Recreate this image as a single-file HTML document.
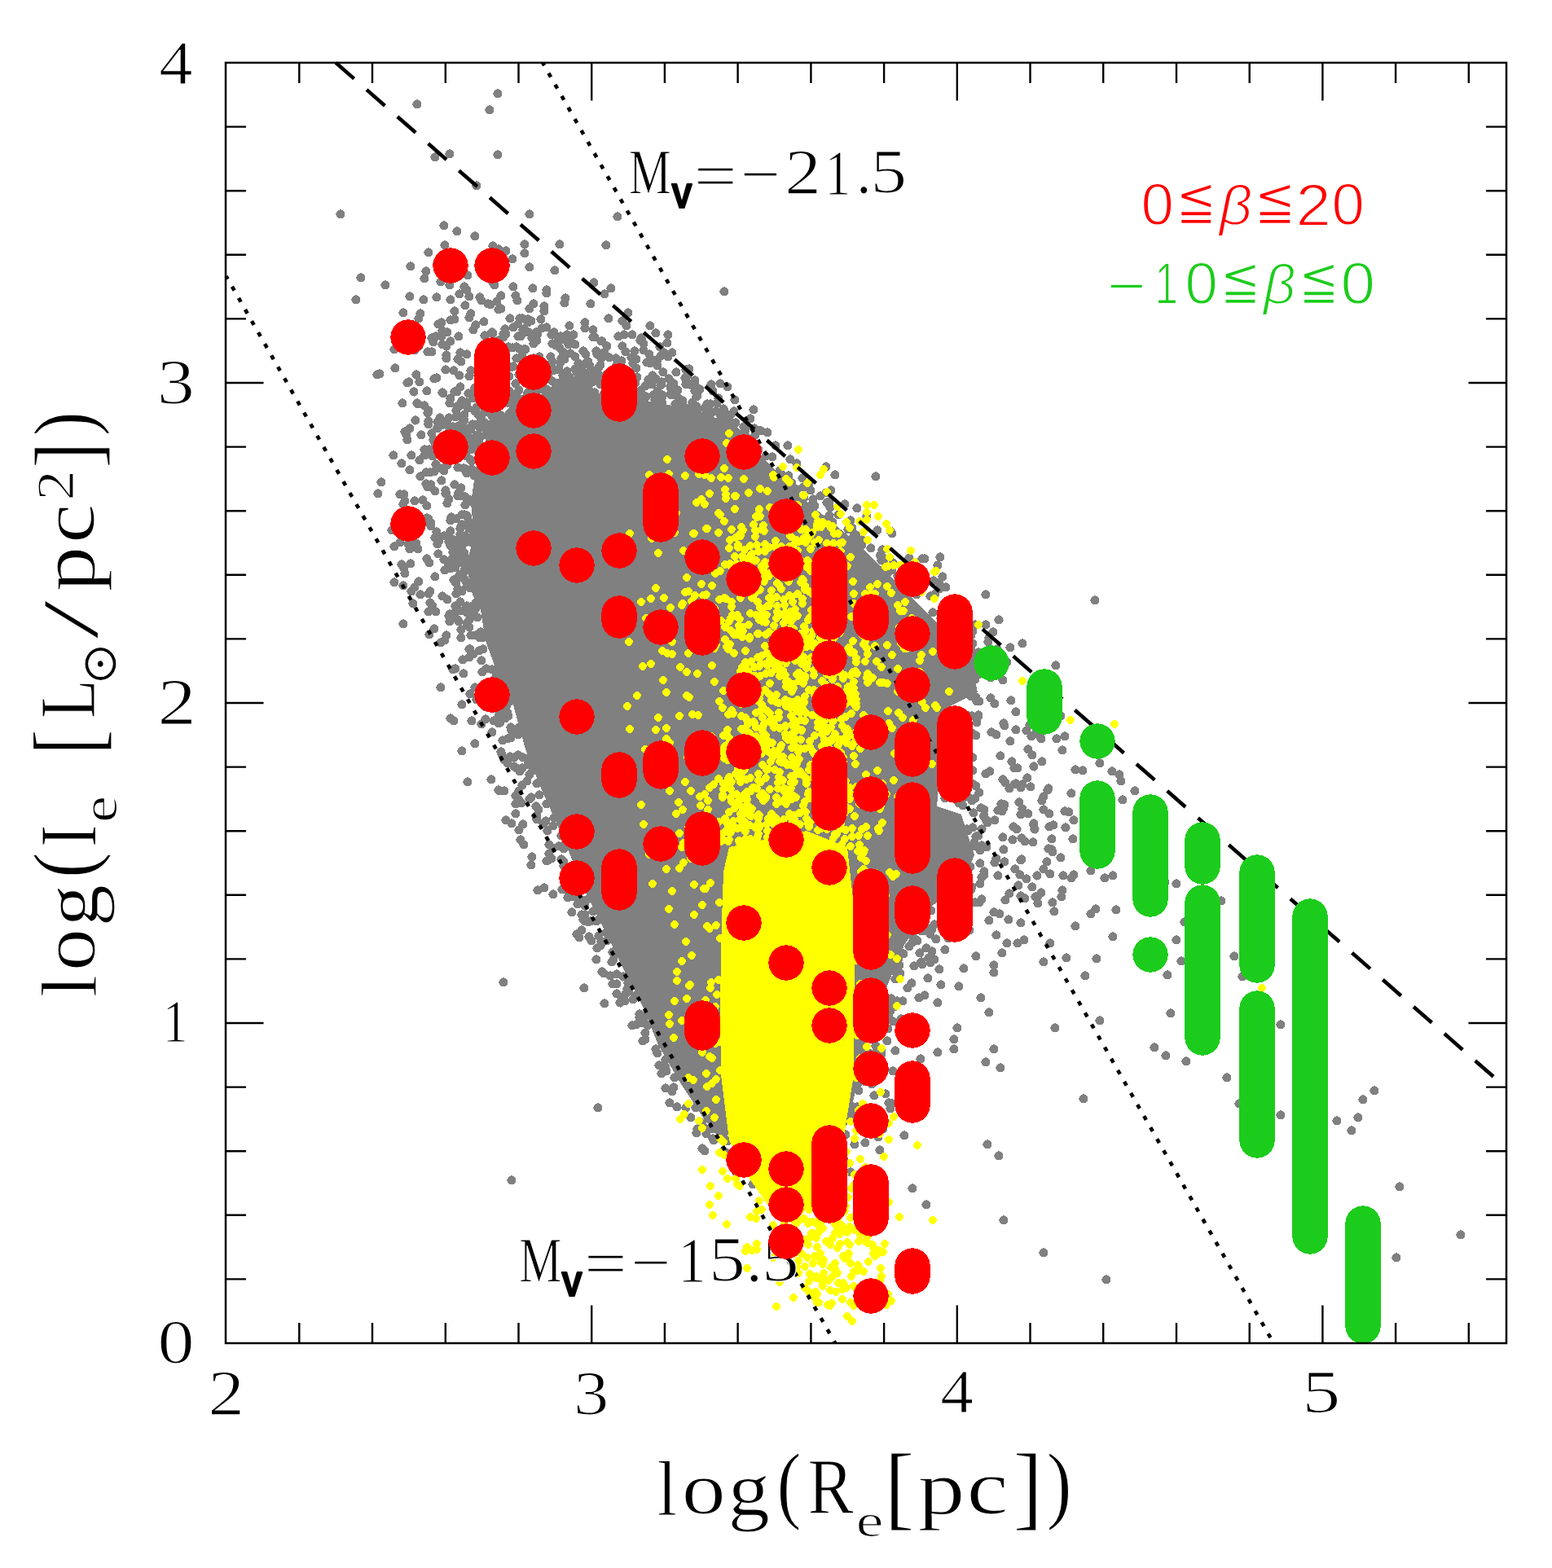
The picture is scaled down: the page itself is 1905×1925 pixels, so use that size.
<!DOCTYPE html>
<html><head><meta charset="utf-8"><title>log Ie vs log Re</title>
<style>html,body{margin:0;padding:0;background:#fff;}svg{display:block;}
</style></head>
<body>
<svg width="1905" height="1925" viewBox="0 0 1905 1925">
<rect width="1905" height="1925" fill="#fff"/>
<g shape-rendering="crispEdges">
<polygon points="700,478 760,488 810,495 860,505 906,525 942,568 989,615 1048,663 1095,710 1142,757 1190,804 1200,850 1160,870 1150,990 1180,1000 1196,1050 1180,1086 1140,1115 1110,1160 1085,1220 1060,1300 1040,1380 1000,1420 921,1403 867,1378 836,1331 808,1283 789,1236 765,1189 742,1142 718,1094 700,1050 683,1010 665,970 645,920 629,862 610,825 596,787 590,749 580,730 572,692 582,660 578,617 585,570 600,530 625,500 655,485" fill="#808080"/>
<g fill="#808080">
<circle cx="847" cy="501" r="5.6"/>
<circle cx="1250" cy="1087" r="5.6"/>
<circle cx="514" cy="714" r="5.6"/>
<circle cx="1214" cy="805" r="5.6"/>
<circle cx="567" cy="644" r="5.6"/>
<circle cx="549" cy="517" r="5.6"/>
<circle cx="495" cy="619" r="5.6"/>
<circle cx="730" cy="482" r="5.6"/>
<circle cx="706" cy="423" r="5.6"/>
<circle cx="1050" cy="659" r="5.6"/>
<circle cx="567" cy="609" r="5.6"/>
<circle cx="578" cy="527" r="5.6"/>
<circle cx="576" cy="462" r="5.6"/>
<circle cx="553" cy="670" r="5.6"/>
<circle cx="1210" cy="1006" r="5.6"/>
<circle cx="810" cy="426" r="5.6"/>
<circle cx="1086" cy="1233" r="5.6"/>
<circle cx="850" cy="494" r="5.6"/>
<circle cx="773" cy="465" r="5.6"/>
<circle cx="1182" cy="792" r="5.6"/>
<circle cx="1202" cy="973" r="5.6"/>
<circle cx="595" cy="424" r="5.6"/>
<circle cx="571" cy="610" r="5.6"/>
<circle cx="1124" cy="701" r="5.6"/>
<circle cx="652" cy="394" r="5.6"/>
<circle cx="1205" cy="1077" r="5.6"/>
<circle cx="677" cy="1054" r="5.6"/>
<circle cx="1253" cy="1100" r="5.6"/>
<circle cx="1345" cy="1116" r="5.6"/>
<circle cx="581" cy="542" r="5.6"/>
<circle cx="1096" cy="1315" r="5.6"/>
<circle cx="863" cy="1385" r="5.6"/>
<circle cx="792" cy="487" r="5.6"/>
<circle cx="991" cy="1435" r="5.6"/>
<circle cx="722" cy="479" r="5.6"/>
<circle cx="553" cy="419" r="5.6"/>
<circle cx="751" cy="1181" r="5.6"/>
<circle cx="578" cy="455" r="5.6"/>
<circle cx="1051" cy="657" r="5.6"/>
<circle cx="633" cy="363" r="5.6"/>
<circle cx="987" cy="611" r="5.6"/>
<circle cx="575" cy="641" r="5.6"/>
<circle cx="1091" cy="1354" r="5.6"/>
<circle cx="495" cy="384" r="5.6"/>
<circle cx="1205" cy="821" r="5.6"/>
<circle cx="463" cy="460" r="5.6"/>
<circle cx="1081" cy="1321" r="5.6"/>
<circle cx="1253" cy="1133" r="5.6"/>
<circle cx="707" cy="475" r="5.6"/>
<circle cx="526" cy="729" r="5.6"/>
<circle cx="621" cy="308" r="5.6"/>
<circle cx="593" cy="498" r="5.6"/>
<circle cx="942" cy="531" r="5.6"/>
<circle cx="1161" cy="962" r="5.6"/>
<circle cx="1307" cy="996" r="5.6"/>
<circle cx="692" cy="1058" r="5.6"/>
<circle cx="495" cy="766" r="5.6"/>
<circle cx="1267" cy="927" r="5.6"/>
<circle cx="493" cy="693" r="5.6"/>
<circle cx="914" cy="525" r="5.6"/>
<circle cx="825" cy="1340" r="5.6"/>
<circle cx="1374" cy="951" r="5.6"/>
<circle cx="1243" cy="1031" r="5.6"/>
<circle cx="601" cy="454" r="5.6"/>
<circle cx="904" cy="1440" r="5.6"/>
<circle cx="668" cy="382" r="5.6"/>
<circle cx="927" cy="550" r="5.6"/>
<circle cx="692" cy="1038" r="5.6"/>
<circle cx="582" cy="584" r="5.6"/>
<circle cx="1269" cy="941" r="5.6"/>
<circle cx="1201" cy="828" r="5.6"/>
<circle cx="595" cy="423" r="5.6"/>
<circle cx="645" cy="429" r="5.6"/>
<circle cx="744" cy="460" r="5.6"/>
<circle cx="946" cy="1426" r="5.6"/>
<circle cx="781" cy="452" r="5.6"/>
<circle cx="719" cy="467" r="5.6"/>
<circle cx="597" cy="867" r="5.6"/>
<circle cx="1182" cy="1081" r="5.6"/>
<circle cx="589" cy="469" r="5.6"/>
<circle cx="591" cy="525" r="5.6"/>
<circle cx="573" cy="494" r="5.6"/>
<circle cx="641" cy="391" r="5.6"/>
<circle cx="770" cy="474" r="5.6"/>
<circle cx="567" cy="670" r="5.6"/>
<circle cx="641" cy="440" r="5.6"/>
<circle cx="1155" cy="759" r="5.6"/>
<circle cx="633" cy="471" r="5.6"/>
<circle cx="549" cy="618" r="5.6"/>
<circle cx="1164" cy="935" r="5.6"/>
<circle cx="749" cy="1198" r="5.6"/>
<circle cx="1121" cy="1155" r="5.6"/>
<circle cx="829" cy="482" r="5.6"/>
<circle cx="1010" cy="1453" r="5.6"/>
<circle cx="654" cy="483" r="5.6"/>
<circle cx="753" cy="471" r="5.6"/>
<circle cx="1188" cy="1020" r="5.6"/>
<circle cx="1194" cy="790" r="5.6"/>
<circle cx="868" cy="505" r="5.6"/>
<circle cx="546" cy="301" r="5.6"/>
<circle cx="624" cy="426" r="5.6"/>
<circle cx="811" cy="473" r="5.6"/>
<circle cx="658" cy="1002" r="5.6"/>
<circle cx="727" cy="469" r="5.6"/>
<circle cx="1223" cy="1054" r="5.6"/>
<circle cx="682" cy="424" r="5.6"/>
<circle cx="552" cy="754" r="5.6"/>
<circle cx="1231" cy="835" r="5.6"/>
<circle cx="616" cy="495" r="5.6"/>
<circle cx="760" cy="472" r="5.6"/>
<circle cx="854" cy="1360" r="5.6"/>
<circle cx="562" cy="723" r="5.6"/>
<circle cx="1179" cy="1135" r="5.6"/>
<circle cx="1129" cy="1170" r="5.6"/>
<circle cx="792" cy="1276" r="5.6"/>
<circle cx="1159" cy="889" r="5.6"/>
<circle cx="759" cy="413" r="5.6"/>
<circle cx="612" cy="380" r="5.6"/>
<circle cx="558" cy="481" r="5.6"/>
<circle cx="691" cy="461" r="5.6"/>
<circle cx="678" cy="1041" r="5.6"/>
<circle cx="633" cy="999" r="5.6"/>
<circle cx="1204" cy="992" r="5.6"/>
<circle cx="620" cy="462" r="5.6"/>
<circle cx="1172" cy="933" r="5.6"/>
<circle cx="688" cy="445" r="5.6"/>
<circle cx="1046" cy="648" r="5.6"/>
<circle cx="553" cy="393" r="5.6"/>
<circle cx="639" cy="1031" r="5.6"/>
<circle cx="716" cy="1129" r="5.6"/>
<circle cx="803" cy="443" r="5.6"/>
<circle cx="643" cy="429" r="5.6"/>
<circle cx="968" cy="584" r="5.6"/>
<circle cx="828" cy="1323" r="5.6"/>
<circle cx="1153" cy="723" r="5.6"/>
<circle cx="897" cy="1426" r="5.6"/>
<circle cx="588" cy="541" r="5.6"/>
<circle cx="586" cy="534" r="5.6"/>
<circle cx="577" cy="852" r="5.6"/>
<circle cx="920" cy="1410" r="5.6"/>
<circle cx="550" cy="691" r="5.6"/>
<circle cx="910" cy="1431" r="5.6"/>
<circle cx="915" cy="535" r="5.6"/>
<circle cx="1268" cy="1034" r="5.6"/>
<circle cx="678" cy="444" r="5.6"/>
<circle cx="595" cy="506" r="5.6"/>
<circle cx="872" cy="496" r="5.6"/>
<circle cx="1000" cy="621" r="5.6"/>
<circle cx="686" cy="1039" r="5.6"/>
<circle cx="556" cy="822" r="5.6"/>
<circle cx="668" cy="376" r="5.6"/>
<circle cx="655" cy="440" r="5.6"/>
<circle cx="659" cy="962" r="5.6"/>
<circle cx="817" cy="1312" r="5.6"/>
<circle cx="817" cy="1301" r="5.6"/>
<circle cx="1318" cy="1074" r="5.6"/>
<circle cx="901" cy="521" r="5.6"/>
<circle cx="725" cy="373" r="5.6"/>
<circle cx="622" cy="479" r="5.6"/>
<circle cx="813" cy="495" r="5.6"/>
<circle cx="498" cy="643" r="5.6"/>
<circle cx="612" cy="880" r="5.6"/>
<circle cx="633" cy="977" r="5.6"/>
<circle cx="545" cy="687" r="5.6"/>
<circle cx="1084" cy="1246" r="5.6"/>
<circle cx="1223" cy="902" r="5.6"/>
<circle cx="1281" cy="978" r="5.6"/>
<circle cx="509" cy="615" r="5.6"/>
<circle cx="1162" cy="925" r="5.6"/>
<circle cx="1274" cy="1109" r="5.6"/>
<circle cx="1041" cy="650" r="5.6"/>
<circle cx="1160" cy="1166" r="5.6"/>
<circle cx="1189" cy="799" r="5.6"/>
<circle cx="865" cy="501" r="5.6"/>
<circle cx="573" cy="546" r="5.6"/>
<circle cx="570" cy="352" r="5.6"/>
<circle cx="563" cy="523" r="5.6"/>
<circle cx="698" cy="417" r="5.6"/>
<circle cx="550" cy="697" r="5.6"/>
<circle cx="612" cy="306" r="5.6"/>
<circle cx="723" cy="1150" r="5.6"/>
<circle cx="957" cy="578" r="5.6"/>
<circle cx="1146" cy="713" r="5.6"/>
<circle cx="1177" cy="986" r="5.6"/>
<circle cx="789" cy="1278" r="5.6"/>
<circle cx="581" cy="749" r="5.6"/>
<circle cx="603" cy="465" r="5.6"/>
<circle cx="931" cy="552" r="5.6"/>
<circle cx="580" cy="521" r="5.6"/>
<circle cx="741" cy="433" r="5.6"/>
<circle cx="561" cy="481" r="5.6"/>
<circle cx="891" cy="516" r="5.6"/>
<circle cx="581" cy="803" r="5.6"/>
<circle cx="653" cy="1052" r="5.6"/>
<circle cx="549" cy="565" r="5.6"/>
<circle cx="616" cy="469" r="5.6"/>
<circle cx="585" cy="500" r="5.6"/>
<circle cx="882" cy="489" r="5.6"/>
<circle cx="709" cy="1110" r="5.6"/>
<circle cx="765" cy="1199" r="5.6"/>
<circle cx="1075" cy="1284" r="5.6"/>
<circle cx="609" cy="507" r="5.6"/>
<circle cx="536" cy="653" r="5.6"/>
<circle cx="1080" cy="1270" r="5.6"/>
<circle cx="1198" cy="827" r="5.6"/>
<circle cx="540" cy="513" r="5.6"/>
<circle cx="648" cy="482" r="5.6"/>
<circle cx="622" cy="866" r="5.6"/>
<circle cx="571" cy="375" r="5.6"/>
<circle cx="689" cy="440" r="5.6"/>
<circle cx="594" cy="486" r="5.6"/>
<circle cx="612" cy="470" r="5.6"/>
<circle cx="812" cy="469" r="5.6"/>
<circle cx="1307" cy="904" r="5.6"/>
<circle cx="642" cy="409" r="5.6"/>
<circle cx="1175" cy="1093" r="5.6"/>
<circle cx="1061" cy="1361" r="5.6"/>
<circle cx="782" cy="463" r="5.6"/>
<circle cx="573" cy="435" r="5.6"/>
<circle cx="792" cy="1268" r="5.6"/>
<circle cx="1216" cy="857" r="5.6"/>
<circle cx="1108" cy="1229" r="5.6"/>
<circle cx="915" cy="528" r="5.6"/>
<circle cx="650" cy="379" r="5.6"/>
<circle cx="725" cy="1131" r="5.6"/>
<circle cx="548" cy="425" r="5.6"/>
<circle cx="573" cy="752" r="5.6"/>
<circle cx="559" cy="715" r="5.6"/>
<circle cx="576" cy="390" r="5.6"/>
<circle cx="1119" cy="1207" r="5.6"/>
<circle cx="550" cy="523" r="5.6"/>
<circle cx="718" cy="1112" r="5.6"/>
<circle cx="537" cy="518" r="5.6"/>
<circle cx="567" cy="632" r="5.6"/>
<circle cx="613" cy="452" r="5.6"/>
<circle cx="722" cy="1132" r="5.6"/>
<circle cx="604" cy="408" r="5.6"/>
<circle cx="718" cy="1131" r="5.6"/>
<circle cx="1168" cy="1127" r="5.6"/>
<circle cx="859" cy="478" r="5.6"/>
<circle cx="1239" cy="1097" r="5.6"/>
<circle cx="534" cy="544" r="5.6"/>
<circle cx="986" cy="598" r="5.6"/>
<circle cx="1099" cy="1189" r="5.6"/>
<circle cx="620" cy="456" r="5.6"/>
<circle cx="1181" cy="981" r="5.6"/>
<circle cx="888" cy="502" r="5.6"/>
<circle cx="713" cy="1091" r="5.6"/>
<circle cx="927" cy="546" r="5.6"/>
<circle cx="903" cy="1438" r="5.6"/>
<circle cx="549" cy="569" r="5.6"/>
<circle cx="576" cy="364" r="5.6"/>
<circle cx="662" cy="976" r="5.6"/>
<circle cx="615" cy="877" r="5.6"/>
<circle cx="560" cy="749" r="5.6"/>
<circle cx="627" cy="906" r="5.6"/>
<circle cx="1144" cy="1141" r="5.6"/>
<circle cx="583" cy="505" r="5.6"/>
<circle cx="563" cy="413" r="5.6"/>
<circle cx="1187" cy="1095" r="5.6"/>
<circle cx="1015" cy="617" r="5.6"/>
<circle cx="1240" cy="910" r="5.6"/>
<circle cx="889" cy="513" r="5.6"/>
<circle cx="644" cy="311" r="5.6"/>
<circle cx="659" cy="1001" r="5.6"/>
<circle cx="699" cy="414" r="5.6"/>
<circle cx="617" cy="848" r="5.6"/>
<circle cx="1201" cy="801" r="5.6"/>
<circle cx="798" cy="446" r="5.6"/>
<circle cx="567" cy="535" r="5.6"/>
<circle cx="1101" cy="1187" r="5.6"/>
<circle cx="563" cy="763" r="5.6"/>
<circle cx="586" cy="758" r="5.6"/>
<circle cx="657" cy="417" r="5.6"/>
<circle cx="695" cy="465" r="5.6"/>
<circle cx="1128" cy="708" r="5.6"/>
<circle cx="516" cy="585" r="5.6"/>
<circle cx="1164" cy="1152" r="5.6"/>
<circle cx="824" cy="478" r="5.6"/>
<circle cx="1198" cy="856" r="5.6"/>
<circle cx="642" cy="405" r="5.6"/>
<circle cx="1062" cy="1297" r="5.6"/>
<circle cx="589" cy="486" r="5.6"/>
<circle cx="1166" cy="1127" r="5.6"/>
<circle cx="772" cy="489" r="5.6"/>
<circle cx="1202" cy="861" r="5.6"/>
<circle cx="1081" cy="683" r="5.6"/>
<circle cx="1265" cy="966" r="5.6"/>
<circle cx="1208" cy="1003" r="5.6"/>
<circle cx="587" cy="461" r="5.6"/>
<circle cx="686" cy="454" r="5.6"/>
<circle cx="708" cy="477" r="5.6"/>
<circle cx="548" cy="558" r="5.6"/>
<circle cx="1109" cy="696" r="5.6"/>
<circle cx="728" cy="1119" r="5.6"/>
<circle cx="654" cy="485" r="5.6"/>
<circle cx="564" cy="706" r="5.6"/>
<circle cx="1279" cy="983" r="5.6"/>
<circle cx="1220" cy="1194" r="5.6"/>
<circle cx="1193" cy="1089" r="5.6"/>
<circle cx="711" cy="1091" r="5.6"/>
<circle cx="1287" cy="1042" r="5.6"/>
<circle cx="1132" cy="714" r="5.6"/>
<circle cx="667" cy="1011" r="5.6"/>
<circle cx="642" cy="1012" r="5.6"/>
<circle cx="570" cy="711" r="5.6"/>
<circle cx="511" cy="420" r="5.6"/>
<circle cx="1238" cy="1129" r="5.6"/>
<circle cx="603" cy="476" r="5.6"/>
<circle cx="1162" cy="956" r="5.6"/>
<circle cx="626" cy="861" r="5.6"/>
<circle cx="1269" cy="1011" r="5.6"/>
<circle cx="648" cy="396" r="5.6"/>
<circle cx="610" cy="370" r="5.6"/>
<circle cx="871" cy="1386" r="5.6"/>
<circle cx="519" cy="614" r="5.6"/>
<circle cx="605" cy="347" r="5.6"/>
<circle cx="1187" cy="1018" r="5.6"/>
<circle cx="539" cy="664" r="5.6"/>
<circle cx="788" cy="1256" r="5.6"/>
<circle cx="1226" cy="761" r="5.6"/>
<circle cx="728" cy="414" r="5.6"/>
<circle cx="565" cy="534" r="5.6"/>
<circle cx="856" cy="1386" r="5.6"/>
<circle cx="970" cy="564" r="5.6"/>
<circle cx="641" cy="436" r="5.6"/>
<circle cx="879" cy="505" r="5.6"/>
<circle cx="758" cy="455" r="5.6"/>
<circle cx="1083" cy="675" r="5.6"/>
<circle cx="655" cy="373" r="5.6"/>
<circle cx="548" cy="440" r="5.6"/>
<circle cx="646" cy="488" r="5.6"/>
<circle cx="934" cy="1406" r="5.6"/>
<circle cx="1082" cy="688" r="5.6"/>
<circle cx="1192" cy="1092" r="5.6"/>
<circle cx="519" cy="642" r="5.6"/>
<circle cx="620" cy="404" r="5.6"/>
<circle cx="535" cy="570" r="5.6"/>
<circle cx="609" cy="516" r="5.6"/>
<circle cx="768" cy="467" r="5.6"/>
<circle cx="760" cy="481" r="5.6"/>
<circle cx="1154" cy="684" r="5.6"/>
<circle cx="1198" cy="1174" r="5.6"/>
<circle cx="567" cy="537" r="5.6"/>
<circle cx="960" cy="1415" r="5.6"/>
<circle cx="779" cy="481" r="5.6"/>
<circle cx="558" cy="756" r="5.6"/>
<circle cx="615" cy="923" r="5.6"/>
<circle cx="689" cy="1055" r="5.6"/>
<circle cx="671" cy="462" r="5.6"/>
<circle cx="1149" cy="1153" r="5.6"/>
<circle cx="1234" cy="1105" r="5.6"/>
<circle cx="595" cy="444" r="5.6"/>
<circle cx="1303" cy="1101" r="5.6"/>
<circle cx="1201" cy="1026" r="5.6"/>
<circle cx="1240" cy="795" r="5.6"/>
<circle cx="817" cy="1336" r="5.6"/>
<circle cx="744" cy="461" r="5.6"/>
<circle cx="823" cy="484" r="5.6"/>
<circle cx="569" cy="575" r="5.6"/>
<circle cx="628" cy="484" r="5.6"/>
<circle cx="756" cy="440" r="5.6"/>
<circle cx="594" cy="477" r="5.6"/>
<circle cx="573" cy="581" r="5.6"/>
<circle cx="631" cy="941" r="5.6"/>
<circle cx="579" cy="566" r="5.6"/>
<circle cx="823" cy="474" r="5.6"/>
<circle cx="1212" cy="1010" r="5.6"/>
<circle cx="732" cy="463" r="5.6"/>
<circle cx="1189" cy="900" r="5.6"/>
<circle cx="1079" cy="1306" r="5.6"/>
<circle cx="1253" cy="1000" r="5.6"/>
<circle cx="967" cy="547" r="5.6"/>
<circle cx="697" cy="1102" r="5.6"/>
<circle cx="567" cy="531" r="5.6"/>
<circle cx="557" cy="685" r="5.6"/>
<circle cx="650" cy="466" r="5.6"/>
<circle cx="591" cy="369" r="5.6"/>
<circle cx="733" cy="1164" r="5.6"/>
<circle cx="495" cy="719" r="5.6"/>
<circle cx="537" cy="323" r="5.6"/>
<circle cx="690" cy="471" r="5.6"/>
<circle cx="923" cy="543" r="5.6"/>
<circle cx="1044" cy="1439" r="5.6"/>
<circle cx="696" cy="1072" r="5.6"/>
<circle cx="638" cy="490" r="5.6"/>
<circle cx="650" cy="951" r="5.6"/>
<circle cx="696" cy="413" r="5.6"/>
<circle cx="589" cy="486" r="5.6"/>
<circle cx="567" cy="550" r="5.6"/>
<circle cx="531" cy="744" r="5.6"/>
<circle cx="807" cy="480" r="5.6"/>
<circle cx="889" cy="1390" r="5.6"/>
<circle cx="609" cy="465" r="5.6"/>
<circle cx="623" cy="937" r="5.6"/>
<circle cx="1199" cy="887" r="5.6"/>
<circle cx="1197" cy="1108" r="5.6"/>
<circle cx="503" cy="364" r="5.6"/>
<circle cx="1218" cy="820" r="5.6"/>
<circle cx="551" cy="756" r="5.6"/>
<circle cx="1158" cy="1130" r="5.6"/>
<circle cx="1239" cy="968" r="5.6"/>
<circle cx="1192" cy="855" r="5.6"/>
<circle cx="767" cy="1229" r="5.6"/>
<circle cx="637" cy="971" r="5.6"/>
<circle cx="1161" cy="897" r="5.6"/>
<circle cx="491" cy="607" r="5.6"/>
<circle cx="536" cy="365" r="5.6"/>
<circle cx="978" cy="569" r="5.6"/>
<circle cx="730" cy="414" r="5.6"/>
<circle cx="1166" cy="946" r="5.6"/>
<circle cx="1049" cy="1405" r="5.6"/>
<circle cx="1101" cy="1229" r="5.6"/>
<circle cx="1160" cy="754" r="5.6"/>
<circle cx="514" cy="391" r="5.6"/>
<circle cx="1206" cy="812" r="5.6"/>
<circle cx="615" cy="876" r="5.6"/>
<circle cx="805" cy="1288" r="5.6"/>
<circle cx="1014" cy="605" r="5.6"/>
<circle cx="526" cy="751" r="5.6"/>
<circle cx="996" cy="620" r="5.6"/>
<circle cx="980" cy="1454" r="5.6"/>
<circle cx="621" cy="480" r="5.6"/>
<circle cx="502" cy="469" r="5.6"/>
<circle cx="605" cy="302" r="5.6"/>
<circle cx="679" cy="455" r="5.6"/>
<circle cx="567" cy="865" r="5.6"/>
<circle cx="1165" cy="738" r="5.6"/>
<circle cx="635" cy="899" r="5.6"/>
<circle cx="875" cy="480" r="5.6"/>
<circle cx="607" cy="476" r="5.6"/>
<circle cx="1036" cy="1424" r="5.6"/>
<circle cx="586" cy="486" r="5.6"/>
<circle cx="615" cy="363" r="5.6"/>
<circle cx="576" cy="761" r="5.6"/>
<circle cx="651" cy="460" r="5.6"/>
<circle cx="752" cy="1208" r="5.6"/>
<circle cx="867" cy="498" r="5.6"/>
<circle cx="543" cy="423" r="5.6"/>
<circle cx="554" cy="687" r="5.6"/>
<circle cx="1189" cy="879" r="5.6"/>
<circle cx="607" cy="850" r="5.6"/>
<circle cx="609" cy="459" r="5.6"/>
<circle cx="751" cy="465" r="5.6"/>
<circle cx="1137" cy="1139" r="5.6"/>
<circle cx="627" cy="893" r="5.6"/>
<circle cx="1320" cy="945" r="5.6"/>
<circle cx="549" cy="408" r="5.6"/>
<circle cx="1095" cy="700" r="5.6"/>
<circle cx="1185" cy="1085" r="5.6"/>
<circle cx="1166" cy="745" r="5.6"/>
<circle cx="563" cy="605" r="5.6"/>
<circle cx="558" cy="528" r="5.6"/>
<circle cx="1054" cy="1339" r="5.6"/>
<circle cx="473" cy="350" r="5.6"/>
<circle cx="577" cy="797" r="5.6"/>
<circle cx="777" cy="1227" r="5.6"/>
<circle cx="725" cy="462" r="5.6"/>
<circle cx="561" cy="552" r="5.6"/>
<circle cx="1195" cy="963" r="5.6"/>
<circle cx="804" cy="491" r="5.6"/>
<circle cx="1261" cy="955" r="5.6"/>
<circle cx="558" cy="670" r="5.6"/>
<circle cx="630" cy="352" r="5.6"/>
<circle cx="685" cy="473" r="5.6"/>
<circle cx="509" cy="430" r="5.6"/>
<circle cx="773" cy="488" r="5.6"/>
<circle cx="1191" cy="1064" r="5.6"/>
<circle cx="570" cy="679" r="5.6"/>
<circle cx="1178" cy="957" r="5.6"/>
<circle cx="571" cy="620" r="5.6"/>
<circle cx="676" cy="438" r="5.6"/>
<circle cx="1205" cy="1018" r="5.6"/>
<circle cx="719" cy="435" r="5.6"/>
<circle cx="526" cy="521" r="5.6"/>
<circle cx="1081" cy="1309" r="5.6"/>
<circle cx="579" cy="885" r="5.6"/>
<circle cx="672" cy="1020" r="5.6"/>
<circle cx="1093" cy="1241" r="5.6"/>
<circle cx="892" cy="514" r="5.6"/>
<circle cx="1194" cy="1016" r="5.6"/>
<circle cx="631" cy="930" r="5.6"/>
<circle cx="1231" cy="957" r="5.6"/>
<circle cx="824" cy="485" r="5.6"/>
<circle cx="1287" cy="1042" r="5.6"/>
<circle cx="735" cy="1149" r="5.6"/>
<circle cx="630" cy="489" r="5.6"/>
<circle cx="503" cy="577" r="5.6"/>
<circle cx="1244" cy="1015" r="5.6"/>
<circle cx="562" cy="551" r="5.6"/>
<circle cx="659" cy="1006" r="5.6"/>
<circle cx="752" cy="459" r="5.6"/>
<circle cx="699" cy="471" r="5.6"/>
<circle cx="526" cy="517" r="5.6"/>
<circle cx="619" cy="971" r="5.6"/>
<circle cx="503" cy="674" r="5.6"/>
<circle cx="637" cy="1019" r="5.6"/>
<circle cx="600" cy="466" r="5.6"/>
<circle cx="543" cy="482" r="5.6"/>
<circle cx="1194" cy="818" r="5.6"/>
<circle cx="790" cy="422" r="5.6"/>
<circle cx="650" cy="939" r="5.6"/>
<circle cx="722" cy="444" r="5.6"/>
<circle cx="738" cy="440" r="5.6"/>
<circle cx="913" cy="524" r="5.6"/>
<circle cx="817" cy="1310" r="5.6"/>
<circle cx="1105" cy="1195" r="5.6"/>
<circle cx="533" cy="579" r="5.6"/>
<circle cx="625" cy="495" r="5.6"/>
<circle cx="855" cy="1391" r="5.6"/>
<circle cx="1206" cy="819" r="5.6"/>
<circle cx="1029" cy="632" r="5.6"/>
<circle cx="750" cy="354" r="5.6"/>
<circle cx="637" cy="428" r="5.6"/>
<circle cx="1081" cy="681" r="5.6"/>
<circle cx="1022" cy="1423" r="5.6"/>
<circle cx="587" cy="555" r="5.6"/>
<circle cx="1246" cy="1067" r="5.6"/>
<circle cx="536" cy="464" r="5.6"/>
<circle cx="584" cy="536" r="5.6"/>
<circle cx="1086" cy="698" r="5.6"/>
<circle cx="576" cy="550" r="5.6"/>
<circle cx="497" cy="530" r="5.6"/>
<circle cx="1151" cy="694" r="5.6"/>
<circle cx="1210" cy="950" r="5.6"/>
<circle cx="853" cy="470" r="5.6"/>
<circle cx="873" cy="507" r="5.6"/>
<circle cx="698" cy="423" r="5.6"/>
<circle cx="611" cy="490" r="5.6"/>
<circle cx="856" cy="502" r="5.6"/>
<circle cx="628" cy="897" r="5.6"/>
<circle cx="609" cy="457" r="5.6"/>
<circle cx="571" cy="658" r="5.6"/>
<circle cx="1178" cy="1102" r="5.6"/>
<circle cx="814" cy="434" r="5.6"/>
<circle cx="681" cy="332" r="5.6"/>
<circle cx="1089" cy="1278" r="5.6"/>
<circle cx="585" cy="859" r="5.6"/>
<circle cx="1192" cy="810" r="5.6"/>
<circle cx="1203" cy="1060" r="5.6"/>
<circle cx="524" cy="480" r="5.6"/>
<circle cx="573" cy="356" r="5.6"/>
<circle cx="856" cy="486" r="5.6"/>
<circle cx="1059" cy="1326" r="5.6"/>
<circle cx="659" cy="418" r="5.6"/>
<circle cx="1202" cy="1108" r="5.6"/>
<circle cx="533" cy="465" r="5.6"/>
<circle cx="1188" cy="1091" r="5.6"/>
<circle cx="604" cy="870" r="5.6"/>
<circle cx="642" cy="457" r="5.6"/>
<circle cx="673" cy="1056" r="5.6"/>
<circle cx="1229" cy="987" r="5.6"/>
<circle cx="843" cy="469" r="5.6"/>
<circle cx="1236" cy="1158" r="5.6"/>
<circle cx="665" cy="403" r="5.6"/>
<circle cx="671" cy="459" r="5.6"/>
<circle cx="673" cy="481" r="5.6"/>
<circle cx="738" cy="1156" r="5.6"/>
<circle cx="591" cy="514" r="5.6"/>
<circle cx="1126" cy="1155" r="5.6"/>
<circle cx="692" cy="1042" r="5.6"/>
<circle cx="515" cy="469" r="5.6"/>
<circle cx="874" cy="506" r="5.6"/>
<circle cx="791" cy="1249" r="5.6"/>
<circle cx="674" cy="1048" r="5.6"/>
<circle cx="609" cy="843" r="5.6"/>
<circle cx="1084" cy="1386" r="5.6"/>
<circle cx="510" cy="516" r="5.6"/>
<circle cx="516" cy="385" r="5.6"/>
<circle cx="1114" cy="1213" r="5.6"/>
<circle cx="1053" cy="666" r="5.6"/>
<circle cx="565" cy="475" r="5.6"/>
<circle cx="571" cy="688" r="5.6"/>
<circle cx="563" cy="675" r="5.6"/>
<circle cx="1074" cy="1293" r="5.6"/>
<circle cx="550" cy="536" r="5.6"/>
<circle cx="673" cy="450" r="5.6"/>
<circle cx="604" cy="525" r="5.6"/>
<circle cx="751" cy="486" r="5.6"/>
<circle cx="534" cy="660" r="5.6"/>
<circle cx="551" cy="613" r="5.6"/>
<circle cx="1020" cy="602" r="5.6"/>
<circle cx="902" cy="491" r="5.6"/>
<circle cx="1352" cy="923" r="5.6"/>
<circle cx="670" cy="1008" r="5.6"/>
<circle cx="548" cy="558" r="5.6"/>
<circle cx="611" cy="871" r="5.6"/>
<circle cx="621" cy="432" r="5.6"/>
<circle cx="1085" cy="689" r="5.6"/>
<circle cx="1007" cy="609" r="5.6"/>
<circle cx="777" cy="446" r="5.6"/>
<circle cx="572" cy="714" r="5.6"/>
<circle cx="707" cy="473" r="5.6"/>
<circle cx="897" cy="509" r="5.6"/>
<circle cx="568" cy="810" r="5.6"/>
<circle cx="661" cy="994" r="5.6"/>
<circle cx="559" cy="512" r="5.6"/>
<circle cx="703" cy="1101" r="5.6"/>
<circle cx="918" cy="1418" r="5.6"/>
<circle cx="1122" cy="1186" r="5.6"/>
<circle cx="790" cy="430" r="5.6"/>
<circle cx="805" cy="465" r="5.6"/>
<circle cx="515" cy="565" r="5.6"/>
<circle cx="1203" cy="1085" r="5.6"/>
<circle cx="577" cy="642" r="5.6"/>
<circle cx="1266" cy="904" r="5.6"/>
<circle cx="654" cy="354" r="5.6"/>
<circle cx="491" cy="666" r="5.6"/>
<circle cx="662" cy="438" r="5.6"/>
<circle cx="671" cy="360" r="5.6"/>
<circle cx="1074" cy="1259" r="5.6"/>
<circle cx="896" cy="519" r="5.6"/>
<circle cx="1053" cy="1372" r="5.6"/>
<circle cx="1132" cy="1130" r="5.6"/>
<circle cx="732" cy="431" r="5.6"/>
<circle cx="521" cy="559" r="5.6"/>
<circle cx="566" cy="444" r="5.6"/>
<circle cx="1070" cy="1331" r="5.6"/>
<circle cx="1197" cy="831" r="5.6"/>
<circle cx="607" cy="350" r="5.6"/>
<circle cx="579" cy="576" r="5.6"/>
<circle cx="547" cy="602" r="5.6"/>
<circle cx="648" cy="939" r="5.6"/>
<circle cx="538" cy="680" r="5.6"/>
<circle cx="576" cy="797" r="5.6"/>
<circle cx="558" cy="382" r="5.6"/>
<circle cx="497" cy="615" r="5.6"/>
<circle cx="1205" cy="1038" r="5.6"/>
<circle cx="572" cy="498" r="5.6"/>
<circle cx="735" cy="451" r="5.6"/>
<circle cx="607" cy="481" r="5.6"/>
<circle cx="689" cy="1026" r="5.6"/>
<circle cx="625" cy="462" r="5.6"/>
<circle cx="676" cy="452" r="5.6"/>
<circle cx="1142" cy="1147" r="5.6"/>
<circle cx="1058" cy="1313" r="5.6"/>
<circle cx="697" cy="465" r="5.6"/>
<circle cx="1225" cy="995" r="5.6"/>
<circle cx="509" cy="721" r="5.6"/>
<circle cx="497" cy="704" r="5.6"/>
<circle cx="671" cy="987" r="5.6"/>
<circle cx="543" cy="732" r="5.6"/>
<circle cx="1153" cy="1190" r="5.6"/>
<circle cx="747" cy="464" r="5.6"/>
<circle cx="576" cy="539" r="5.6"/>
<circle cx="996" cy="1420" r="5.6"/>
<circle cx="527" cy="552" r="5.6"/>
<circle cx="532" cy="420" r="5.6"/>
<circle cx="706" cy="453" r="5.6"/>
<circle cx="1228" cy="928" r="5.6"/>
<circle cx="620" cy="882" r="5.6"/>
<circle cx="594" cy="395" r="5.6"/>
<circle cx="544" cy="483" r="5.6"/>
<circle cx="676" cy="1054" r="5.6"/>
<circle cx="832" cy="479" r="5.6"/>
<circle cx="829" cy="496" r="5.6"/>
<circle cx="602" cy="374" r="5.6"/>
<circle cx="586" cy="521" r="5.6"/>
<circle cx="692" cy="464" r="5.6"/>
<circle cx="584" cy="486" r="5.6"/>
<circle cx="1180" cy="942" r="5.6"/>
<circle cx="1211" cy="1007" r="5.6"/>
<circle cx="867" cy="1392" r="5.6"/>
<circle cx="768" cy="1220" r="5.6"/>
<circle cx="542" cy="590" r="5.6"/>
<circle cx="528" cy="740" r="5.6"/>
<circle cx="1198" cy="819" r="5.6"/>
<circle cx="1082" cy="1288" r="5.6"/>
<circle cx="567" cy="492" r="5.6"/>
<circle cx="638" cy="947" r="5.6"/>
<circle cx="1062" cy="1403" r="5.6"/>
<circle cx="1203" cy="1044" r="5.6"/>
<circle cx="742" cy="463" r="5.6"/>
<circle cx="655" cy="422" r="5.6"/>
<circle cx="548" cy="780" r="5.6"/>
<circle cx="604" cy="511" r="5.6"/>
<circle cx="842" cy="1360" r="5.6"/>
<circle cx="1019" cy="1434" r="5.6"/>
<circle cx="1185" cy="1108" r="5.6"/>
<circle cx="657" cy="475" r="5.6"/>
<circle cx="691" cy="468" r="5.6"/>
<circle cx="1043" cy="1371" r="5.6"/>
<circle cx="737" cy="448" r="5.6"/>
<circle cx="807" cy="442" r="5.6"/>
<circle cx="946" cy="1432" r="5.6"/>
<circle cx="910" cy="1431" r="5.6"/>
<circle cx="802" cy="485" r="5.6"/>
<circle cx="521" cy="498" r="5.6"/>
<circle cx="525" cy="598" r="5.6"/>
<circle cx="609" cy="501" r="5.6"/>
<circle cx="786" cy="490" r="5.6"/>
<circle cx="745" cy="425" r="5.6"/>
<circle cx="583" cy="844" r="5.6"/>
<circle cx="998" cy="613" r="5.6"/>
<circle cx="1245" cy="963" r="5.6"/>
<circle cx="885" cy="511" r="5.6"/>
<circle cx="1048" cy="660" r="5.6"/>
<circle cx="678" cy="468" r="5.6"/>
<circle cx="907" cy="1412" r="5.6"/>
<circle cx="1058" cy="663" r="5.6"/>
<circle cx="1219" cy="776" r="5.6"/>
<circle cx="713" cy="468" r="5.6"/>
<circle cx="1099" cy="1202" r="5.6"/>
<circle cx="897" cy="520" r="5.6"/>
<circle cx="741" cy="1195" r="5.6"/>
<circle cx="597" cy="845" r="5.6"/>
<circle cx="563" cy="499" r="5.6"/>
<circle cx="668" cy="1090" r="5.6"/>
<circle cx="1080" cy="1370" r="5.6"/>
<circle cx="1205" cy="1104" r="5.6"/>
<circle cx="595" cy="412" r="5.6"/>
<circle cx="1197" cy="767" r="5.6"/>
<circle cx="1230" cy="996" r="5.6"/>
<circle cx="600" cy="317" r="5.6"/>
<circle cx="552" cy="763" r="5.6"/>
<circle cx="1293" cy="1013" r="5.6"/>
<circle cx="718" cy="403" r="5.6"/>
<circle cx="576" cy="807" r="5.6"/>
<circle cx="596" cy="482" r="5.6"/>
<circle cx="604" cy="899" r="5.6"/>
<circle cx="649" cy="408" r="5.6"/>
<circle cx="1183" cy="1082" r="5.6"/>
<circle cx="764" cy="1225" r="5.6"/>
<circle cx="599" cy="373" r="5.6"/>
<circle cx="680" cy="408" r="5.6"/>
<circle cx="1291" cy="885" r="5.6"/>
<circle cx="736" cy="461" r="5.6"/>
<circle cx="731" cy="457" r="5.6"/>
<circle cx="1233" cy="1058" r="5.6"/>
<circle cx="1052" cy="1359" r="5.6"/>
<circle cx="1214" cy="1130" r="5.6"/>
<circle cx="553" cy="668" r="5.6"/>
<circle cx="1091" cy="702" r="5.6"/>
<circle cx="648" cy="392" r="5.6"/>
<circle cx="584" cy="740" r="5.6"/>
<circle cx="593" cy="797" r="5.6"/>
<circle cx="795" cy="471" r="5.6"/>
<circle cx="636" cy="413" r="5.6"/>
<circle cx="634" cy="426" r="5.6"/>
<circle cx="978" cy="601" r="5.6"/>
<circle cx="693" cy="478" r="5.6"/>
<circle cx="932" cy="529" r="5.6"/>
<circle cx="581" cy="489" r="5.6"/>
<circle cx="650" cy="442" r="5.6"/>
<circle cx="559" cy="697" r="5.6"/>
<circle cx="1099" cy="1290" r="5.6"/>
<circle cx="849" cy="500" r="5.6"/>
<circle cx="596" cy="470" r="5.6"/>
<circle cx="647" cy="486" r="5.6"/>
<circle cx="591" cy="854" r="5.6"/>
<circle cx="1194" cy="946" r="5.6"/>
<circle cx="699" cy="400" r="5.6"/>
<circle cx="505" cy="669" r="5.6"/>
<circle cx="1180" cy="928" r="5.6"/>
<circle cx="1252" cy="1074" r="5.6"/>
<circle cx="496" cy="401" r="5.6"/>
<circle cx="560" cy="729" r="5.6"/>
<circle cx="565" cy="739" r="5.6"/>
<circle cx="771" cy="486" r="5.6"/>
<circle cx="548" cy="606" r="5.6"/>
<circle cx="853" cy="467" r="5.6"/>
<circle cx="545" cy="578" r="5.6"/>
<circle cx="893" cy="475" r="5.6"/>
<circle cx="1179" cy="878" r="5.6"/>
<circle cx="716" cy="431" r="5.6"/>
<circle cx="763" cy="1225" r="5.6"/>
<circle cx="934" cy="529" r="5.6"/>
<circle cx="808" cy="492" r="5.6"/>
<circle cx="481" cy="651" r="5.6"/>
<circle cx="698" cy="1095" r="5.6"/>
<circle cx="1214" cy="783" r="5.6"/>
<circle cx="831" cy="1359" r="5.6"/>
<circle cx="1164" cy="779" r="5.6"/>
<circle cx="521" cy="552" r="5.6"/>
<circle cx="525" cy="432" r="5.6"/>
<circle cx="658" cy="466" r="5.6"/>
<circle cx="1109" cy="1274" r="5.6"/>
<circle cx="726" cy="1155" r="5.6"/>
<circle cx="772" cy="1217" r="5.6"/>
<circle cx="640" cy="464" r="5.6"/>
<circle cx="562" cy="574" r="5.6"/>
<circle cx="636" cy="398" r="5.6"/>
<circle cx="903" cy="519" r="5.6"/>
<circle cx="1074" cy="1310" r="5.6"/>
<circle cx="644" cy="451" r="5.6"/>
<circle cx="484" cy="671" r="5.6"/>
<circle cx="855" cy="487" r="5.6"/>
<circle cx="504" cy="327" r="5.6"/>
<circle cx="585" cy="551" r="5.6"/>
<circle cx="738" cy="1159" r="5.6"/>
<circle cx="556" cy="524" r="5.6"/>
<circle cx="671" cy="356" r="5.6"/>
<circle cx="768" cy="432" r="5.6"/>
<circle cx="562" cy="664" r="5.6"/>
<circle cx="1198" cy="965" r="5.6"/>
<circle cx="1232" cy="1043" r="5.6"/>
<circle cx="635" cy="369" r="5.6"/>
<circle cx="614" cy="484" r="5.6"/>
<circle cx="543" cy="406" r="5.6"/>
<circle cx="1190" cy="1142" r="5.6"/>
<circle cx="607" cy="420" r="5.6"/>
<circle cx="578" cy="385" r="5.6"/>
<circle cx="1080" cy="1412" r="5.6"/>
<circle cx="546" cy="700" r="5.6"/>
<circle cx="648" cy="470" r="5.6"/>
<circle cx="531" cy="560" r="5.6"/>
<circle cx="678" cy="422" r="5.6"/>
<circle cx="1318" cy="1007" r="5.6"/>
<circle cx="700" cy="434" r="5.6"/>
<circle cx="1096" cy="1254" r="5.6"/>
<circle cx="575" cy="483" r="5.6"/>
<circle cx="557" cy="712" r="5.6"/>
<circle cx="641" cy="492" r="5.6"/>
<circle cx="950" cy="1412" r="5.6"/>
<circle cx="577" cy="722" r="5.6"/>
<circle cx="1109" cy="1171" r="5.6"/>
<circle cx="1201" cy="878" r="5.6"/>
<circle cx="608" cy="833" r="5.6"/>
<circle cx="1070" cy="1375" r="5.6"/>
<circle cx="527" cy="554" r="5.6"/>
<circle cx="537" cy="668" r="5.6"/>
<circle cx="1162" cy="903" r="5.6"/>
<circle cx="1098" cy="1236" r="5.6"/>
<circle cx="741" cy="484" r="5.6"/>
<circle cx="1061" cy="1327" r="5.6"/>
<circle cx="679" cy="1098" r="5.6"/>
<circle cx="587" cy="538" r="5.6"/>
<circle cx="616" cy="847" r="5.6"/>
<circle cx="612" cy="467" r="5.6"/>
<circle cx="1224" cy="797" r="5.6"/>
<circle cx="702" cy="1120" r="5.6"/>
<circle cx="754" cy="483" r="5.6"/>
<circle cx="562" cy="761" r="5.6"/>
<circle cx="548" cy="436" r="5.6"/>
<circle cx="637" cy="460" r="5.6"/>
<circle cx="591" cy="889" r="5.6"/>
<circle cx="616" cy="467" r="5.6"/>
<circle cx="830" cy="457" r="5.6"/>
<circle cx="526" cy="520" r="5.6"/>
<circle cx="1189" cy="1119" r="5.6"/>
<circle cx="1132" cy="1184" r="5.6"/>
<circle cx="648" cy="933" r="5.6"/>
<circle cx="609" cy="858" r="5.6"/>
<circle cx="1258" cy="1033" r="5.6"/>
<circle cx="1204" cy="807" r="5.6"/>
<circle cx="1208" cy="1001" r="5.6"/>
<circle cx="1197" cy="834" r="5.6"/>
<circle cx="666" cy="448" r="5.6"/>
<circle cx="484" cy="429" r="5.6"/>
<circle cx="1145" cy="752" r="5.6"/>
<circle cx="591" cy="811" r="5.6"/>
<circle cx="661" cy="473" r="5.6"/>
<circle cx="1003" cy="1427" r="5.6"/>
<circle cx="949" cy="1426" r="5.6"/>
<circle cx="671" cy="454" r="5.6"/>
<circle cx="798" cy="400" r="5.6"/>
<circle cx="739" cy="419" r="5.6"/>
<circle cx="1062" cy="1328" r="5.6"/>
<circle cx="703" cy="476" r="5.6"/>
<circle cx="628" cy="1011" r="5.6"/>
<circle cx="800" cy="472" r="5.6"/>
<circle cx="958" cy="1422" r="5.6"/>
<circle cx="677" cy="411" r="5.6"/>
<circle cx="1161" cy="872" r="5.6"/>
<circle cx="688" cy="477" r="5.6"/>
<circle cx="609" cy="862" r="5.6"/>
<circle cx="527" cy="779" r="5.6"/>
<circle cx="546" cy="786" r="5.6"/>
<circle cx="1201" cy="879" r="5.6"/>
<circle cx="611" cy="507" r="5.6"/>
<circle cx="916" cy="1421" r="5.6"/>
<circle cx="1262" cy="920" r="5.6"/>
<circle cx="656" cy="463" r="5.6"/>
<circle cx="805" cy="409" r="5.6"/>
<circle cx="569" cy="661" r="5.6"/>
<circle cx="640" cy="986" r="5.6"/>
<circle cx="587" cy="523" r="5.6"/>
<circle cx="650" cy="455" r="5.6"/>
<circle cx="627" cy="451" r="5.6"/>
<circle cx="1255" cy="963" r="5.6"/>
<circle cx="748" cy="439" r="5.6"/>
<circle cx="1231" cy="1028" r="5.6"/>
<circle cx="652" cy="979" r="5.6"/>
<circle cx="706" cy="478" r="5.6"/>
<circle cx="482" cy="650" r="5.6"/>
<circle cx="572" cy="560" r="5.6"/>
<circle cx="1121" cy="1151" r="5.6"/>
<circle cx="1175" cy="877" r="5.6"/>
<circle cx="528" cy="726" r="5.6"/>
<circle cx="1167" cy="760" r="5.6"/>
<circle cx="561" cy="553" r="5.6"/>
<circle cx="636" cy="902" r="5.6"/>
<circle cx="529" cy="646" r="5.6"/>
<circle cx="1157" cy="915" r="5.6"/>
<circle cx="745" cy="1155" r="5.6"/>
<circle cx="858" cy="1385" r="5.6"/>
<circle cx="1187" cy="798" r="5.6"/>
<circle cx="647" cy="959" r="5.6"/>
<circle cx="562" cy="441" r="5.6"/>
<circle cx="496" cy="641" r="5.6"/>
<circle cx="728" cy="405" r="5.6"/>
<circle cx="737" cy="1161" r="5.6"/>
<circle cx="853" cy="480" r="5.6"/>
<circle cx="1296" cy="817" r="5.6"/>
<circle cx="708" cy="1147" r="5.6"/>
<circle cx="1018" cy="616" r="5.6"/>
<circle cx="1054" cy="1329" r="5.6"/>
<circle cx="1133" cy="1143" r="5.6"/>
<circle cx="849" cy="473" r="5.6"/>
<circle cx="680" cy="481" r="5.6"/>
<circle cx="553" cy="489" r="5.6"/>
<circle cx="716" cy="469" r="5.6"/>
<circle cx="483" cy="559" r="5.6"/>
<circle cx="578" cy="745" r="5.6"/>
<circle cx="560" cy="688" r="5.6"/>
<circle cx="653" cy="465" r="5.6"/>
<circle cx="556" cy="678" r="5.6"/>
<circle cx="524" cy="621" r="5.6"/>
<circle cx="809" cy="1308" r="5.6"/>
<circle cx="872" cy="505" r="5.6"/>
<circle cx="559" cy="821" r="5.6"/>
<circle cx="617" cy="909" r="5.6"/>
<circle cx="1022" cy="641" r="5.6"/>
<circle cx="542" cy="396" r="5.6"/>
<circle cx="647" cy="932" r="5.6"/>
<circle cx="793" cy="487" r="5.6"/>
<circle cx="839" cy="499" r="5.6"/>
<circle cx="757" cy="448" r="5.6"/>
<circle cx="758" cy="480" r="5.6"/>
<circle cx="610" cy="828" r="5.6"/>
<circle cx="643" cy="404" r="5.6"/>
<circle cx="603" cy="334" r="5.6"/>
<circle cx="825" cy="433" r="5.6"/>
<circle cx="1188" cy="913" r="5.6"/>
<circle cx="895" cy="517" r="5.6"/>
<circle cx="511" cy="460" r="5.6"/>
<circle cx="721" cy="461" r="5.6"/>
<circle cx="711" cy="1103" r="5.6"/>
<circle cx="529" cy="642" r="5.6"/>
<circle cx="574" cy="534" r="5.6"/>
<circle cx="688" cy="413" r="5.6"/>
<circle cx="642" cy="930" r="5.6"/>
<circle cx="596" cy="883" r="5.6"/>
<circle cx="1162" cy="1138" r="5.6"/>
<circle cx="921" cy="540" r="5.6"/>
<circle cx="699" cy="463" r="5.6"/>
<circle cx="562" cy="609" r="5.6"/>
<circle cx="992" cy="1433" r="5.6"/>
<circle cx="1164" cy="928" r="5.6"/>
<circle cx="884" cy="471" r="5.6"/>
<circle cx="871" cy="497" r="5.6"/>
<circle cx="1018" cy="616" r="5.6"/>
<circle cx="1096" cy="691" r="5.6"/>
<circle cx="940" cy="560" r="5.6"/>
<circle cx="600" cy="454" r="5.6"/>
<circle cx="528" cy="580" r="5.6"/>
<circle cx="1019" cy="1417" r="5.6"/>
<circle cx="588" cy="467" r="5.6"/>
<circle cx="639" cy="413" r="5.6"/>
<circle cx="1208" cy="1070" r="5.6"/>
<circle cx="1177" cy="911" r="5.6"/>
<circle cx="1164" cy="912" r="5.6"/>
<circle cx="807" cy="449" r="5.6"/>
<circle cx="1198" cy="1027" r="5.6"/>
<circle cx="671" cy="402" r="5.6"/>
<circle cx="744" cy="1145" r="5.6"/>
<circle cx="626" cy="391" r="5.6"/>
<circle cx="612" cy="888" r="5.6"/>
<circle cx="634" cy="943" r="5.6"/>
<circle cx="596" cy="868" r="5.6"/>
<circle cx="1062" cy="1315" r="5.6"/>
<circle cx="592" cy="783" r="5.6"/>
<circle cx="1182" cy="989" r="5.6"/>
<circle cx="570" cy="525" r="5.6"/>
<circle cx="616" cy="469" r="5.6"/>
<circle cx="576" cy="649" r="5.6"/>
<circle cx="1188" cy="978" r="5.6"/>
<circle cx="535" cy="413" r="5.6"/>
<circle cx="537" cy="526" r="5.6"/>
<circle cx="1205" cy="808" r="5.6"/>
<circle cx="1033" cy="1396" r="5.6"/>
<circle cx="925" cy="544" r="5.6"/>
<circle cx="781" cy="1222" r="5.6"/>
<circle cx="1253" cy="967" r="5.6"/>
<circle cx="1221" cy="809" r="5.6"/>
<circle cx="1134" cy="717" r="5.6"/>
<circle cx="573" cy="744" r="5.6"/>
<circle cx="700" cy="1098" r="5.6"/>
<circle cx="535" cy="751" r="5.6"/>
<circle cx="1014" cy="573" r="5.6"/>
<circle cx="505" cy="726" r="5.6"/>
<circle cx="484" cy="715" r="5.6"/>
<circle cx="805" cy="489" r="5.6"/>
<circle cx="757" cy="1208" r="5.6"/>
<circle cx="842" cy="454" r="5.6"/>
<circle cx="1232" cy="992" r="5.6"/>
<circle cx="566" cy="599" r="5.6"/>
<circle cx="630" cy="402" r="5.6"/>
<circle cx="1277" cy="905" r="5.6"/>
<circle cx="1339" cy="1069" r="5.6"/>
<circle cx="923" cy="1427" r="5.6"/>
<circle cx="1067" cy="1293" r="5.6"/>
<circle cx="503" cy="526" r="5.6"/>
<circle cx="723" cy="479" r="5.6"/>
<circle cx="641" cy="943" r="5.6"/>
<circle cx="593" cy="521" r="5.6"/>
<circle cx="603" cy="957" r="5.6"/>
<circle cx="805" cy="466" r="5.6"/>
<circle cx="1220" cy="1120" r="5.6"/>
<circle cx="570" cy="516" r="5.6"/>
<circle cx="1095" cy="1355" r="5.6"/>
<circle cx="876" cy="1400" r="5.6"/>
<circle cx="1090" cy="1263" r="5.6"/>
<circle cx="589" cy="365" r="5.6"/>
<circle cx="549" cy="553" r="5.6"/>
<circle cx="773" cy="467" r="5.6"/>
<circle cx="787" cy="479" r="5.6"/>
<circle cx="713" cy="477" r="5.6"/>
<circle cx="1157" cy="969" r="5.6"/>
<circle cx="1103" cy="707" r="5.6"/>
<circle cx="720" cy="445" r="5.6"/>
<circle cx="1183" cy="959" r="5.6"/>
<circle cx="1164" cy="906" r="5.6"/>
<circle cx="1070" cy="1306" r="5.6"/>
<circle cx="1194" cy="930" r="5.6"/>
<circle cx="529" cy="595" r="5.6"/>
<circle cx="1255" cy="993" r="5.6"/>
<circle cx="1086" cy="686" r="5.6"/>
<circle cx="538" cy="398" r="5.6"/>
<circle cx="499" cy="534" r="5.6"/>
<circle cx="1142" cy="1182" r="5.6"/>
<circle cx="1221" cy="864" r="5.6"/>
<circle cx="553" cy="698" r="5.6"/>
<circle cx="1143" cy="1118" r="5.6"/>
<circle cx="552" cy="495" r="5.6"/>
<circle cx="1271" cy="1101" r="5.6"/>
<circle cx="690" cy="417" r="5.6"/>
<circle cx="552" cy="562" r="5.6"/>
<circle cx="604" cy="520" r="5.6"/>
<circle cx="785" cy="1245" r="5.6"/>
<circle cx="888" cy="1413" r="5.6"/>
<circle cx="605" cy="409" r="5.6"/>
<circle cx="671" cy="465" r="5.6"/>
<circle cx="547" cy="454" r="5.6"/>
<circle cx="791" cy="492" r="5.6"/>
<circle cx="1018" cy="633" r="5.6"/>
<circle cx="527" cy="691" r="5.6"/>
<circle cx="586" cy="744" r="5.6"/>
<circle cx="757" cy="1196" r="5.6"/>
<circle cx="972" cy="593" r="5.6"/>
<circle cx="1286" cy="970" r="5.6"/>
<circle cx="663" cy="464" r="5.6"/>
<circle cx="1033" cy="1438" r="5.6"/>
<circle cx="566" cy="545" r="5.6"/>
<circle cx="615" cy="510" r="5.6"/>
<circle cx="1241" cy="860" r="5.6"/>
<circle cx="700" cy="415" r="5.6"/>
<circle cx="1047" cy="1359" r="5.6"/>
<circle cx="541" cy="844" r="5.6"/>
<circle cx="629" cy="491" r="5.6"/>
<circle cx="1221" cy="1059" r="5.6"/>
<circle cx="696" cy="456" r="5.6"/>
<circle cx="1081" cy="1314" r="5.6"/>
<circle cx="1035" cy="1417" r="5.6"/>
<circle cx="658" cy="408" r="5.6"/>
<circle cx="1308" cy="1016" r="5.6"/>
<circle cx="621" cy="1007" r="5.6"/>
<circle cx="674" cy="1037" r="5.6"/>
<circle cx="658" cy="484" r="5.6"/>
<circle cx="1193" cy="900" r="5.6"/>
<circle cx="530" cy="532" r="5.6"/>
<circle cx="532" cy="540" r="5.6"/>
<circle cx="606" cy="885" r="5.6"/>
<circle cx="565" cy="750" r="5.6"/>
<circle cx="1178" cy="778" r="5.6"/>
<circle cx="568" cy="521" r="5.6"/>
<circle cx="1013" cy="1428" r="5.6"/>
<circle cx="1195" cy="998" r="5.6"/>
<circle cx="636" cy="927" r="5.6"/>
<circle cx="812" cy="1318" r="5.6"/>
<circle cx="747" cy="391" r="5.6"/>
<circle cx="609" cy="496" r="5.6"/>
<circle cx="593" cy="495" r="5.6"/>
<circle cx="1197" cy="1039" r="5.6"/>
<circle cx="812" cy="472" r="5.6"/>
<circle cx="552" cy="758" r="5.6"/>
<circle cx="882" cy="1388" r="5.6"/>
<circle cx="1156" cy="939" r="5.6"/>
<circle cx="1187" cy="795" r="5.6"/>
<circle cx="1183" cy="877" r="5.6"/>
<circle cx="1144" cy="1168" r="5.6"/>
<circle cx="564" cy="361" r="5.6"/>
<circle cx="1125" cy="730" r="5.6"/>
<circle cx="1114" cy="705" r="5.6"/>
<circle cx="1135" cy="686" r="5.6"/>
<circle cx="821" cy="465" r="5.6"/>
<circle cx="1356" cy="1078" r="5.6"/>
<circle cx="1161" cy="1107" r="5.6"/>
<circle cx="968" cy="1436" r="5.6"/>
<circle cx="862" cy="1379" r="5.6"/>
<circle cx="1038" cy="1393" r="5.6"/>
<circle cx="1305" cy="1075" r="5.6"/>
<circle cx="1196" cy="1034" r="5.6"/>
<circle cx="649" cy="482" r="5.6"/>
<circle cx="769" cy="400" r="5.6"/>
<circle cx="1058" cy="669" r="5.6"/>
<circle cx="983" cy="1422" r="5.6"/>
<circle cx="637" cy="982" r="5.6"/>
<circle cx="1254" cy="1055" r="5.6"/>
<circle cx="875" cy="1386" r="5.6"/>
<circle cx="574" cy="338" r="5.6"/>
<circle cx="526" cy="637" r="5.6"/>
<circle cx="959" cy="1424" r="5.6"/>
<circle cx="948" cy="561" r="5.6"/>
<circle cx="651" cy="441" r="5.6"/>
<circle cx="583" cy="476" r="5.6"/>
<circle cx="814" cy="457" r="5.6"/>
<circle cx="1160" cy="980" r="5.6"/>
<circle cx="893" cy="1416" r="5.6"/>
<circle cx="578" cy="780" r="5.6"/>
<circle cx="1193" cy="879" r="5.6"/>
<circle cx="1192" cy="797" r="5.6"/>
<circle cx="848" cy="1372" r="5.6"/>
<circle cx="1211" cy="1040" r="5.6"/>
<circle cx="570" cy="632" r="5.6"/>
<circle cx="1140" cy="1176" r="5.6"/>
<circle cx="737" cy="472" r="5.6"/>
<circle cx="775" cy="439" r="5.6"/>
<circle cx="797" cy="435" r="5.6"/>
<circle cx="1169" cy="1111" r="5.6"/>
<circle cx="724" cy="459" r="5.6"/>
<circle cx="561" cy="556" r="5.6"/>
<circle cx="807" cy="1293" r="5.6"/>
<circle cx="581" cy="405" r="5.6"/>
<circle cx="559" cy="664" r="5.6"/>
<circle cx="504" cy="692" r="5.6"/>
<circle cx="732" cy="1178" r="5.6"/>
<circle cx="673" cy="460" r="5.6"/>
<circle cx="1156" cy="956" r="5.6"/>
<circle cx="714" cy="1123" r="5.6"/>
<circle cx="901" cy="505" r="5.6"/>
<circle cx="526" cy="504" r="5.6"/>
<circle cx="924" cy="1454" r="5.6"/>
<circle cx="615" cy="379" r="5.6"/>
<circle cx="690" cy="1092" r="5.6"/>
<circle cx="555" cy="539" r="5.6"/>
<circle cx="1173" cy="951" r="5.6"/>
<circle cx="632" cy="492" r="5.6"/>
<circle cx="1116" cy="685" r="5.6"/>
<circle cx="771" cy="1207" r="5.6"/>
<circle cx="708" cy="466" r="5.6"/>
<circle cx="1223" cy="1148" r="5.6"/>
<circle cx="527" cy="558" r="5.6"/>
<circle cx="1194" cy="806" r="5.6"/>
<circle cx="703" cy="478" r="5.6"/>
<circle cx="820" cy="411" r="5.6"/>
<circle cx="1194" cy="775" r="5.6"/>
<circle cx="1082" cy="1294" r="5.6"/>
<circle cx="1264" cy="890" r="5.6"/>
<circle cx="564" cy="548" r="5.6"/>
<circle cx="692" cy="1063" r="5.6"/>
<circle cx="696" cy="411" r="5.6"/>
<circle cx="855" cy="499" r="5.6"/>
<circle cx="716" cy="1106" r="5.6"/>
<circle cx="582" cy="549" r="5.6"/>
<circle cx="732" cy="468" r="5.6"/>
<circle cx="583" cy="489" r="5.6"/>
<circle cx="629" cy="318" r="5.6"/>
<circle cx="1273" cy="1075" r="5.6"/>
<circle cx="1078" cy="1396" r="5.6"/>
<circle cx="508" cy="481" r="5.6"/>
<circle cx="1061" cy="1325" r="5.6"/>
<circle cx="885" cy="1392" r="5.6"/>
<circle cx="512" cy="495" r="5.6"/>
<circle cx="714" cy="1142" r="5.6"/>
<circle cx="614" cy="887" r="5.6"/>
<circle cx="578" cy="552" r="5.6"/>
<circle cx="621" cy="428" r="5.6"/>
<circle cx="1242" cy="935" r="5.6"/>
<circle cx="1233" cy="988" r="5.6"/>
<circle cx="647" cy="470" r="5.6"/>
<circle cx="785" cy="1249" r="5.6"/>
<circle cx="739" cy="1193" r="5.6"/>
<circle cx="819" cy="421" r="5.6"/>
<circle cx="516" cy="642" r="5.6"/>
<circle cx="1217" cy="899" r="5.6"/>
<circle cx="1213" cy="816" r="5.6"/>
<circle cx="1329" cy="946" r="5.6"/>
<circle cx="784" cy="482" r="5.6"/>
<circle cx="549" cy="571" r="5.6"/>
<circle cx="1073" cy="1318" r="5.6"/>
<circle cx="618" cy="495" r="5.6"/>
<circle cx="1166" cy="750" r="5.6"/>
<circle cx="1248" cy="1018" r="5.6"/>
<circle cx="618" cy="410" r="5.6"/>
<circle cx="612" cy="418" r="5.6"/>
<circle cx="616" cy="926" r="5.6"/>
<circle cx="865" cy="1385" r="5.6"/>
<circle cx="1130" cy="1182" r="5.6"/>
<circle cx="582" cy="480" r="5.6"/>
<circle cx="563" cy="684" r="5.6"/>
<circle cx="727" cy="469" r="5.6"/>
<circle cx="576" cy="770" r="5.6"/>
<circle cx="652" cy="1062" r="5.6"/>
<circle cx="484" cy="715" r="5.6"/>
<circle cx="1199" cy="861" r="5.6"/>
<circle cx="598" cy="443" r="5.6"/>
<circle cx="577" cy="564" r="5.6"/>
<circle cx="1047" cy="1364" r="5.6"/>
<circle cx="633" cy="987" r="5.6"/>
<circle cx="1162" cy="957" r="5.6"/>
<circle cx="694" cy="473" r="5.6"/>
<circle cx="687" cy="427" r="5.6"/>
<circle cx="537" cy="525" r="5.6"/>
<circle cx="776" cy="1259" r="5.6"/>
<circle cx="694" cy="366" r="5.6"/>
<circle cx="596" cy="534" r="5.6"/>
<circle cx="524" cy="686" r="5.6"/>
<circle cx="523" cy="333" r="5.6"/>
<circle cx="634" cy="483" r="5.6"/>
<circle cx="686" cy="453" r="5.6"/>
<circle cx="1077" cy="1390" r="5.6"/>
<circle cx="1233" cy="891" r="5.6"/>
<circle cx="583" cy="913" r="5.6"/>
<circle cx="780" cy="470" r="5.6"/>
<circle cx="942" cy="1421" r="5.6"/>
<circle cx="1083" cy="1241" r="5.6"/>
<circle cx="822" cy="1354" r="5.6"/>
<circle cx="466" cy="459" r="5.6"/>
<circle cx="1216" cy="832" r="5.6"/>
<circle cx="1158" cy="751" r="5.6"/>
<circle cx="573" cy="633" r="5.6"/>
<circle cx="1292" cy="1046" r="5.6"/>
<circle cx="1104" cy="717" r="5.6"/>
<circle cx="566" cy="783" r="5.6"/>
<circle cx="557" cy="663" r="5.6"/>
<circle cx="553" cy="882" r="5.6"/>
<circle cx="637" cy="893" r="5.6"/>
<circle cx="719" cy="459" r="5.6"/>
<circle cx="721" cy="477" r="5.6"/>
<circle cx="500" cy="470" r="5.6"/>
<circle cx="566" cy="646" r="5.6"/>
<circle cx="1153" cy="715" r="5.6"/>
<circle cx="560" cy="715" r="5.6"/>
<circle cx="596" cy="465" r="5.6"/>
<circle cx="571" cy="666" r="5.6"/>
<circle cx="619" cy="933" r="5.6"/>
<circle cx="1208" cy="994" r="5.6"/>
<circle cx="1232" cy="888" r="5.6"/>
<circle cx="1315" cy="974" r="5.6"/>
<circle cx="896" cy="520" r="5.6"/>
<circle cx="1197" cy="980" r="5.6"/>
<circle cx="588" cy="799" r="5.6"/>
<circle cx="558" cy="595" r="5.6"/>
<circle cx="813" cy="487" r="5.6"/>
<circle cx="691" cy="467" r="5.6"/>
<circle cx="735" cy="1129" r="5.6"/>
<circle cx="1183" cy="880" r="5.6"/>
<circle cx="490" cy="641" r="5.6"/>
<circle cx="742" cy="361" r="5.6"/>
<circle cx="617" cy="449" r="5.6"/>
<circle cx="553" cy="639" r="5.6"/>
<circle cx="513" cy="496" r="5.6"/>
<circle cx="844" cy="461" r="5.6"/>
<circle cx="1192" cy="780" r="5.6"/>
<circle cx="621" cy="410" r="5.6"/>
<circle cx="493" cy="569" r="5.6"/>
<circle cx="1254" cy="1029" r="5.6"/>
<circle cx="993" cy="594" r="5.6"/>
<circle cx="564" cy="691" r="5.6"/>
<circle cx="523" cy="580" r="5.6"/>
<circle cx="541" cy="346" r="5.6"/>
<circle cx="677" cy="449" r="5.6"/>
<circle cx="774" cy="483" r="5.6"/>
<circle cx="574" cy="501" r="5.6"/>
<circle cx="771" cy="384" r="5.6"/>
<circle cx="1125" cy="1154" r="5.6"/>
<circle cx="752" cy="1169" r="5.6"/>
<circle cx="824" cy="469" r="5.6"/>
<circle cx="658" cy="1002" r="5.6"/>
<circle cx="630" cy="492" r="5.6"/>
<circle cx="552" cy="661" r="5.6"/>
<circle cx="788" cy="488" r="5.6"/>
<circle cx="724" cy="456" r="5.6"/>
<circle cx="564" cy="461" r="5.6"/>
<circle cx="560" cy="674" r="5.6"/>
<circle cx="554" cy="635" r="5.6"/>
<circle cx="1071" cy="1267" r="5.6"/>
<circle cx="1247" cy="896" r="5.6"/>
<circle cx="565" cy="656" r="5.6"/>
<circle cx="1076" cy="1443" r="5.6"/>
<circle cx="779" cy="431" r="5.6"/>
<circle cx="691" cy="432" r="5.6"/>
<circle cx="970" cy="1438" r="5.6"/>
<circle cx="573" cy="720" r="5.6"/>
<circle cx="501" cy="668" r="5.6"/>
<circle cx="1032" cy="1407" r="5.6"/>
<circle cx="616" cy="446" r="5.6"/>
<circle cx="542" cy="522" r="5.6"/>
<circle cx="581" cy="755" r="5.6"/>
<circle cx="873" cy="472" r="5.6"/>
<circle cx="949" cy="1410" r="5.6"/>
<circle cx="604" cy="507" r="5.6"/>
<circle cx="613" cy="971" r="5.6"/>
<circle cx="638" cy="391" r="5.6"/>
<circle cx="1160" cy="883" r="5.6"/>
<circle cx="637" cy="413" r="5.6"/>
<circle cx="1236" cy="813" r="5.6"/>
<circle cx="775" cy="484" r="5.6"/>
<circle cx="534" cy="603" r="5.6"/>
<circle cx="1114" cy="711" r="5.6"/>
<circle cx="558" cy="392" r="5.6"/>
<circle cx="815" cy="433" r="5.6"/>
<circle cx="764" cy="462" r="5.6"/>
<circle cx="625" cy="480" r="5.6"/>
<circle cx="733" cy="435" r="5.6"/>
<circle cx="1093" cy="1361" r="5.6"/>
<circle cx="766" cy="480" r="5.6"/>
<circle cx="496" cy="607" r="5.6"/>
<circle cx="1117" cy="710" r="5.6"/>
<circle cx="596" cy="479" r="5.6"/>
<circle cx="637" cy="479" r="5.6"/>
<circle cx="654" cy="946" r="5.6"/>
<circle cx="541" cy="789" r="5.6"/>
<circle cx="1158" cy="953" r="5.6"/>
<circle cx="1176" cy="754" r="5.6"/>
<circle cx="592" cy="825" r="5.6"/>
<circle cx="1163" cy="1128" r="5.6"/>
<circle cx="500" cy="540" r="5.6"/>
<circle cx="753" cy="1178" r="5.6"/>
<circle cx="875" cy="1398" r="5.6"/>
<circle cx="540" cy="575" r="5.6"/>
<circle cx="1270" cy="1018" r="5.6"/>
<circle cx="770" cy="1214" r="5.6"/>
<circle cx="960" cy="583" r="5.6"/>
<circle cx="572" cy="576" r="5.6"/>
<circle cx="1147" cy="1135" r="5.6"/>
<circle cx="1066" cy="1326" r="5.6"/>
<circle cx="893" cy="1401" r="5.6"/>
<circle cx="590" cy="776" r="5.6"/>
<circle cx="925" cy="503" r="5.6"/>
<circle cx="1165" cy="876" r="5.6"/>
<circle cx="530" cy="415" r="5.6"/>
<circle cx="557" cy="455" r="5.6"/>
<circle cx="1163" cy="915" r="5.6"/>
<circle cx="1178" cy="1101" r="5.6"/>
<circle cx="952" cy="547" r="5.6"/>
<circle cx="612" cy="854" r="5.6"/>
<circle cx="527" cy="640" r="5.6"/>
<circle cx="603" cy="409" r="5.6"/>
<circle cx="1193" cy="983" r="5.6"/>
<circle cx="718" cy="1123" r="5.6"/>
<circle cx="533" cy="772" r="5.6"/>
<circle cx="706" cy="438" r="5.6"/>
<circle cx="570" cy="509" r="5.6"/>
<circle cx="525" cy="507" r="5.6"/>
<circle cx="658" cy="443" r="5.6"/>
<circle cx="559" cy="693" r="5.6"/>
<circle cx="664" cy="392" r="5.6"/>
<circle cx="1172" cy="878" r="5.6"/>
<circle cx="835" cy="492" r="5.6"/>
<circle cx="1179" cy="940" r="5.6"/>
<circle cx="521" cy="342" r="5.6"/>
<circle cx="1182" cy="903" r="5.6"/>
<circle cx="729" cy="347" r="5.6"/>
<circle cx="1180" cy="1107" r="5.6"/>
<circle cx="612" cy="970" r="5.6"/>
<circle cx="572" cy="687" r="5.6"/>
<circle cx="1185" cy="746" r="5.6"/>
<circle cx="606" cy="480" r="5.6"/>
<circle cx="842" cy="472" r="5.6"/>
<circle cx="641" cy="964" r="5.6"/>
<circle cx="650" cy="981" r="5.6"/>
<circle cx="639" cy="461" r="5.6"/>
<circle cx="517" cy="534" r="5.6"/>
<circle cx="589" cy="783" r="5.6"/>
<circle cx="485" cy="452" r="5.6"/>
<circle cx="567" cy="726" r="5.6"/>
<circle cx="520" cy="368" r="5.6"/>
<circle cx="1198" cy="903" r="5.6"/>
<circle cx="995" cy="602" r="5.6"/>
<circle cx="595" cy="519" r="5.6"/>
<circle cx="757" cy="1220" r="5.6"/>
<circle cx="629" cy="427" r="5.6"/>
<circle cx="549" cy="736" r="5.6"/>
<circle cx="573" cy="765" r="5.6"/>
<circle cx="1215" cy="947" r="5.6"/>
<circle cx="604" cy="502" r="5.6"/>
<circle cx="618" cy="414" r="5.6"/>
<circle cx="1073" cy="1345" r="5.6"/>
<circle cx="523" cy="594" r="5.6"/>
<circle cx="1187" cy="786" r="5.6"/>
<circle cx="542" cy="413" r="5.6"/>
<circle cx="710" cy="446" r="5.6"/>
<circle cx="794" cy="445" r="5.6"/>
<circle cx="775" cy="487" r="5.6"/>
<circle cx="1366" cy="1075" r="5.6"/>
<circle cx="584" cy="747" r="5.6"/>
<circle cx="561" cy="499" r="5.6"/>
<circle cx="862" cy="1410" r="5.6"/>
<circle cx="530" cy="432" r="5.6"/>
<circle cx="1198" cy="804" r="5.6"/>
<circle cx="553" cy="368" r="5.6"/>
<circle cx="1302" cy="879" r="5.6"/>
<circle cx="1058" cy="1385" r="5.6"/>
<circle cx="685" cy="418" r="5.6"/>
<circle cx="581" cy="548" r="5.6"/>
<circle cx="693" cy="372" r="5.6"/>
<circle cx="713" cy="459" r="5.6"/>
<circle cx="926" cy="526" r="5.6"/>
<circle cx="827" cy="1335" r="5.6"/>
<circle cx="569" cy="827" r="5.6"/>
<circle cx="1061" cy="1326" r="5.6"/>
<circle cx="1069" cy="673" r="5.6"/>
<circle cx="704" cy="411" r="5.6"/>
<circle cx="801" cy="461" r="5.6"/>
<circle cx="1102" cy="707" r="5.6"/>
<circle cx="827" cy="471" r="5.6"/>
<circle cx="579" cy="666" r="5.6"/>
<circle cx="650" cy="328" r="5.6"/>
<circle cx="626" cy="929" r="5.6"/>
<circle cx="714" cy="453" r="5.6"/>
<circle cx="795" cy="1259" r="5.6"/>
<circle cx="921" cy="514" r="5.6"/>
<circle cx="850" cy="502" r="5.6"/>
<circle cx="468" cy="592" r="5.6"/>
<circle cx="1070" cy="1302" r="5.6"/>
<circle cx="581" cy="657" r="5.6"/>
<circle cx="1103" cy="1177" r="5.6"/>
<circle cx="658" cy="990" r="5.6"/>
<circle cx="634" cy="440" r="5.6"/>
<circle cx="1052" cy="1337" r="5.6"/>
<circle cx="597" cy="821" r="5.6"/>
<circle cx="630" cy="450" r="5.6"/>
<circle cx="1163" cy="768" r="5.6"/>
<circle cx="494" cy="495" r="5.6"/>
<circle cx="586" cy="758" r="5.6"/>
<circle cx="1120" cy="1157" r="5.6"/>
<circle cx="690" cy="468" r="5.6"/>
<circle cx="1267" cy="1089" r="5.6"/>
<circle cx="1016" cy="636" r="5.6"/>
<circle cx="660" cy="410" r="5.6"/>
<circle cx="781" cy="441" r="5.6"/>
<circle cx="697" cy="421" r="5.6"/>
<circle cx="796" cy="466" r="5.6"/>
<circle cx="584" cy="399" r="5.6"/>
<circle cx="948" cy="1415" r="5.6"/>
<circle cx="1135" cy="1222" r="5.6"/>
<circle cx="577" cy="614" r="5.6"/>
<circle cx="1131" cy="1143" r="5.6"/>
<circle cx="668" cy="478" r="5.6"/>
<circle cx="534" cy="708" r="5.6"/>
<circle cx="887" cy="511" r="5.6"/>
<circle cx="787" cy="491" r="5.6"/>
<circle cx="1106" cy="1251" r="5.6"/>
<circle cx="552" cy="350" r="5.6"/>
<circle cx="674" cy="451" r="5.6"/>
<circle cx="700" cy="476" r="5.6"/>
<circle cx="1204" cy="802" r="5.6"/>
<circle cx="813" cy="485" r="5.6"/>
<circle cx="1142" cy="732" r="5.6"/>
<circle cx="763" cy="443" r="5.6"/>
<circle cx="1093" cy="652" r="5.6"/>
<circle cx="623" cy="875" r="5.6"/>
<circle cx="1087" cy="1343" r="5.6"/>
<circle cx="1291" cy="1043" r="5.6"/>
<circle cx="658" cy="464" r="5.6"/>
<circle cx="644" cy="490" r="5.6"/>
<circle cx="572" cy="747" r="5.6"/>
<circle cx="623" cy="907" r="5.6"/>
<circle cx="505" cy="559" r="5.6"/>
<circle cx="1093" cy="1232" r="5.6"/>
<circle cx="1062" cy="1306" r="5.6"/>
<circle cx="537" cy="658" r="5.6"/>
<circle cx="1044" cy="639" r="5.6"/>
<circle cx="514" cy="425" r="5.6"/>
<circle cx="663" cy="478" r="5.6"/>
<circle cx="590" cy="536" r="5.6"/>
<circle cx="764" cy="394" r="5.6"/>
<circle cx="1225" cy="1075" r="5.6"/>
<circle cx="641" cy="454" r="5.6"/>
<circle cx="764" cy="425" r="5.6"/>
<circle cx="1100" cy="1194" r="5.6"/>
<circle cx="560" cy="637" r="5.6"/>
<circle cx="637" cy="894" r="5.6"/>
<circle cx="1069" cy="1310" r="5.6"/>
<circle cx="820" cy="438" r="5.6"/>
<circle cx="1253" cy="1056" r="5.6"/>
<circle cx="587" cy="509" r="5.6"/>
<circle cx="587" cy="550" r="5.6"/>
<circle cx="1249" cy="943" r="5.6"/>
<circle cx="841" cy="464" r="5.6"/>
<circle cx="1251" cy="985" r="5.6"/>
<circle cx="1044" cy="1367" r="5.6"/>
<circle cx="551" cy="513" r="5.6"/>
<circle cx="545" cy="658" r="5.6"/>
<circle cx="929" cy="1405" r="5.6"/>
<circle cx="846" cy="453" r="5.6"/>
<circle cx="1206" cy="815" r="5.6"/>
<circle cx="618" cy="871" r="5.6"/>
<circle cx="584" cy="780" r="5.6"/>
<circle cx="720" cy="1105" r="5.6"/>
<circle cx="496" cy="698" r="5.6"/>
<circle cx="738" cy="419" r="5.6"/>
<circle cx="985" cy="587" r="5.6"/>
<circle cx="1213" cy="788" r="5.6"/>
<circle cx="762" cy="468" r="5.6"/>
<circle cx="604" cy="822" r="5.6"/>
<circle cx="927" cy="534" r="5.6"/>
<circle cx="576" cy="616" r="5.6"/>
<circle cx="553" cy="652" r="5.6"/>
<circle cx="570" cy="530" r="5.6"/>
<circle cx="708" cy="457" r="5.6"/>
<circle cx="787" cy="415" r="5.6"/>
<circle cx="742" cy="433" r="5.6"/>
<circle cx="682" cy="476" r="5.6"/>
<circle cx="599" cy="439" r="5.6"/>
<circle cx="1025" cy="583" r="5.6"/>
<circle cx="718" cy="396" r="5.6"/>
<circle cx="1148" cy="729" r="5.6"/>
<circle cx="683" cy="474" r="5.6"/>
<circle cx="1179" cy="913" r="5.6"/>
<circle cx="559" cy="744" r="5.6"/>
<circle cx="558" cy="752" r="5.6"/>
<circle cx="616" cy="455" r="5.6"/>
<circle cx="818" cy="1315" r="5.6"/>
<circle cx="711" cy="1151" r="5.6"/>
<circle cx="560" cy="504" r="5.6"/>
<circle cx="513" cy="674" r="5.6"/>
<circle cx="680" cy="1004" r="5.6"/>
<circle cx="787" cy="491" r="5.6"/>
<circle cx="761" cy="1231" r="5.6"/>
<circle cx="524" cy="636" r="5.6"/>
<circle cx="624" cy="879" r="5.6"/>
<circle cx="464" cy="606" r="5.6"/>
<circle cx="868" cy="496" r="5.6"/>
<circle cx="724" cy="471" r="5.6"/>
<circle cx="594" cy="455" r="5.6"/>
<circle cx="653" cy="415" r="5.6"/>
<circle cx="838" cy="492" r="5.6"/>
<circle cx="565" cy="649" r="5.6"/>
<circle cx="571" cy="698" r="5.6"/>
<circle cx="781" cy="1258" r="5.6"/>
<circle cx="704" cy="478" r="5.6"/>
<circle cx="1054" cy="1373" r="5.6"/>
<circle cx="610" cy="832" r="5.6"/>
<circle cx="684" cy="471" r="5.6"/>
<circle cx="732" cy="1131" r="5.6"/>
<circle cx="671" cy="478" r="5.6"/>
<circle cx="1221" cy="1007" r="5.6"/>
<circle cx="889" cy="504" r="5.6"/>
<circle cx="833" cy="489" r="5.6"/>
<circle cx="573" cy="612" r="5.6"/>
<circle cx="644" cy="464" r="5.6"/>
<circle cx="1019" cy="623" r="5.6"/>
<circle cx="1048" cy="658" r="5.6"/>
<circle cx="613" cy="877" r="5.6"/>
<circle cx="576" cy="664" r="5.6"/>
<circle cx="652" cy="485" r="5.6"/>
<circle cx="597" cy="526" r="5.6"/>
<circle cx="776" cy="411" r="5.6"/>
<circle cx="718" cy="472" r="5.6"/>
<circle cx="788" cy="417" r="5.6"/>
<circle cx="1174" cy="1109" r="5.6"/>
<circle cx="1037" cy="619" r="5.6"/>
<circle cx="693" cy="441" r="5.6"/>
<circle cx="547" cy="606" r="5.6"/>
<circle cx="724" cy="449" r="5.6"/>
<circle cx="711" cy="479" r="5.6"/>
<circle cx="1272" cy="899" r="5.6"/>
<circle cx="618" cy="470" r="5.6"/>
<circle cx="567" cy="675" r="5.6"/>
<circle cx="1121" cy="713" r="5.6"/>
<circle cx="600" cy="523" r="5.6"/>
<circle cx="1208" cy="1074" r="5.6"/>
<circle cx="1210" cy="767" r="5.6"/>
<circle cx="566" cy="773" r="5.6"/>
<circle cx="657" cy="417" r="5.6"/>
<circle cx="926" cy="1411" r="5.6"/>
<circle cx="551" cy="665" r="5.6"/>
<circle cx="679" cy="1014" r="5.6"/>
<circle cx="1253" cy="965" r="5.6"/>
<circle cx="880" cy="495" r="5.6"/>
<circle cx="566" cy="512" r="5.6"/>
<circle cx="716" cy="467" r="5.6"/>
<circle cx="755" cy="1170" r="5.6"/>
<circle cx="574" cy="635" r="5.6"/>
<circle cx="606" cy="329" r="5.6"/>
<circle cx="888" cy="1392" r="5.6"/>
<circle cx="811" cy="437" r="5.6"/>
<circle cx="511" cy="667" r="5.6"/>
<circle cx="1091" cy="1246" r="5.6"/>
<circle cx="1249" cy="1158" r="5.6"/>
<circle cx="766" cy="411" r="5.6"/>
<circle cx="516" cy="730" r="5.6"/>
<circle cx="565" cy="433" r="5.6"/>
<circle cx="792" cy="474" r="5.6"/>
<circle cx="786" cy="418" r="5.6"/>
<circle cx="507" cy="741" r="5.6"/>
<circle cx="1094" cy="1226" r="5.6"/>
<circle cx="570" cy="702" r="5.6"/>
<circle cx="609" cy="485" r="5.6"/>
</g>
<g fill="#808080"><circle cx="512" cy="128" r="5.6"/><circle cx="611" cy="115" r="5.6"/><circle cx="601" cy="135" r="5.6"/><circle cx="552" cy="189" r="5.6"/><circle cx="534" cy="193" r="5.6"/><circle cx="611" cy="190" r="5.6"/><circle cx="585" cy="228" r="5.6"/><circle cx="418" cy="263" r="5.6"/><circle cx="650" cy="263" r="5.6"/><circle cx="545" cy="277" r="5.6"/><circle cx="561" cy="284" r="5.6"/><circle cx="583" cy="290" r="5.6"/><circle cx="758" cy="266" r="5.6"/><circle cx="744" cy="301" r="5.6"/><circle cx="687" cy="300" r="5.6"/><circle cx="644" cy="300" r="5.6"/><circle cx="889" cy="358" r="5.6"/><circle cx="443" cy="341" r="5.6"/><circle cx="437" cy="368" r="5.6"/><circle cx="526" cy="310" r="5.6"/><circle cx="1247" cy="874" r="5.6"/><circle cx="1260" cy="897" r="5.6"/><circle cx="1278" cy="907" r="5.6"/><circle cx="1297" cy="907" r="5.6"/><circle cx="1304" cy="921" r="5.6"/><circle cx="1279" cy="935" r="5.6"/><circle cx="1245" cy="943" r="5.6"/><circle cx="1234" cy="961" r="5.6"/><circle cx="1247" cy="962" r="5.6"/><circle cx="1287" cy="968" r="5.6"/><circle cx="1350" cy="937" r="5.6"/><circle cx="1365" cy="947" r="5.6"/><circle cx="1376" cy="959" r="5.6"/><circle cx="1393" cy="971" r="5.6"/><circle cx="1378" cy="982" r="5.6"/><circle cx="1262" cy="999" r="5.6"/><circle cx="1281" cy="994" r="5.6"/><circle cx="1288" cy="999" r="5.6"/><circle cx="1312" cy="997" r="5.6"/><circle cx="1269" cy="1013" r="5.6"/><circle cx="1288" cy="1015" r="5.6"/><circle cx="1291" cy="1030" r="5.6"/><circle cx="1317" cy="1030" r="5.6"/><circle cx="1302" cy="1053" r="5.6"/><circle cx="1285" cy="1058" r="5.6"/><circle cx="1281" cy="1067" r="5.6"/><circle cx="1289" cy="1073" r="5.6"/><circle cx="1260" cy="1079" r="5.6"/><circle cx="1315" cy="1078" r="5.6"/><circle cx="1304" cy="1093" r="5.6"/><circle cx="1278" cy="1096" r="5.6"/><circle cx="1274" cy="1100" r="5.6"/><circle cx="1292" cy="1108" r="5.6"/><circle cx="1294" cy="1119" r="5.6"/><circle cx="1258" cy="1103" r="5.6"/><circle cx="1227" cy="1122" r="5.6"/><circle cx="1339" cy="1122" r="5.6"/><circle cx="1370" cy="1117" r="5.6"/><circle cx="1320" cy="1137" r="5.6"/><circle cx="1366" cy="1150" r="5.6"/><circle cx="1430" cy="1083" r="5.6"/><circle cx="1444" cy="1085" r="5.6"/><circle cx="1454" cy="1132" r="5.6"/><circle cx="1499" cy="1106" r="5.6"/><circle cx="643" cy="1037" r="5.6"/><circle cx="671" cy="1057" r="5.6"/><circle cx="660" cy="1093" r="5.6"/><circle cx="618" cy="1206" r="5.6"/><circle cx="717" cy="1213" r="5.6"/><circle cx="742" cy="1232" r="5.6"/><circle cx="734" cy="1360" r="5.6"/><circle cx="865" cy="1413" r="5.6"/><circle cx="628" cy="1449" r="5.6"/><circle cx="557" cy="885" r="5.6"/><circle cx="567" cy="922" r="5.6"/><circle cx="574" cy="960" r="5.6"/><circle cx="1075" cy="585" r="5.6"/><circle cx="1210" cy="730" r="5.6"/><circle cx="1344" cy="737" r="5.6"/><circle cx="1255" cy="790" r="5.6"/><circle cx="1052" cy="624" r="5.6"/><circle cx="1064" cy="634" r="5.6"/><circle cx="1077" cy="651" r="5.6"/><circle cx="1095" cy="655" r="5.6"/><circle cx="1132" cy="686" r="5.6"/><circle cx="1157" cy="708" r="5.6"/><circle cx="1161" cy="721" r="5.6"/><circle cx="1116" cy="1162" r="5.6"/><circle cx="1137" cy="1164" r="5.6"/><circle cx="1147" cy="1178" r="5.6"/><circle cx="1131" cy="1181" r="5.6"/><circle cx="1104" cy="1185" r="5.6"/><circle cx="1139" cy="1201" r="5.6"/><circle cx="1155" cy="1209" r="5.6"/><circle cx="1183" cy="1189" r="5.6"/><circle cx="1230" cy="1170" r="5.6"/><circle cx="1220" cy="1185" r="5.6"/><circle cx="1257" cy="1154" r="5.6"/><circle cx="1289" cy="1158" r="5.6"/><circle cx="1309" cy="1176" r="5.6"/><circle cx="1346" cy="1177" r="5.6"/><circle cx="1332" cy="1198" r="5.6"/><circle cx="1281" cy="1181" r="5.6"/><circle cx="1177" cy="1211" r="5.6"/><circle cx="1204" cy="1225" r="5.6"/><circle cx="1128" cy="1225" r="5.6"/><circle cx="1151" cy="1231" r="5.6"/><circle cx="1214" cy="1243" r="5.6"/><circle cx="1175" cy="1262" r="5.6"/><circle cx="1171" cy="1276" r="5.6"/><circle cx="1171" cy="1288" r="5.6"/><circle cx="1151" cy="1292" r="5.6"/><circle cx="1220" cy="1288" r="5.6"/><circle cx="1130" cy="1300" r="5.6"/><circle cx="1210" cy="1304" r="5.6"/><circle cx="1228" cy="1311" r="5.6"/><circle cx="1295" cy="1262" r="5.6"/><circle cx="1350" cy="1253" r="5.6"/><circle cx="1330" cy="1349" r="5.6"/><circle cx="1110" cy="1394" r="5.6"/><circle cx="1212" cy="1405" r="5.6"/><circle cx="1226" cy="1419" r="5.6"/><circle cx="1120" cy="1459" r="5.6"/><circle cx="1137" cy="1479" r="5.6"/><circle cx="1232" cy="1498" r="5.6"/><circle cx="1281" cy="1538" r="5.6"/><circle cx="1358" cy="1571" r="5.6"/><circle cx="1366" cy="1150" r="5.6"/><circle cx="1444" cy="1154" r="5.6"/><circle cx="1450" cy="1180" r="5.6"/><circle cx="1433" cy="1197" r="5.6"/><circle cx="1437" cy="1244" r="5.6"/><circle cx="1417" cy="1286" r="5.6"/><circle cx="1431" cy="1296" r="5.6"/><circle cx="1456" cy="1303" r="5.6"/><circle cx="1506" cy="1323" r="5.6"/><circle cx="1515" cy="1174" r="5.6"/><circle cx="1525" cy="1199" r="5.6"/><circle cx="1572" cy="1258" r="5.6"/><circle cx="1521" cy="1355" r="5.6"/><circle cx="1572" cy="1369" r="5.6"/><circle cx="1641" cy="1376" r="5.6"/><circle cx="1659" cy="1388" r="5.6"/><circle cx="1667" cy="1372" r="5.6"/><circle cx="1673" cy="1350" r="5.6"/><circle cx="1687" cy="1339" r="5.6"/><circle cx="1718" cy="1457" r="5.6"/><circle cx="1793" cy="1516" r="5.6"/><circle cx="1714" cy="1544" r="5.6"/></g>
<polygon points="895,1040 990,1020 1040,1040 1050,1130 1048,1320 1035,1400 1020,1480 950,1490 915,1440 895,1400 885,1320 884,1230 886,1130 888,1070" fill="#ffff00"/>
<g fill="#ffff00">
<circle cx="1069" cy="1257" r="4.8"/>
<circle cx="770" cy="867" r="4.8"/>
<circle cx="1080" cy="1392" r="4.8"/>
<circle cx="1057" cy="1070" r="4.8"/>
<circle cx="891" cy="735" r="4.8"/>
<circle cx="1065" cy="1526" r="4.8"/>
<circle cx="808" cy="881" r="4.8"/>
<circle cx="819" cy="564" r="4.8"/>
<circle cx="932" cy="626" r="4.8"/>
<circle cx="861" cy="613" r="4.8"/>
<circle cx="857" cy="746" r="4.8"/>
<circle cx="1066" cy="990" r="4.8"/>
<circle cx="1007" cy="583" r="4.8"/>
<circle cx="917" cy="1557" r="4.8"/>
<circle cx="1077" cy="717" r="4.8"/>
<circle cx="1077" cy="946" r="4.8"/>
<circle cx="1095" cy="804" r="4.8"/>
<circle cx="885" cy="762" r="4.8"/>
<circle cx="869" cy="983" r="4.8"/>
<circle cx="822" cy="971" r="4.8"/>
<circle cx="814" cy="835" r="4.8"/>
<circle cx="1060" cy="791" r="4.8"/>
<circle cx="1089" cy="1148" r="4.8"/>
<circle cx="901" cy="802" r="4.8"/>
<circle cx="1091" cy="1476" r="4.8"/>
<circle cx="828" cy="931" r="4.8"/>
<circle cx="858" cy="1017" r="4.8"/>
<circle cx="894" cy="587" r="4.8"/>
<circle cx="830" cy="999" r="4.8"/>
<circle cx="1150" cy="869" r="4.8"/>
<circle cx="882" cy="1203" r="4.8"/>
<circle cx="1080" cy="993" r="4.8"/>
<circle cx="880" cy="1221" r="4.8"/>
<circle cx="800" cy="661" r="4.8"/>
<circle cx="865" cy="975" r="4.8"/>
<circle cx="904" cy="779" r="4.8"/>
<circle cx="893" cy="1447" r="4.8"/>
<circle cx="980" cy="552" r="4.8"/>
<circle cx="888" cy="1402" r="4.8"/>
<circle cx="805" cy="896" r="4.8"/>
<circle cx="822" cy="1257" r="4.8"/>
<circle cx="861" cy="1044" r="4.8"/>
<circle cx="818" cy="1067" r="4.8"/>
<circle cx="809" cy="622" r="4.8"/>
<circle cx="973" cy="1536" r="4.8"/>
<circle cx="1055" cy="1037" r="4.8"/>
<circle cx="883" cy="736" r="4.8"/>
<circle cx="1063" cy="1015" r="4.8"/>
<circle cx="850" cy="877" r="4.8"/>
<circle cx="1051" cy="1388" r="4.8"/>
<circle cx="840" cy="1038" r="4.8"/>
<circle cx="890" cy="693" r="4.8"/>
<circle cx="889" cy="734" r="4.8"/>
<circle cx="843" cy="854" r="4.8"/>
<circle cx="867" cy="1318" r="4.8"/>
<circle cx="1055" cy="1092" r="4.8"/>
<circle cx="850" cy="753" r="4.8"/>
<circle cx="1069" cy="750" r="4.8"/>
<circle cx="974" cy="1593" r="4.8"/>
<circle cx="903" cy="1447" r="4.8"/>
<circle cx="1060" cy="1474" r="4.8"/>
<circle cx="1092" cy="684" r="4.8"/>
<circle cx="929" cy="1527" r="4.8"/>
<circle cx="1011" cy="576" r="4.8"/>
<circle cx="878" cy="1236" r="4.8"/>
<circle cx="929" cy="1534" r="4.8"/>
<circle cx="1105" cy="1202" r="4.8"/>
<circle cx="1059" cy="912" r="4.8"/>
<circle cx="1034" cy="1583" r="4.8"/>
<circle cx="1082" cy="1287" r="4.8"/>
<circle cx="1095" cy="894" r="4.8"/>
<circle cx="887" cy="1438" r="4.8"/>
<circle cx="1065" cy="1026" r="4.8"/>
<circle cx="1063" cy="754" r="4.8"/>
<circle cx="1092" cy="651" r="4.8"/>
<circle cx="843" cy="709" r="4.8"/>
<circle cx="958" cy="638" r="4.8"/>
<circle cx="822" cy="1047" r="4.8"/>
<circle cx="848" cy="971" r="4.8"/>
<circle cx="1089" cy="674" r="4.8"/>
<circle cx="1068" cy="721" r="4.8"/>
<circle cx="908" cy="1456" r="4.8"/>
<circle cx="857" cy="878" r="4.8"/>
<circle cx="838" cy="994" r="4.8"/>
<circle cx="1036" cy="1442" r="4.8"/>
<circle cx="1082" cy="752" r="4.8"/>
<circle cx="987" cy="1522" r="4.8"/>
<circle cx="1058" cy="1107" r="4.8"/>
<circle cx="1074" cy="793" r="4.8"/>
<circle cx="902" cy="756" r="4.8"/>
<circle cx="1109" cy="694" r="4.8"/>
<circle cx="1049" cy="1442" r="4.8"/>
<circle cx="825" cy="803" r="4.8"/>
<circle cx="868" cy="763" r="4.8"/>
<circle cx="1102" cy="849" r="4.8"/>
<circle cx="884" cy="1152" r="4.8"/>
<circle cx="973" cy="1508" r="4.8"/>
<circle cx="996" cy="1514" r="4.8"/>
<circle cx="877" cy="796" r="4.8"/>
<circle cx="1089" cy="720" r="4.8"/>
<circle cx="1044" cy="1495" r="4.8"/>
<circle cx="855" cy="933" r="4.8"/>
<circle cx="1083" cy="1502" r="4.8"/>
<circle cx="772" cy="788" r="4.8"/>
<circle cx="1061" cy="1114" r="4.8"/>
<circle cx="876" cy="771" r="4.8"/>
<circle cx="878" cy="1281" r="4.8"/>
<circle cx="865" cy="619" r="4.8"/>
<circle cx="838" cy="741" r="4.8"/>
<circle cx="890" cy="601" r="4.8"/>
<circle cx="1103" cy="875" r="4.8"/>
<circle cx="1123" cy="690" r="4.8"/>
<circle cx="929" cy="635" r="4.8"/>
<circle cx="1076" cy="812" r="4.8"/>
<circle cx="1067" cy="1264" r="4.8"/>
<circle cx="867" cy="1364" r="4.8"/>
<circle cx="821" cy="1116" r="4.8"/>
<circle cx="849" cy="1173" r="4.8"/>
<circle cx="1056" cy="1171" r="4.8"/>
<circle cx="1090" cy="873" r="4.8"/>
<circle cx="1162" cy="787" r="4.8"/>
<circle cx="828" cy="1229" r="4.8"/>
<circle cx="902" cy="625" r="4.8"/>
<circle cx="1106" cy="790" r="4.8"/>
<circle cx="871" cy="1140" r="4.8"/>
<circle cx="979" cy="620" r="4.8"/>
<circle cx="1082" cy="1271" r="4.8"/>
<circle cx="1025" cy="1503" r="4.8"/>
<circle cx="1110" cy="796" r="4.8"/>
<circle cx="1039" cy="1414" r="4.8"/>
<circle cx="871" cy="1479" r="4.8"/>
<circle cx="933" cy="634" r="4.8"/>
<circle cx="790" cy="1012" r="4.8"/>
<circle cx="871" cy="783" r="4.8"/>
<circle cx="1119" cy="759" r="4.8"/>
<circle cx="1052" cy="1271" r="4.8"/>
<circle cx="1044" cy="1377" r="4.8"/>
<circle cx="1127" cy="726" r="4.8"/>
<circle cx="844" cy="930" r="4.8"/>
<circle cx="1056" cy="1423" r="4.8"/>
<circle cx="851" cy="655" r="4.8"/>
<circle cx="851" cy="1280" r="4.8"/>
<circle cx="878" cy="704" r="4.8"/>
<circle cx="862" cy="1436" r="4.8"/>
<circle cx="818" cy="850" r="4.8"/>
<circle cx="1058" cy="1018" r="4.8"/>
<circle cx="849" cy="738" r="4.8"/>
<circle cx="1104" cy="694" r="4.8"/>
<circle cx="1084" cy="838" r="4.8"/>
<circle cx="1079" cy="1102" r="4.8"/>
<circle cx="861" cy="1277" r="4.8"/>
<circle cx="1055" cy="1088" r="4.8"/>
<circle cx="1104" cy="770" r="4.8"/>
<circle cx="1078" cy="634" r="4.8"/>
<circle cx="889" cy="575" r="4.8"/>
<circle cx="1102" cy="978" r="4.8"/>
<circle cx="819" cy="802" r="4.8"/>
<circle cx="1129" cy="825" r="4.8"/>
<circle cx="773" cy="895" r="4.8"/>
<circle cx="866" cy="799" r="4.8"/>
<circle cx="929" cy="1487" r="4.8"/>
<circle cx="1035" cy="1445" r="4.8"/>
<circle cx="773" cy="655" r="4.8"/>
<circle cx="1074" cy="1221" r="4.8"/>
<circle cx="1082" cy="1384" r="4.8"/>
<circle cx="1010" cy="1508" r="4.8"/>
<circle cx="993" cy="1573" r="4.8"/>
<circle cx="884" cy="1398" r="4.8"/>
<circle cx="956" cy="636" r="4.8"/>
<circle cx="1131" cy="804" r="4.8"/>
<circle cx="845" cy="1016" r="4.8"/>
<circle cx="1071" cy="832" r="4.8"/>
<circle cx="1054" cy="1363" r="4.8"/>
<circle cx="874" cy="719" r="4.8"/>
<circle cx="1083" cy="1010" r="4.8"/>
<circle cx="1062" cy="729" r="4.8"/>
<circle cx="1074" cy="1319" r="4.8"/>
<circle cx="1054" cy="1555" r="4.8"/>
<circle cx="1119" cy="1023" r="4.8"/>
<circle cx="1102" cy="821" r="4.8"/>
<circle cx="1015" cy="604" r="4.8"/>
<circle cx="1064" cy="1075" r="4.8"/>
<circle cx="1058" cy="755" r="4.8"/>
<circle cx="1062" cy="812" r="4.8"/>
<circle cx="822" cy="912" r="4.8"/>
<circle cx="843" cy="825" r="4.8"/>
<circle cx="981" cy="1498" r="4.8"/>
<circle cx="833" cy="985" r="4.8"/>
<circle cx="877" cy="1372" r="4.8"/>
<circle cx="1132" cy="862" r="4.8"/>
<circle cx="1061" cy="1219" r="4.8"/>
<circle cx="892" cy="794" r="4.8"/>
<circle cx="1136" cy="869" r="4.8"/>
<circle cx="1037" cy="1545" r="4.8"/>
<circle cx="875" cy="1492" r="4.8"/>
<circle cx="863" cy="556" r="4.8"/>
<circle cx="1101" cy="1177" r="4.8"/>
<circle cx="980" cy="1548" r="4.8"/>
<circle cx="872" cy="1456" r="4.8"/>
<circle cx="1077" cy="1218" r="4.8"/>
<circle cx="1091" cy="1399" r="4.8"/>
<circle cx="928" cy="1496" r="4.8"/>
<circle cx="1081" cy="1341" r="4.8"/>
<circle cx="1110" cy="709" r="4.8"/>
<circle cx="1066" cy="1259" r="4.8"/>
<circle cx="857" cy="923" r="4.8"/>
<circle cx="1083" cy="962" r="4.8"/>
<circle cx="841" cy="727" r="4.8"/>
<circle cx="1135" cy="782" r="4.8"/>
<circle cx="1089" cy="792" r="4.8"/>
<circle cx="855" cy="787" r="4.8"/>
<circle cx="887" cy="869" r="4.8"/>
<circle cx="987" cy="608" r="4.8"/>
<circle cx="1080" cy="838" r="4.8"/>
<circle cx="879" cy="1350" r="4.8"/>
<circle cx="855" cy="617" r="4.8"/>
<circle cx="905" cy="1454" r="4.8"/>
<circle cx="1070" cy="1214" r="4.8"/>
<circle cx="1022" cy="1520" r="4.8"/>
<circle cx="789" cy="818" r="4.8"/>
<circle cx="1111" cy="1065" r="4.8"/>
<circle cx="1049" cy="1398" r="4.8"/>
<circle cx="1032" cy="631" r="4.8"/>
<circle cx="991" cy="593" r="4.8"/>
<circle cx="799" cy="735" r="4.8"/>
<circle cx="891" cy="612" r="4.8"/>
<circle cx="1091" cy="888" r="4.8"/>
<circle cx="808" cy="679" r="4.8"/>
<circle cx="1083" cy="1495" r="4.8"/>
<circle cx="1022" cy="1483" r="4.8"/>
<circle cx="865" cy="583" r="4.8"/>
<circle cx="923" cy="1535" r="4.8"/>
<circle cx="933" cy="600" r="4.8"/>
<circle cx="884" cy="701" r="4.8"/>
<circle cx="949" cy="583" r="4.8"/>
<circle cx="797" cy="1049" r="4.8"/>
<circle cx="1068" cy="1322" r="4.8"/>
<circle cx="935" cy="1485" r="4.8"/>
<circle cx="885" cy="586" r="4.8"/>
<circle cx="787" cy="988" r="4.8"/>
<circle cx="949" cy="1544" r="4.8"/>
<circle cx="1055" cy="1105" r="4.8"/>
<circle cx="1165" cy="849" r="4.8"/>
<circle cx="963" cy="1502" r="4.8"/>
<circle cx="873" cy="587" r="4.8"/>
<circle cx="969" cy="592" r="4.8"/>
<circle cx="883" cy="1415" r="4.8"/>
<circle cx="847" cy="1209" r="4.8"/>
<circle cx="1086" cy="764" r="4.8"/>
<circle cx="1056" cy="1090" r="4.8"/>
<circle cx="834" cy="879" r="4.8"/>
<circle cx="915" cy="1536" r="4.8"/>
<circle cx="1028" cy="622" r="4.8"/>
<circle cx="839" cy="676" r="4.8"/>
<circle cx="928" cy="634" r="4.8"/>
<circle cx="859" cy="978" r="4.8"/>
<circle cx="876" cy="1027" r="4.8"/>
<circle cx="1109" cy="777" r="4.8"/>
<circle cx="818" cy="894" r="4.8"/>
<circle cx="851" cy="1038" r="4.8"/>
<circle cx="1055" cy="987" r="4.8"/>
<circle cx="1083" cy="901" r="4.8"/>
<circle cx="1060" cy="653" r="4.8"/>
<circle cx="1090" cy="695" r="4.8"/>
<circle cx="1056" cy="1208" r="4.8"/>
<circle cx="1103" cy="1001" r="4.8"/>
<circle cx="1064" cy="1151" r="4.8"/>
<circle cx="1108" cy="1321" r="4.8"/>
<circle cx="1064" cy="1500" r="4.8"/>
<circle cx="842" cy="1156" r="4.8"/>
<circle cx="1053" cy="1127" r="4.8"/>
<circle cx="1062" cy="1162" r="4.8"/>
<circle cx="1086" cy="1527" r="4.8"/>
<circle cx="1076" cy="986" r="4.8"/>
<circle cx="1050" cy="1179" r="4.8"/>
<circle cx="871" cy="606" r="4.8"/>
<circle cx="850" cy="766" r="4.8"/>
<circle cx="841" cy="960" r="4.8"/>
<circle cx="1064" cy="832" r="4.8"/>
<circle cx="1069" cy="904" r="4.8"/>
<circle cx="1064" cy="629" r="4.8"/>
<circle cx="805" cy="722" r="4.8"/>
<circle cx="892" cy="544" r="4.8"/>
<circle cx="821" cy="1246" r="4.8"/>
<circle cx="1064" cy="1307" r="4.8"/>
<circle cx="1075" cy="1477" r="4.8"/>
<circle cx="1134" cy="941" r="4.8"/>
<circle cx="818" cy="907" r="4.8"/>
<circle cx="1075" cy="1161" r="4.8"/>
<circle cx="1043" cy="1506" r="4.8"/>
<circle cx="1066" cy="1217" r="4.8"/>
<circle cx="953" cy="1604" r="4.8"/>
<circle cx="889" cy="1418" r="4.8"/>
<circle cx="879" cy="1325" r="4.8"/>
<circle cx="994" cy="1564" r="4.8"/>
<circle cx="961" cy="573" r="4.8"/>
<circle cx="1069" cy="914" r="4.8"/>
<circle cx="949" cy="624" r="4.8"/>
<circle cx="1056" cy="1299" r="4.8"/>
<circle cx="1065" cy="741" r="4.8"/>
<circle cx="1089" cy="839" r="4.8"/>
<circle cx="1062" cy="788" r="4.8"/>
<circle cx="1065" cy="1518" r="4.8"/>
<circle cx="1062" cy="1433" r="4.8"/>
<circle cx="1060" cy="1083" r="4.8"/>
<circle cx="858" cy="1376" r="4.8"/>
<circle cx="866" cy="1091" r="4.8"/>
<circle cx="1082" cy="819" r="4.8"/>
<circle cx="978" cy="628" r="4.8"/>
<circle cx="883" cy="1262" r="4.8"/>
<circle cx="792" cy="920" r="4.8"/>
<circle cx="874" cy="817" r="4.8"/>
<circle cx="813" cy="799" r="4.8"/>
<circle cx="1076" cy="756" r="4.8"/>
<circle cx="876" cy="963" r="4.8"/>
<circle cx="1001" cy="632" r="4.8"/>
<circle cx="871" cy="1297" r="4.8"/>
<circle cx="879" cy="792" r="4.8"/>
<circle cx="1069" cy="729" r="4.8"/>
<circle cx="862" cy="1385" r="4.8"/>
<circle cx="1088" cy="975" r="4.8"/>
<circle cx="821" cy="582" r="4.8"/>
<circle cx="1003" cy="1531" r="4.8"/>
<circle cx="869" cy="786" r="4.8"/>
<circle cx="834" cy="1023" r="4.8"/>
<circle cx="879" cy="1136" r="4.8"/>
<circle cx="1060" cy="1047" r="4.8"/>
<circle cx="882" cy="956" r="4.8"/>
<circle cx="839" cy="1059" r="4.8"/>
<circle cx="799" cy="815" r="4.8"/>
<circle cx="932" cy="1474" r="4.8"/>
<circle cx="1064" cy="1285" r="4.8"/>
<circle cx="1064" cy="1137" r="4.8"/>
<circle cx="845" cy="1355" r="4.8"/>
<circle cx="874" cy="1014" r="4.8"/>
<circle cx="972" cy="1512" r="4.8"/>
<circle cx="884" cy="632" r="4.8"/>
<circle cx="1105" cy="750" r="4.8"/>
<circle cx="845" cy="1323" r="4.8"/>
<circle cx="1080" cy="1573" r="4.8"/>
<circle cx="868" cy="1334" r="4.8"/>
<circle cx="863" cy="946" r="4.8"/>
<circle cx="837" cy="1040" r="4.8"/>
<circle cx="1074" cy="729" r="4.8"/>
<circle cx="834" cy="1066" r="4.8"/>
<circle cx="1079" cy="964" r="4.8"/>
<circle cx="1057" cy="1053" r="4.8"/>
<circle cx="898" cy="745" r="4.8"/>
<circle cx="1065" cy="838" r="4.8"/>
<circle cx="1097" cy="694" r="4.8"/>
<circle cx="868" cy="649" r="4.8"/>
<circle cx="894" cy="797" r="4.8"/>
<circle cx="846" cy="1210" r="4.8"/>
<circle cx="896" cy="692" r="4.8"/>
<circle cx="1045" cy="1459" r="4.8"/>
<circle cx="882" cy="654" r="4.8"/>
<circle cx="869" cy="994" r="4.8"/>
<circle cx="891" cy="607" r="4.8"/>
<circle cx="1064" cy="638" r="4.8"/>
<circle cx="975" cy="1497" r="4.8"/>
<circle cx="862" cy="1111" r="4.8"/>
<circle cx="827" cy="1274" r="4.8"/>
<circle cx="1129" cy="811" r="4.8"/>
<circle cx="1121" cy="884" r="4.8"/>
<circle cx="1066" cy="837" r="4.8"/>
<circle cx="883" cy="861" r="4.8"/>
<circle cx="1131" cy="727" r="4.8"/>
<circle cx="882" cy="1468" r="4.8"/>
<circle cx="787" cy="739" r="4.8"/>
<circle cx="1041" cy="1470" r="4.8"/>
<circle cx="1065" cy="663" r="4.8"/>
<circle cx="991" cy="1544" r="4.8"/>
<circle cx="858" cy="582" r="4.8"/>
<circle cx="851" cy="943" r="4.8"/>
<circle cx="932" cy="625" r="4.8"/>
<circle cx="902" cy="609" r="4.8"/>
<circle cx="919" cy="605" r="4.8"/>
<circle cx="1149" cy="701" r="4.8"/>
<circle cx="1025" cy="1477" r="4.8"/>
<circle cx="1124" cy="854" r="4.8"/>
<circle cx="801" cy="1085" r="4.8"/>
<circle cx="1085" cy="1085" r="4.8"/>
<circle cx="845" cy="802" r="4.8"/>
<circle cx="1097" cy="1371" r="4.8"/>
<circle cx="1043" cy="1428" r="4.8"/>
<circle cx="823" cy="746" r="4.8"/>
<circle cx="1075" cy="1072" r="4.8"/>
<circle cx="1060" cy="878" r="4.8"/>
<circle cx="852" cy="1123" r="4.8"/>
<circle cx="815" cy="734" r="4.8"/>
<circle cx="1091" cy="1379" r="4.8"/>
<circle cx="1021" cy="1600" r="4.8"/>
<circle cx="1010" cy="1579" r="4.8"/>
<circle cx="856" cy="827" r="4.8"/>
<circle cx="835" cy="1374" r="4.8"/>
<circle cx="873" cy="904" r="4.8"/>
<circle cx="1071" cy="1375" r="4.8"/>
<circle cx="1122" cy="790" r="4.8"/>
<circle cx="868" cy="1137" r="4.8"/>
<circle cx="975" cy="1539" r="4.8"/>
<circle cx="1056" cy="919" r="4.8"/>
<circle cx="1064" cy="620" r="4.8"/>
<circle cx="867" cy="649" r="4.8"/>
<circle cx="871" cy="1264" r="4.8"/>
<circle cx="853" cy="731" r="4.8"/>
<circle cx="1097" cy="958" r="4.8"/>
<circle cx="1005" cy="1513" r="4.8"/>
<circle cx="884" cy="1279" r="4.8"/>
<circle cx="848" cy="1054" r="4.8"/>
<circle cx="1078" cy="1017" r="4.8"/>
<circle cx="1108" cy="881" r="4.8"/>
<circle cx="851" cy="1326" r="4.8"/>
<circle cx="950" cy="586" r="4.8"/>
<circle cx="879" cy="1029" r="4.8"/>
<circle cx="837" cy="1180" r="4.8"/>
<circle cx="1061" cy="1044" r="4.8"/>
<circle cx="973" cy="1518" r="4.8"/>
<circle cx="828" cy="1135" r="4.8"/>
<circle cx="1067" cy="971" r="4.8"/>
<circle cx="1064" cy="796" r="4.8"/>
<circle cx="1094" cy="728" r="4.8"/>
<circle cx="1096" cy="1076" r="4.8"/>
<circle cx="852" cy="655" r="4.8"/>
<circle cx="986" cy="608" r="4.8"/>
<circle cx="965" cy="588" r="4.8"/>
<circle cx="1061" cy="1489" r="4.8"/>
<circle cx="1145" cy="800" r="4.8"/>
<circle cx="782" cy="854" r="4.8"/>
<circle cx="1111" cy="739" r="4.8"/>
<circle cx="1063" cy="951" r="4.8"/>
<circle cx="862" cy="1292" r="4.8"/>
<circle cx="867" cy="730" r="4.8"/>
<circle cx="1085" cy="1420" r="4.8"/>
<circle cx="849" cy="1025" r="4.8"/>
<circle cx="1117" cy="1022" r="4.8"/>
<circle cx="837" cy="743" r="4.8"/>
<circle cx="889" cy="640" r="4.8"/>
<circle cx="903" cy="609" r="4.8"/>
<circle cx="1065" cy="803" r="4.8"/>
<circle cx="857" cy="1011" r="4.8"/>
<circle cx="825" cy="1094" r="4.8"/>
<circle cx="1147" cy="702" r="4.8"/>
<circle cx="831" cy="1193" r="4.8"/>
<circle cx="839" cy="1035" r="4.8"/>
<circle cx="851" cy="1038" r="4.8"/>
<circle cx="797" cy="583" r="4.8"/>
<circle cx="1060" cy="886" r="4.8"/>
<circle cx="1088" cy="643" r="4.8"/>
<circle cx="1035" cy="1542" r="4.8"/>
<circle cx="945" cy="623" r="4.8"/>
<circle cx="864" cy="1091" r="4.8"/>
<circle cx="846" cy="856" r="4.8"/>
<circle cx="942" cy="603" r="4.8"/>
<circle cx="890" cy="770" r="4.8"/>
<circle cx="1092" cy="1071" r="4.8"/>
<circle cx="835" cy="819" r="4.8"/>
<circle cx="1118" cy="825" r="4.8"/>
<circle cx="1087" cy="1100" r="4.8"/>
<circle cx="1109" cy="750" r="4.8"/>
<circle cx="1063" cy="1057" r="4.8"/>
<circle cx="892" cy="1503" r="4.8"/>
<circle cx="1073" cy="620" r="4.8"/>
<circle cx="921" cy="1494" r="4.8"/>
<circle cx="1007" cy="1539" r="4.8"/>
<circle cx="890" cy="785" r="4.8"/>
<circle cx="1102" cy="743" r="4.8"/>
<circle cx="898" cy="550" r="4.8"/>
<circle cx="1034" cy="1595" r="4.8"/>
<circle cx="1113" cy="796" r="4.8"/>
<circle cx="1101" cy="1235" r="4.8"/>
<circle cx="861" cy="717" r="4.8"/>
<circle cx="1128" cy="839" r="4.8"/>
<circle cx="874" cy="1330" r="4.8"/>
<circle cx="1059" cy="780" r="4.8"/>
<circle cx="1060" cy="1067" r="4.8"/>
<circle cx="1072" cy="1254" r="4.8"/>
<circle cx="793" cy="759" r="4.8"/>
<circle cx="837" cy="1253" r="4.8"/>
<circle cx="978" cy="574" r="4.8"/>
<circle cx="850" cy="916" r="4.8"/>
<circle cx="1148" cy="866" r="4.8"/>
<circle cx="957" cy="630" r="4.8"/>
<circle cx="883" cy="1108" r="4.8"/>
<circle cx="917" cy="1531" r="4.8"/>
<circle cx="1054" cy="1026" r="4.8"/>
<circle cx="840" cy="1368" r="4.8"/>
<circle cx="873" cy="1206" r="4.8"/>
<circle cx="1058" cy="1097" r="4.8"/>
<circle cx="1048" cy="1455" r="4.8"/>
<circle cx="1056" cy="1463" r="4.8"/>
<circle cx="872" cy="1084" r="4.8"/>
<circle cx="1025" cy="1514" r="4.8"/>
<circle cx="877" cy="747" r="4.8"/>
<circle cx="841" cy="584" r="4.8"/>
<circle cx="1130" cy="980" r="4.8"/>
<circle cx="957" cy="1574" r="4.8"/>
<circle cx="1059" cy="1355" r="4.8"/>
<circle cx="1093" cy="1172" r="4.8"/>
<circle cx="913" cy="588" r="4.8"/>
<circle cx="853" cy="791" r="4.8"/>
<circle cx="972" cy="631" r="4.8"/>
<circle cx="1144" cy="938" r="4.8"/>
<circle cx="862" cy="751" r="4.8"/>
<circle cx="874" cy="775" r="4.8"/>
<circle cx="871" cy="967" r="4.8"/>
<circle cx="825" cy="788" r="4.8"/>
<circle cx="877" cy="837" r="4.8"/>
<circle cx="1065" cy="827" r="4.8"/>
<circle cx="1055" cy="640" r="4.8"/>
<circle cx="882" cy="630" r="4.8"/>
<circle cx="874" cy="1299" r="4.8"/>
<circle cx="1078" cy="988" r="4.8"/>
<circle cx="843" cy="1226" r="4.8"/>
<circle cx="1147" cy="735" r="4.8"/>
<circle cx="1053" cy="1045" r="4.8"/>
<circle cx="872" cy="1213" r="4.8"/>
<circle cx="1100" cy="1073" r="4.8"/>
<circle cx="1081" cy="990" r="4.8"/>
<circle cx="1098" cy="925" r="4.8"/>
<circle cx="884" cy="1314" r="4.8"/>
<circle cx="899" cy="755" r="4.8"/>
<circle cx="1067" cy="958" r="4.8"/>
<circle cx="863" cy="731" r="4.8"/>
<circle cx="831" cy="1204" r="4.8"/>
<circle cx="860" cy="989" r="4.8"/>
<circle cx="1051" cy="1263" r="4.8"/>
<circle cx="888" cy="848" r="4.8"/>
<circle cx="845" cy="726" r="4.8"/>
<circle cx="949" cy="1504" r="4.8"/>
<circle cx="825" cy="928" r="4.8"/>
<circle cx="895" cy="532" r="4.8"/>
<circle cx="830" cy="630" r="4.8"/>
<circle cx="828" cy="654" r="4.8"/>
<circle cx="1079" cy="1020" r="4.8"/>
<circle cx="866" cy="1228" r="4.8"/>
<circle cx="852" cy="1086" r="4.8"/>
<circle cx="1087" cy="696" r="4.8"/>
<circle cx="1056" cy="894" r="4.8"/>
<circle cx="1051" cy="1323" r="4.8"/>
</g>
<g fill="#ffff00">
<circle cx="928" cy="727" r="4.8"/>
<circle cx="947" cy="737" r="4.8"/>
<circle cx="983" cy="650" r="4.8"/>
<circle cx="897" cy="774" r="4.8"/>
<circle cx="931" cy="677" r="4.8"/>
<circle cx="1012" cy="716" r="4.8"/>
<circle cx="984" cy="664" r="4.8"/>
<circle cx="984" cy="779" r="4.8"/>
<circle cx="968" cy="759" r="4.8"/>
<circle cx="989" cy="650" r="4.8"/>
<circle cx="1001" cy="735" r="4.8"/>
<circle cx="937" cy="645" r="4.8"/>
<circle cx="1016" cy="716" r="4.8"/>
<circle cx="996" cy="781" r="4.8"/>
<circle cx="995" cy="787" r="4.8"/>
<circle cx="950" cy="768" r="4.8"/>
<circle cx="957" cy="790" r="4.8"/>
<circle cx="914" cy="675" r="4.8"/>
<circle cx="983" cy="688" r="4.8"/>
<circle cx="966" cy="702" r="4.8"/>
<circle cx="944" cy="734" r="4.8"/>
<circle cx="977" cy="785" r="4.8"/>
<circle cx="990" cy="789" r="4.8"/>
<circle cx="1015" cy="799" r="4.8"/>
<circle cx="989" cy="666" r="4.8"/>
<circle cx="1015" cy="794" r="4.8"/>
<circle cx="1022" cy="731" r="4.8"/>
<circle cx="995" cy="674" r="4.8"/>
<circle cx="1011" cy="732" r="4.8"/>
<circle cx="935" cy="650" r="4.8"/>
<circle cx="1015" cy="798" r="4.8"/>
<circle cx="907" cy="768" r="4.8"/>
<circle cx="952" cy="664" r="4.8"/>
<circle cx="936" cy="763" r="4.8"/>
<circle cx="981" cy="647" r="4.8"/>
<circle cx="996" cy="693" r="4.8"/>
<circle cx="1018" cy="797" r="4.8"/>
<circle cx="966" cy="800" r="4.8"/>
<circle cx="938" cy="652" r="4.8"/>
<circle cx="979" cy="645" r="4.8"/>
<circle cx="923" cy="705" r="4.8"/>
<circle cx="980" cy="665" r="4.8"/>
<circle cx="901" cy="779" r="4.8"/>
<circle cx="939" cy="793" r="4.8"/>
<circle cx="1021" cy="700" r="4.8"/>
<circle cx="959" cy="723" r="4.8"/>
<circle cx="985" cy="735" r="4.8"/>
<circle cx="973" cy="739" r="4.8"/>
<circle cx="955" cy="755" r="4.8"/>
<circle cx="928" cy="688" r="4.8"/>
<circle cx="972" cy="642" r="4.8"/>
<circle cx="953" cy="733" r="4.8"/>
<circle cx="898" cy="739" r="4.8"/>
<circle cx="984" cy="650" r="4.8"/>
<circle cx="983" cy="715" r="4.8"/>
<circle cx="990" cy="696" r="4.8"/>
<circle cx="994" cy="758" r="4.8"/>
<circle cx="898" cy="650" r="4.8"/>
<circle cx="990" cy="794" r="4.8"/>
<circle cx="930" cy="713" r="4.8"/>
<circle cx="978" cy="691" r="4.8"/>
<circle cx="946" cy="690" r="4.8"/>
<circle cx="947" cy="735" r="4.8"/>
<circle cx="937" cy="700" r="4.8"/>
<circle cx="1003" cy="644" r="4.8"/>
<circle cx="975" cy="758" r="4.8"/>
<circle cx="938" cy="676" r="4.8"/>
<circle cx="1008" cy="678" r="4.8"/>
<circle cx="921" cy="710" r="4.8"/>
<circle cx="993" cy="656" r="4.8"/>
<circle cx="940" cy="693" r="4.8"/>
<circle cx="1012" cy="710" r="4.8"/>
<circle cx="1015" cy="667" r="4.8"/>
<circle cx="942" cy="744" r="4.8"/>
<circle cx="1019" cy="712" r="4.8"/>
<circle cx="927" cy="659" r="4.8"/>
<circle cx="969" cy="671" r="4.8"/>
<circle cx="1008" cy="774" r="4.8"/>
<circle cx="921" cy="685" r="4.8"/>
<circle cx="1008" cy="743" r="4.8"/>
<circle cx="1008" cy="695" r="4.8"/>
<circle cx="913" cy="687" r="4.8"/>
<circle cx="1006" cy="683" r="4.8"/>
<circle cx="943" cy="707" r="4.8"/>
<circle cx="954" cy="706" r="4.8"/>
<circle cx="896" cy="791" r="4.8"/>
<circle cx="1018" cy="798" r="4.8"/>
<circle cx="956" cy="792" r="4.8"/>
<circle cx="999" cy="774" r="4.8"/>
<circle cx="988" cy="723" r="4.8"/>
<circle cx="935" cy="695" r="4.8"/>
<circle cx="927" cy="651" r="4.8"/>
<circle cx="977" cy="686" r="4.8"/>
<circle cx="1008" cy="647" r="4.8"/>
<circle cx="1022" cy="751" r="4.8"/>
<circle cx="1024" cy="783" r="4.8"/>
<circle cx="1021" cy="732" r="4.8"/>
<circle cx="897" cy="759" r="4.8"/>
<circle cx="919" cy="688" r="4.8"/>
<circle cx="988" cy="724" r="4.8"/>
<circle cx="953" cy="790" r="4.8"/>
<circle cx="981" cy="695" r="4.8"/>
<circle cx="930" cy="778" r="4.8"/>
<circle cx="962" cy="765" r="4.8"/>
<circle cx="944" cy="672" r="4.8"/>
<circle cx="970" cy="771" r="4.8"/>
<circle cx="919" cy="767" r="4.8"/>
<circle cx="1024" cy="769" r="4.8"/>
<circle cx="1010" cy="641" r="4.8"/>
<circle cx="983" cy="778" r="4.8"/>
<circle cx="902" cy="683" r="4.8"/>
<circle cx="933" cy="724" r="4.8"/>
<circle cx="954" cy="716" r="4.8"/>
<circle cx="1004" cy="640" r="4.8"/>
<circle cx="903" cy="660" r="4.8"/>
<circle cx="912" cy="651" r="4.8"/>
<circle cx="1031" cy="777" r="4.8"/>
<circle cx="907" cy="720" r="4.8"/>
<circle cx="939" cy="690" r="4.8"/>
<circle cx="944" cy="744" r="4.8"/>
<circle cx="977" cy="698" r="4.8"/>
<circle cx="922" cy="693" r="4.8"/>
<circle cx="912" cy="729" r="4.8"/>
<circle cx="995" cy="701" r="4.8"/>
<circle cx="906" cy="669" r="4.8"/>
<circle cx="947" cy="737" r="4.8"/>
<circle cx="1005" cy="701" r="4.8"/>
<circle cx="1007" cy="740" r="4.8"/>
<circle cx="955" cy="700" r="4.8"/>
<circle cx="964" cy="752" r="4.8"/>
<circle cx="954" cy="751" r="4.8"/>
<circle cx="960" cy="679" r="4.8"/>
<circle cx="970" cy="751" r="4.8"/>
<circle cx="905" cy="708" r="4.8"/>
<circle cx="955" cy="781" r="4.8"/>
<circle cx="1021" cy="767" r="4.8"/>
<circle cx="932" cy="714" r="4.8"/>
<circle cx="912" cy="770" r="4.8"/>
<circle cx="988" cy="782" r="4.8"/>
<circle cx="1006" cy="747" r="4.8"/>
<circle cx="998" cy="730" r="4.8"/>
<circle cx="909" cy="734" r="4.8"/>
<circle cx="896" cy="663" r="4.8"/>
<circle cx="1003" cy="647" r="4.8"/>
<circle cx="908" cy="656" r="4.8"/>
<circle cx="1018" cy="669" r="4.8"/>
<circle cx="898" cy="775" r="4.8"/>
<circle cx="912" cy="775" r="4.8"/>
<circle cx="989" cy="774" r="4.8"/>
<circle cx="1007" cy="646" r="4.8"/>
<circle cx="1002" cy="722" r="4.8"/>
<circle cx="995" cy="657" r="4.8"/>
<circle cx="1000" cy="790" r="4.8"/>
<circle cx="904" cy="692" r="4.8"/>
<circle cx="974" cy="772" r="4.8"/>
<circle cx="929" cy="669" r="4.8"/>
<circle cx="930" cy="739" r="4.8"/>
<circle cx="1000" cy="703" r="4.8"/>
<circle cx="946" cy="703" r="4.8"/>
<circle cx="944" cy="707" r="4.8"/>
<circle cx="907" cy="720" r="4.8"/>
<circle cx="1000" cy="666" r="4.8"/>
<circle cx="992" cy="761" r="4.8"/>
<circle cx="989" cy="723" r="4.8"/>
<circle cx="963" cy="743" r="4.8"/>
<circle cx="908" cy="760" r="4.8"/>
<circle cx="1023" cy="723" r="4.8"/>
<circle cx="957" cy="755" r="4.8"/>
<circle cx="921" cy="683" r="4.8"/>
<circle cx="923" cy="734" r="4.8"/>
<circle cx="939" cy="677" r="4.8"/>
<circle cx="992" cy="793" r="4.8"/>
<circle cx="936" cy="753" r="4.8"/>
<circle cx="953" cy="777" r="4.8"/>
<circle cx="977" cy="683" r="4.8"/>
<circle cx="925" cy="644" r="4.8"/>
<circle cx="962" cy="701" r="4.8"/>
<circle cx="919" cy="698" r="4.8"/>
<circle cx="940" cy="764" r="4.8"/>
<circle cx="915" cy="799" r="4.8"/>
<circle cx="962" cy="736" r="4.8"/>
<circle cx="961" cy="774" r="4.8"/>
<circle cx="1010" cy="729" r="4.8"/>
<circle cx="962" cy="755" r="4.8"/>
<circle cx="1015" cy="704" r="4.8"/>
<circle cx="998" cy="794" r="4.8"/>
<circle cx="960" cy="677" r="4.8"/>
<circle cx="928" cy="755" r="4.8"/>
<circle cx="990" cy="793" r="4.8"/>
<circle cx="1015" cy="679" r="4.8"/>
<circle cx="922" cy="681" r="4.8"/>
<circle cx="921" cy="753" r="4.8"/>
<circle cx="1015" cy="784" r="4.8"/>
<circle cx="931" cy="778" r="4.8"/>
<circle cx="939" cy="708" r="4.8"/>
<circle cx="997" cy="654" r="4.8"/>
<circle cx="908" cy="773" r="4.8"/>
<circle cx="936" cy="697" r="4.8"/>
<circle cx="976" cy="748" r="4.8"/>
<circle cx="896" cy="694" r="4.8"/>
<circle cx="956" cy="718" r="4.8"/>
<circle cx="924" cy="734" r="4.8"/>
<circle cx="971" cy="659" r="4.8"/>
<circle cx="933" cy="746" r="4.8"/>
<circle cx="911" cy="782" r="4.8"/>
<circle cx="1003" cy="761" r="4.8"/>
<circle cx="936" cy="748" r="4.8"/>
<circle cx="987" cy="769" r="4.8"/>
<circle cx="932" cy="761" r="4.8"/>
<circle cx="970" cy="658" r="4.8"/>
<circle cx="964" cy="696" r="4.8"/>
<circle cx="996" cy="749" r="4.8"/>
<circle cx="974" cy="669" r="4.8"/>
<circle cx="985" cy="741" r="4.8"/>
<circle cx="920" cy="782" r="4.8"/>
<circle cx="987" cy="660" r="4.8"/>
<circle cx="941" cy="755" r="4.8"/>
<circle cx="979" cy="729" r="4.8"/>
<circle cx="986" cy="713" r="4.8"/>
<circle cx="939" cy="668" r="4.8"/>
<circle cx="905" cy="755" r="4.8"/>
<circle cx="1001" cy="727" r="4.8"/>
<circle cx="999" cy="697" r="4.8"/>
<circle cx="932" cy="701" r="4.8"/>
<circle cx="966" cy="680" r="4.8"/>
<circle cx="1003" cy="697" r="4.8"/>
<circle cx="942" cy="705" r="4.8"/>
<circle cx="971" cy="763" r="4.8"/>
<circle cx="944" cy="776" r="4.8"/>
<circle cx="911" cy="683" r="4.8"/>
<circle cx="909" cy="658" r="4.8"/>
<circle cx="1004" cy="756" r="4.8"/>
<circle cx="921" cy="670" r="4.8"/>
<circle cx="953" cy="759" r="4.8"/>
<circle cx="1009" cy="760" r="4.8"/>
<circle cx="978" cy="663" r="4.8"/>
<circle cx="951" cy="671" r="4.8"/>
<circle cx="969" cy="731" r="4.8"/>
<circle cx="923" cy="680" r="4.8"/>
<circle cx="1004" cy="645" r="4.8"/>
<circle cx="1007" cy="783" r="4.8"/>
<circle cx="972" cy="733" r="4.8"/>
<circle cx="984" cy="796" r="4.8"/>
<circle cx="991" cy="688" r="4.8"/>
<circle cx="1015" cy="717" r="4.8"/>
<circle cx="979" cy="756" r="4.8"/>
<circle cx="895" cy="763" r="4.8"/>
<circle cx="988" cy="719" r="4.8"/>
<circle cx="968" cy="714" r="4.8"/>
<circle cx="922" cy="725" r="4.8"/>
<circle cx="900" cy="720" r="4.8"/>
<circle cx="985" cy="711" r="4.8"/>
<circle cx="974" cy="793" r="4.8"/>
<circle cx="1006" cy="740" r="4.8"/>
<circle cx="902" cy="698" r="4.8"/>
<circle cx="928" cy="652" r="4.8"/>
<circle cx="970" cy="789" r="4.8"/>
<circle cx="940" cy="779" r="4.8"/>
<circle cx="992" cy="661" r="4.8"/>
<circle cx="1015" cy="736" r="4.8"/>
<circle cx="1025" cy="755" r="4.8"/>
<circle cx="999" cy="695" r="4.8"/>
<circle cx="1008" cy="789" r="4.8"/>
<circle cx="1016" cy="710" r="4.8"/>
<circle cx="1001" cy="718" r="4.8"/>
<circle cx="910" cy="647" r="4.8"/>
<circle cx="906" cy="672" r="4.8"/>
<circle cx="918" cy="720" r="4.8"/>
<circle cx="993" cy="726" r="4.8"/>
<circle cx="954" cy="744" r="4.8"/>
<circle cx="938" cy="714" r="4.8"/>
<circle cx="1001" cy="704" r="4.8"/>
<circle cx="920" cy="784" r="4.8"/>
<circle cx="996" cy="699" r="4.8"/>
<circle cx="947" cy="725" r="4.8"/>
<circle cx="979" cy="676" r="4.8"/>
<circle cx="895" cy="673" r="4.8"/>
<circle cx="1005" cy="663" r="4.8"/>
<circle cx="959" cy="671" r="4.8"/>
<circle cx="1023" cy="667" r="4.8"/>
<circle cx="1031" cy="667" r="4.8"/>
<circle cx="1017" cy="644" r="4.8"/>
<circle cx="1033" cy="705" r="4.8"/>
<circle cx="1043" cy="648" r="4.8"/>
<circle cx="1031" cy="703" r="4.8"/>
<circle cx="1024" cy="655" r="4.8"/>
<circle cx="1034" cy="666" r="4.8"/>
<circle cx="1040" cy="695" r="4.8"/>
<circle cx="1020" cy="648" r="4.8"/>
<circle cx="1044" cy="684" r="4.8"/>
<circle cx="1047" cy="714" r="4.8"/>
<circle cx="1025" cy="683" r="4.8"/>
<circle cx="1048" cy="741" r="4.8"/>
<circle cx="1029" cy="655" r="4.8"/>
<circle cx="1042" cy="795" r="4.8"/>
<circle cx="1039" cy="641" r="4.8"/>
<circle cx="1022" cy="646" r="4.8"/>
<circle cx="1047" cy="787" r="4.8"/>
<circle cx="1027" cy="737" r="4.8"/>
<circle cx="1045" cy="757" r="4.8"/>
<circle cx="1048" cy="729" r="4.8"/>
<circle cx="1032" cy="677" r="4.8"/>
<circle cx="1016" cy="915" r="4.8"/>
<circle cx="927" cy="841" r="4.8"/>
<circle cx="1006" cy="945" r="4.8"/>
<circle cx="1004" cy="893" r="4.8"/>
<circle cx="965" cy="837" r="4.8"/>
<circle cx="1004" cy="806" r="4.8"/>
<circle cx="962" cy="982" r="4.8"/>
<circle cx="999" cy="823" r="4.8"/>
<circle cx="922" cy="1002" r="4.8"/>
<circle cx="992" cy="1011" r="4.8"/>
<circle cx="1033" cy="908" r="4.8"/>
<circle cx="1037" cy="976" r="4.8"/>
<circle cx="938" cy="889" r="4.8"/>
<circle cx="893" cy="896" r="4.8"/>
<circle cx="1047" cy="825" r="4.8"/>
<circle cx="980" cy="826" r="4.8"/>
<circle cx="894" cy="956" r="4.8"/>
<circle cx="922" cy="812" r="4.8"/>
<circle cx="907" cy="955" r="4.8"/>
<circle cx="982" cy="803" r="4.8"/>
<circle cx="920" cy="1032" r="4.8"/>
<circle cx="919" cy="935" r="4.8"/>
<circle cx="953" cy="987" r="4.8"/>
<circle cx="986" cy="989" r="4.8"/>
<circle cx="974" cy="845" r="4.8"/>
<circle cx="911" cy="819" r="4.8"/>
<circle cx="1024" cy="827" r="4.8"/>
<circle cx="884" cy="1032" r="4.8"/>
<circle cx="915" cy="1014" r="4.8"/>
<circle cx="895" cy="912" r="4.8"/>
<circle cx="919" cy="999" r="4.8"/>
<circle cx="988" cy="954" r="4.8"/>
<circle cx="1013" cy="1009" r="4.8"/>
<circle cx="941" cy="945" r="4.8"/>
<circle cx="958" cy="827" r="4.8"/>
<circle cx="1026" cy="943" r="4.8"/>
<circle cx="1023" cy="849" r="4.8"/>
<circle cx="974" cy="911" r="4.8"/>
<circle cx="1007" cy="819" r="4.8"/>
<circle cx="941" cy="916" r="4.8"/>
<circle cx="893" cy="933" r="4.8"/>
<circle cx="1009" cy="901" r="4.8"/>
<circle cx="993" cy="945" r="4.8"/>
<circle cx="917" cy="884" r="4.8"/>
<circle cx="955" cy="820" r="4.8"/>
<circle cx="918" cy="840" r="4.8"/>
<circle cx="1043" cy="974" r="4.8"/>
<circle cx="1033" cy="1037" r="4.8"/>
<circle cx="974" cy="900" r="4.8"/>
<circle cx="1046" cy="1017" r="4.8"/>
<circle cx="1046" cy="916" r="4.8"/>
<circle cx="1015" cy="898" r="4.8"/>
<circle cx="931" cy="1024" r="4.8"/>
<circle cx="912" cy="823" r="4.8"/>
<circle cx="1006" cy="871" r="4.8"/>
<circle cx="971" cy="953" r="4.8"/>
<circle cx="887" cy="979" r="4.8"/>
<circle cx="928" cy="904" r="4.8"/>
<circle cx="940" cy="978" r="4.8"/>
<circle cx="1011" cy="869" r="4.8"/>
<circle cx="898" cy="872" r="4.8"/>
<circle cx="952" cy="819" r="4.8"/>
<circle cx="907" cy="983" r="4.8"/>
<circle cx="945" cy="839" r="4.8"/>
<circle cx="935" cy="911" r="4.8"/>
<circle cx="972" cy="930" r="4.8"/>
<circle cx="943" cy="1005" r="4.8"/>
<circle cx="930" cy="911" r="4.8"/>
<circle cx="1035" cy="994" r="4.8"/>
<circle cx="932" cy="858" r="4.8"/>
<circle cx="1021" cy="802" r="4.8"/>
<circle cx="903" cy="927" r="4.8"/>
<circle cx="974" cy="840" r="4.8"/>
<circle cx="1015" cy="912" r="4.8"/>
<circle cx="1051" cy="808" r="4.8"/>
<circle cx="956" cy="881" r="4.8"/>
<circle cx="889" cy="931" r="4.8"/>
<circle cx="896" cy="875" r="4.8"/>
<circle cx="923" cy="993" r="4.8"/>
<circle cx="953" cy="862" r="4.8"/>
<circle cx="888" cy="903" r="4.8"/>
<circle cx="990" cy="962" r="4.8"/>
<circle cx="1040" cy="994" r="4.8"/>
<circle cx="923" cy="833" r="4.8"/>
<circle cx="1013" cy="989" r="4.8"/>
<circle cx="969" cy="999" r="4.8"/>
<circle cx="977" cy="867" r="4.8"/>
<circle cx="993" cy="1015" r="4.8"/>
<circle cx="1039" cy="912" r="4.8"/>
<circle cx="1022" cy="945" r="4.8"/>
<circle cx="953" cy="924" r="4.8"/>
<circle cx="910" cy="844" r="4.8"/>
<circle cx="976" cy="898" r="4.8"/>
<circle cx="942" cy="909" r="4.8"/>
<circle cx="1021" cy="909" r="4.8"/>
<circle cx="1048" cy="837" r="4.8"/>
<circle cx="935" cy="925" r="4.8"/>
<circle cx="952" cy="1004" r="4.8"/>
<circle cx="1025" cy="1024" r="4.8"/>
<circle cx="987" cy="807" r="4.8"/>
<circle cx="981" cy="932" r="4.8"/>
<circle cx="965" cy="867" r="4.8"/>
<circle cx="1004" cy="1019" r="4.8"/>
<circle cx="898" cy="960" r="4.8"/>
<circle cx="945" cy="924" r="4.8"/>
<circle cx="1037" cy="1030" r="4.8"/>
<circle cx="993" cy="847" r="4.8"/>
<circle cx="1041" cy="843" r="4.8"/>
<circle cx="947" cy="999" r="4.8"/>
<circle cx="935" cy="865" r="4.8"/>
<circle cx="1046" cy="1027" r="4.8"/>
<circle cx="936" cy="894" r="4.8"/>
<circle cx="929" cy="832" r="4.8"/>
<circle cx="915" cy="819" r="4.8"/>
<circle cx="972" cy="978" r="4.8"/>
<circle cx="1027" cy="951" r="4.8"/>
<circle cx="1023" cy="801" r="4.8"/>
<circle cx="929" cy="1031" r="4.8"/>
<circle cx="964" cy="864" r="4.8"/>
<circle cx="976" cy="811" r="4.8"/>
<circle cx="921" cy="1030" r="4.8"/>
<circle cx="905" cy="1017" r="4.8"/>
<circle cx="998" cy="955" r="4.8"/>
<circle cx="1013" cy="842" r="4.8"/>
<circle cx="913" cy="997" r="4.8"/>
<circle cx="1033" cy="812" r="4.8"/>
<circle cx="1048" cy="928" r="4.8"/>
<circle cx="947" cy="826" r="4.8"/>
<circle cx="929" cy="832" r="4.8"/>
<circle cx="942" cy="1020" r="4.8"/>
<circle cx="1044" cy="1039" r="4.8"/>
<circle cx="1051" cy="859" r="4.8"/>
<circle cx="942" cy="1028" r="4.8"/>
<circle cx="965" cy="969" r="4.8"/>
<circle cx="935" cy="805" r="4.8"/>
<circle cx="940" cy="980" r="4.8"/>
<circle cx="1017" cy="937" r="4.8"/>
<circle cx="961" cy="929" r="4.8"/>
<circle cx="957" cy="928" r="4.8"/>
<circle cx="1026" cy="848" r="4.8"/>
<circle cx="1028" cy="843" r="4.8"/>
<circle cx="1049" cy="1002" r="4.8"/>
<circle cx="909" cy="864" r="4.8"/>
<circle cx="915" cy="813" r="4.8"/>
<circle cx="1051" cy="898" r="4.8"/>
<circle cx="1033" cy="827" r="4.8"/>
<circle cx="882" cy="1009" r="4.8"/>
<circle cx="1000" cy="926" r="4.8"/>
<circle cx="1014" cy="822" r="4.8"/>
<circle cx="975" cy="906" r="4.8"/>
<circle cx="906" cy="944" r="4.8"/>
<circle cx="937" cy="922" r="4.8"/>
<circle cx="945" cy="876" r="4.8"/>
<circle cx="943" cy="944" r="4.8"/>
<circle cx="1031" cy="1000" r="4.8"/>
<circle cx="927" cy="830" r="4.8"/>
<circle cx="968" cy="976" r="4.8"/>
<circle cx="940" cy="955" r="4.8"/>
<circle cx="929" cy="1032" r="4.8"/>
<circle cx="959" cy="915" r="4.8"/>
<circle cx="973" cy="1010" r="4.8"/>
<circle cx="957" cy="948" r="4.8"/>
<circle cx="892" cy="902" r="4.8"/>
<circle cx="1028" cy="987" r="4.8"/>
<circle cx="890" cy="1005" r="4.8"/>
<circle cx="944" cy="852" r="4.8"/>
<circle cx="976" cy="1012" r="4.8"/>
<circle cx="955" cy="1008" r="4.8"/>
<circle cx="1004" cy="887" r="4.8"/>
<circle cx="933" cy="921" r="4.8"/>
<circle cx="950" cy="889" r="4.8"/>
<circle cx="994" cy="1010" r="4.8"/>
<circle cx="982" cy="835" r="4.8"/>
<circle cx="918" cy="889" r="4.8"/>
<circle cx="988" cy="833" r="4.8"/>
<circle cx="894" cy="877" r="4.8"/>
<circle cx="930" cy="807" r="4.8"/>
<circle cx="974" cy="1021" r="4.8"/>
<circle cx="974" cy="977" r="4.8"/>
<circle cx="1025" cy="1001" r="4.8"/>
<circle cx="1040" cy="906" r="4.8"/>
<circle cx="999" cy="829" r="4.8"/>
<circle cx="1034" cy="891" r="4.8"/>
<circle cx="963" cy="1014" r="4.8"/>
<circle cx="930" cy="846" r="4.8"/>
<circle cx="1024" cy="944" r="4.8"/>
<circle cx="941" cy="802" r="4.8"/>
<circle cx="1026" cy="844" r="4.8"/>
<circle cx="928" cy="893" r="4.8"/>
<circle cx="970" cy="904" r="4.8"/>
<circle cx="990" cy="958" r="4.8"/>
<circle cx="956" cy="823" r="4.8"/>
<circle cx="1051" cy="966" r="4.8"/>
<circle cx="895" cy="906" r="4.8"/>
<circle cx="964" cy="901" r="4.8"/>
<circle cx="1037" cy="998" r="4.8"/>
<circle cx="938" cy="901" r="4.8"/>
<circle cx="982" cy="1012" r="4.8"/>
<circle cx="915" cy="894" r="4.8"/>
<circle cx="895" cy="954" r="4.8"/>
<circle cx="885" cy="1024" r="4.8"/>
<circle cx="972" cy="938" r="4.8"/>
<circle cx="962" cy="1006" r="4.8"/>
<circle cx="974" cy="868" r="4.8"/>
<circle cx="972" cy="849" r="4.8"/>
<circle cx="932" cy="1016" r="4.8"/>
<circle cx="903" cy="928" r="4.8"/>
<circle cx="988" cy="885" r="4.8"/>
<circle cx="1015" cy="1018" r="4.8"/>
<circle cx="1030" cy="977" r="4.8"/>
<circle cx="916" cy="814" r="4.8"/>
<circle cx="956" cy="875" r="4.8"/>
<circle cx="914" cy="1009" r="4.8"/>
<circle cx="918" cy="997" r="4.8"/>
<circle cx="1044" cy="829" r="4.8"/>
<circle cx="1040" cy="895" r="4.8"/>
<circle cx="917" cy="845" r="4.8"/>
<circle cx="887" cy="920" r="4.8"/>
<circle cx="947" cy="1004" r="4.8"/>
<circle cx="1026" cy="814" r="4.8"/>
<circle cx="950" cy="893" r="4.8"/>
<circle cx="911" cy="860" r="4.8"/>
<circle cx="926" cy="967" r="4.8"/>
<circle cx="940" cy="827" r="4.8"/>
<circle cx="919" cy="906" r="4.8"/>
<circle cx="979" cy="859" r="4.8"/>
<circle cx="1002" cy="852" r="4.8"/>
<circle cx="997" cy="946" r="4.8"/>
<circle cx="911" cy="980" r="4.8"/>
<circle cx="949" cy="929" r="4.8"/>
<circle cx="985" cy="951" r="4.8"/>
<circle cx="957" cy="813" r="4.8"/>
<circle cx="1018" cy="1006" r="4.8"/>
<circle cx="966" cy="939" r="4.8"/>
<circle cx="927" cy="1016" r="4.8"/>
<circle cx="1000" cy="853" r="4.8"/>
<circle cx="965" cy="843" r="4.8"/>
<circle cx="1005" cy="881" r="4.8"/>
<circle cx="1008" cy="940" r="4.8"/>
<circle cx="899" cy="927" r="4.8"/>
<circle cx="1029" cy="915" r="4.8"/>
<circle cx="974" cy="1007" r="4.8"/>
<circle cx="958" cy="918" r="4.8"/>
<circle cx="982" cy="998" r="4.8"/>
<circle cx="916" cy="822" r="4.8"/>
<circle cx="1013" cy="933" r="4.8"/>
<circle cx="933" cy="1014" r="4.8"/>
<circle cx="1035" cy="930" r="4.8"/>
<circle cx="1011" cy="870" r="4.8"/>
<circle cx="1009" cy="884" r="4.8"/>
<circle cx="964" cy="936" r="4.8"/>
<circle cx="924" cy="967" r="4.8"/>
<circle cx="978" cy="893" r="4.8"/>
<circle cx="899" cy="933" r="4.8"/>
<circle cx="936" cy="974" r="4.8"/>
<circle cx="910" cy="895" r="4.8"/>
<circle cx="914" cy="898" r="4.8"/>
<circle cx="981" cy="826" r="4.8"/>
<circle cx="890" cy="916" r="4.8"/>
<circle cx="915" cy="921" r="4.8"/>
<circle cx="909" cy="824" r="4.8"/>
<circle cx="974" cy="1022" r="4.8"/>
<circle cx="1032" cy="924" r="4.8"/>
<circle cx="950" cy="816" r="4.8"/>
<circle cx="928" cy="875" r="4.8"/>
<circle cx="1045" cy="828" r="4.8"/>
<circle cx="1046" cy="914" r="4.8"/>
<circle cx="956" cy="863" r="4.8"/>
<circle cx="1048" cy="845" r="4.8"/>
<circle cx="980" cy="923" r="4.8"/>
<circle cx="915" cy="854" r="4.8"/>
<circle cx="1008" cy="1017" r="4.8"/>
<circle cx="897" cy="969" r="4.8"/>
<circle cx="1011" cy="854" r="4.8"/>
<circle cx="937" cy="983" r="4.8"/>
<circle cx="909" cy="960" r="4.8"/>
<circle cx="927" cy="922" r="4.8"/>
<circle cx="945" cy="1009" r="4.8"/>
<circle cx="1010" cy="921" r="4.8"/>
<circle cx="1000" cy="903" r="4.8"/>
<circle cx="1021" cy="862" r="4.8"/>
<circle cx="975" cy="941" r="4.8"/>
<circle cx="948" cy="811" r="4.8"/>
<circle cx="910" cy="954" r="4.8"/>
<circle cx="917" cy="982" r="4.8"/>
<circle cx="1028" cy="975" r="4.8"/>
<circle cx="945" cy="810" r="4.8"/>
<circle cx="977" cy="979" r="4.8"/>
<circle cx="1041" cy="849" r="4.8"/>
<circle cx="908" cy="1035" r="4.8"/>
<circle cx="1009" cy="916" r="4.8"/>
<circle cx="1009" cy="836" r="4.8"/>
<circle cx="975" cy="960" r="4.8"/>
<circle cx="986" cy="839" r="4.8"/>
<circle cx="904" cy="950" r="4.8"/>
<circle cx="1035" cy="833" r="4.8"/>
<circle cx="1017" cy="894" r="4.8"/>
<circle cx="987" cy="863" r="4.8"/>
<circle cx="1003" cy="800" r="4.8"/>
<circle cx="929" cy="968" r="4.8"/>
<circle cx="971" cy="879" r="4.8"/>
<circle cx="1050" cy="824" r="4.8"/>
<circle cx="1020" cy="893" r="4.8"/>
<circle cx="1021" cy="907" r="4.8"/>
<circle cx="997" cy="878" r="4.8"/>
<circle cx="919" cy="909" r="4.8"/>
<circle cx="1020" cy="883" r="4.8"/>
<circle cx="920" cy="900" r="4.8"/>
<circle cx="897" cy="876" r="4.8"/>
<circle cx="980" cy="931" r="4.8"/>
<circle cx="985" cy="870" r="4.8"/>
<circle cx="939" cy="847" r="4.8"/>
<circle cx="980" cy="864" r="4.8"/>
<circle cx="1013" cy="944" r="4.8"/>
<circle cx="996" cy="977" r="4.8"/>
<circle cx="971" cy="902" r="4.8"/>
<circle cx="934" cy="815" r="4.8"/>
<circle cx="1019" cy="920" r="4.8"/>
<circle cx="897" cy="1022" r="4.8"/>
<circle cx="982" cy="950" r="4.8"/>
<circle cx="957" cy="830" r="4.8"/>
<circle cx="901" cy="920" r="4.8"/>
<circle cx="964" cy="859" r="4.8"/>
<circle cx="1042" cy="899" r="4.8"/>
<circle cx="1032" cy="1017" r="4.8"/>
<circle cx="888" cy="962" r="4.8"/>
<circle cx="933" cy="913" r="4.8"/>
<circle cx="933" cy="873" r="4.8"/>
<circle cx="903" cy="950" r="4.8"/>
<circle cx="895" cy="1031" r="4.8"/>
<circle cx="888" cy="1031" r="4.8"/>
<circle cx="914" cy="820" r="4.8"/>
<circle cx="1010" cy="927" r="4.8"/>
<circle cx="1015" cy="922" r="4.8"/>
<circle cx="990" cy="820" r="4.8"/>
<circle cx="998" cy="923" r="4.8"/>
<circle cx="1048" cy="801" r="4.8"/>
<circle cx="892" cy="962" r="4.8"/>
<circle cx="1042" cy="901" r="4.8"/>
<circle cx="1004" cy="935" r="4.8"/>
<circle cx="948" cy="912" r="4.8"/>
<circle cx="985" cy="807" r="4.8"/>
<circle cx="933" cy="977" r="4.8"/>
<circle cx="925" cy="914" r="4.8"/>
<circle cx="925" cy="886" r="4.8"/>
<circle cx="994" cy="978" r="4.8"/>
<circle cx="1047" cy="914" r="4.8"/>
<circle cx="915" cy="881" r="4.8"/>
<circle cx="982" cy="947" r="4.8"/>
<circle cx="922" cy="844" r="4.8"/>
<circle cx="968" cy="861" r="4.8"/>
<circle cx="1035" cy="936" r="4.8"/>
<circle cx="940" cy="903" r="4.8"/>
<circle cx="887" cy="976" r="4.8"/>
<circle cx="1011" cy="887" r="4.8"/>
<circle cx="1007" cy="865" r="4.8"/>
<circle cx="918" cy="855" r="4.8"/>
<circle cx="914" cy="945" r="4.8"/>
<circle cx="992" cy="975" r="4.8"/>
<circle cx="898" cy="984" r="4.8"/>
<circle cx="964" cy="891" r="4.8"/>
<circle cx="968" cy="904" r="4.8"/>
<circle cx="915" cy="895" r="4.8"/>
<circle cx="993" cy="972" r="4.8"/>
<circle cx="1040" cy="847" r="4.8"/>
<circle cx="1036" cy="992" r="4.8"/>
<circle cx="904" cy="986" r="4.8"/>
<circle cx="1037" cy="829" r="4.8"/>
<circle cx="931" cy="1005" r="4.8"/>
<circle cx="1039" cy="904" r="4.8"/>
<circle cx="905" cy="852" r="4.8"/>
<circle cx="1025" cy="901" r="4.8"/>
<circle cx="935" cy="906" r="4.8"/>
<circle cx="1042" cy="861" r="4.8"/>
<circle cx="883" cy="1028" r="4.8"/>
<circle cx="935" cy="893" r="4.8"/>
<circle cx="1051" cy="868" r="4.8"/>
<circle cx="895" cy="1013" r="4.8"/>
<circle cx="923" cy="853" r="4.8"/>
<circle cx="1044" cy="855" r="4.8"/>
<circle cx="1038" cy="880" r="4.8"/>
<circle cx="933" cy="852" r="4.8"/>
<circle cx="975" cy="934" r="4.8"/>
<circle cx="950" cy="922" r="4.8"/>
<circle cx="932" cy="1001" r="4.8"/>
<circle cx="1043" cy="981" r="4.8"/>
<circle cx="1023" cy="817" r="4.8"/>
<circle cx="924" cy="849" r="4.8"/>
<circle cx="907" cy="1032" r="4.8"/>
<circle cx="1038" cy="1019" r="4.8"/>
<circle cx="978" cy="828" r="4.8"/>
<circle cx="955" cy="813" r="4.8"/>
<circle cx="1038" cy="864" r="4.8"/>
<circle cx="930" cy="1027" r="4.8"/>
<circle cx="915" cy="1021" r="4.8"/>
<circle cx="934" cy="960" r="4.8"/>
<circle cx="899" cy="1016" r="4.8"/>
<circle cx="950" cy="883" r="4.8"/>
<circle cx="995" cy="942" r="4.8"/>
<circle cx="924" cy="830" r="4.8"/>
<circle cx="981" cy="806" r="4.8"/>
<circle cx="1033" cy="883" r="4.8"/>
<circle cx="910" cy="879" r="4.8"/>
<circle cx="900" cy="876" r="4.8"/>
<circle cx="975" cy="898" r="4.8"/>
<circle cx="938" cy="870" r="4.8"/>
<circle cx="965" cy="987" r="4.8"/>
<circle cx="957" cy="984" r="4.8"/>
<circle cx="964" cy="829" r="4.8"/>
<circle cx="910" cy="1003" r="4.8"/>
<circle cx="964" cy="892" r="4.8"/>
<circle cx="970" cy="1003" r="4.8"/>
<circle cx="946" cy="887" r="4.8"/>
<circle cx="944" cy="803" r="4.8"/>
<circle cx="975" cy="915" r="4.8"/>
<circle cx="967" cy="908" r="4.8"/>
<circle cx="963" cy="972" r="4.8"/>
<circle cx="913" cy="1036" r="4.8"/>
<circle cx="900" cy="1008" r="4.8"/>
<circle cx="911" cy="991" r="4.8"/>
<circle cx="926" cy="819" r="4.8"/>
<circle cx="975" cy="1001" r="4.8"/>
<circle cx="1028" cy="1010" r="4.8"/>
<circle cx="1051" cy="813" r="4.8"/>
<circle cx="946" cy="826" r="4.8"/>
<circle cx="1012" cy="908" r="4.8"/>
<circle cx="1010" cy="991" r="4.8"/>
<circle cx="1033" cy="932" r="4.8"/>
<circle cx="894" cy="1014" r="4.8"/>
<circle cx="1025" cy="867" r="4.8"/>
<circle cx="996" cy="807" r="4.8"/>
<circle cx="917" cy="972" r="4.8"/>
<circle cx="887" cy="923" r="4.8"/>
<circle cx="1044" cy="851" r="4.8"/>
<circle cx="1003" cy="979" r="4.8"/>
<circle cx="988" cy="984" r="4.8"/>
<circle cx="1002" cy="803" r="4.8"/>
<circle cx="914" cy="929" r="4.8"/>
<circle cx="1050" cy="852" r="4.8"/>
<circle cx="983" cy="831" r="4.8"/>
<circle cx="1028" cy="907" r="4.8"/>
<circle cx="971" cy="961" r="4.8"/>
<circle cx="904" cy="975" r="4.8"/>
<circle cx="1020" cy="1006" r="4.8"/>
<circle cx="929" cy="856" r="4.8"/>
<circle cx="909" cy="1016" r="4.8"/>
<circle cx="957" cy="894" r="4.8"/>
<circle cx="971" cy="968" r="4.8"/>
<circle cx="936" cy="881" r="4.8"/>
<circle cx="1014" cy="986" r="4.8"/>
<circle cx="932" cy="818" r="4.8"/>
<circle cx="1042" cy="975" r="4.8"/>
<circle cx="984" cy="897" r="4.8"/>
<circle cx="1048" cy="903" r="4.8"/>
<circle cx="918" cy="824" r="4.8"/>
<circle cx="941" cy="944" r="4.8"/>
<circle cx="944" cy="1027" r="4.8"/>
<circle cx="994" cy="910" r="4.8"/>
<circle cx="996" cy="944" r="4.8"/>
<circle cx="988" cy="919" r="4.8"/>
<circle cx="972" cy="918" r="4.8"/>
<circle cx="1025" cy="846" r="4.8"/>
<circle cx="1017" cy="872" r="4.8"/>
<circle cx="1029" cy="817" r="4.8"/>
<circle cx="965" cy="906" r="4.8"/>
<circle cx="1005" cy="849" r="4.8"/>
<circle cx="926" cy="832" r="4.8"/>
<circle cx="978" cy="938" r="4.8"/>
<circle cx="915" cy="1030" r="4.8"/>
<circle cx="960" cy="936" r="4.8"/>
<circle cx="931" cy="958" r="4.8"/>
<circle cx="1022" cy="961" r="4.8"/>
<circle cx="966" cy="811" r="4.8"/>
<circle cx="1018" cy="877" r="4.8"/>
<circle cx="931" cy="950" r="4.8"/>
<circle cx="982" cy="919" r="4.8"/>
<circle cx="1030" cy="925" r="4.8"/>
<circle cx="940" cy="815" r="4.8"/>
<circle cx="977" cy="887" r="4.8"/>
<circle cx="974" cy="883" r="4.8"/>
<circle cx="1029" cy="939" r="4.8"/>
<circle cx="922" cy="971" r="4.8"/>
<circle cx="991" cy="815" r="4.8"/>
<circle cx="1011" cy="855" r="4.8"/>
<circle cx="930" cy="860" r="4.8"/>
<circle cx="1031" cy="996" r="4.8"/>
<circle cx="981" cy="836" r="4.8"/>
<circle cx="955" cy="968" r="4.8"/>
<circle cx="890" cy="1021" r="4.8"/>
<circle cx="1027" cy="1024" r="4.8"/>
<circle cx="1002" cy="948" r="4.8"/>
<circle cx="1051" cy="864" r="4.8"/>
<circle cx="933" cy="830" r="4.8"/>
<circle cx="912" cy="992" r="4.8"/>
<circle cx="897" cy="979" r="4.8"/>
<circle cx="949" cy="1011" r="4.8"/>
<circle cx="1013" cy="965" r="4.8"/>
<circle cx="1028" cy="810" r="4.8"/>
<circle cx="926" cy="888" r="4.8"/>
<circle cx="955" cy="961" r="4.8"/>
<circle cx="1034" cy="978" r="4.8"/>
<circle cx="1043" cy="967" r="4.8"/>
<circle cx="942" cy="922" r="4.8"/>
<circle cx="1011" cy="996" r="4.8"/>
<circle cx="945" cy="885" r="4.8"/>
<circle cx="988" cy="855" r="4.8"/>
<circle cx="1035" cy="800" r="4.8"/>
<circle cx="994" cy="917" r="4.8"/>
<circle cx="914" cy="937" r="4.8"/>
<circle cx="1035" cy="941" r="4.8"/>
<circle cx="1032" cy="1012" r="4.8"/>
<circle cx="909" cy="999" r="4.8"/>
<circle cx="1013" cy="894" r="4.8"/>
<circle cx="916" cy="957" r="4.8"/>
<circle cx="917" cy="982" r="4.8"/>
<circle cx="981" cy="998" r="4.8"/>
<circle cx="942" cy="873" r="4.8"/>
<circle cx="1038" cy="959" r="4.8"/>
<circle cx="946" cy="935" r="4.8"/>
<circle cx="956" cy="954" r="4.8"/>
<circle cx="970" cy="869" r="4.8"/>
<circle cx="1013" cy="867" r="4.8"/>
<circle cx="914" cy="975" r="4.8"/>
<circle cx="1024" cy="957" r="4.8"/>
<circle cx="917" cy="973" r="4.8"/>
<circle cx="972" cy="890" r="4.8"/>
<circle cx="983" cy="908" r="4.8"/>
<circle cx="994" cy="980" r="4.8"/>
<circle cx="1052" cy="827" r="4.8"/>
<circle cx="995" cy="939" r="4.8"/>
<circle cx="1029" cy="808" r="4.8"/>
<circle cx="1019" cy="950" r="4.8"/>
<circle cx="982" cy="875" r="4.8"/>
<circle cx="988" cy="830" r="4.8"/>
<circle cx="972" cy="862" r="4.8"/>
<circle cx="1043" cy="993" r="4.8"/>
<circle cx="963" cy="981" r="4.8"/>
<circle cx="947" cy="926" r="4.8"/>
<circle cx="908" cy="1006" r="4.8"/>
<circle cx="1014" cy="982" r="4.8"/>
<circle cx="895" cy="997" r="4.8"/>
<circle cx="965" cy="814" r="4.8"/>
<circle cx="954" cy="1013" r="4.8"/>
<circle cx="989" cy="875" r="4.8"/>
<circle cx="1023" cy="885" r="4.8"/>
<circle cx="1037" cy="896" r="4.8"/>
<circle cx="894" cy="1033" r="4.8"/>
<circle cx="1015" cy="828" r="4.8"/>
<circle cx="975" cy="1006" r="4.8"/>
<circle cx="983" cy="884" r="4.8"/>
<circle cx="1013" cy="998" r="4.8"/>
<circle cx="981" cy="950" r="4.8"/>
<circle cx="936" cy="898" r="4.8"/>
<circle cx="919" cy="990" r="4.8"/>
<circle cx="915" cy="841" r="4.8"/>
<circle cx="1014" cy="841" r="4.8"/>
<circle cx="1051" cy="909" r="4.8"/>
<circle cx="1037" cy="997" r="4.8"/>
<circle cx="916" cy="989" r="4.8"/>
<circle cx="953" cy="853" r="4.8"/>
<circle cx="888" cy="969" r="4.8"/>
<circle cx="978" cy="873" r="4.8"/>
<circle cx="1026" cy="847" r="4.8"/>
<circle cx="958" cy="821" r="4.8"/>
<circle cx="941" cy="1012" r="4.8"/>
<circle cx="968" cy="837" r="4.8"/>
<circle cx="921" cy="955" r="4.8"/>
<circle cx="929" cy="1013" r="4.8"/>
<circle cx="891" cy="1009" r="4.8"/>
<circle cx="989" cy="997" r="4.8"/>
<circle cx="942" cy="817" r="4.8"/>
<circle cx="910" cy="950" r="4.8"/>
<circle cx="1017" cy="1011" r="4.8"/>
<circle cx="1030" cy="1001" r="4.8"/>
<circle cx="977" cy="1010" r="4.8"/>
<circle cx="1002" cy="934" r="4.8"/>
<circle cx="954" cy="806" r="4.8"/>
<circle cx="961" cy="829" r="4.8"/>
<circle cx="1050" cy="938" r="4.8"/>
<circle cx="1010" cy="1014" r="4.8"/>
<circle cx="920" cy="1013" r="4.8"/>
<circle cx="1048" cy="864" r="4.8"/>
<circle cx="902" cy="992" r="4.8"/>
<circle cx="1036" cy="992" r="4.8"/>
<circle cx="951" cy="945" r="4.8"/>
<circle cx="900" cy="856" r="4.8"/>
<circle cx="953" cy="979" r="4.8"/>
<circle cx="896" cy="1023" r="4.8"/>
<circle cx="885" cy="1033" r="4.8"/>
<circle cx="921" cy="997" r="4.8"/>
<circle cx="1023" cy="1029" r="4.8"/>
<circle cx="962" cy="968" r="4.8"/>
<circle cx="931" cy="1000" r="4.8"/>
<circle cx="899" cy="1012" r="4.8"/>
<circle cx="984" cy="815" r="4.8"/>
<circle cx="1045" cy="876" r="4.8"/>
<circle cx="990" cy="1005" r="4.8"/>
<circle cx="1024" cy="972" r="4.8"/>
<circle cx="947" cy="860" r="4.8"/>
<circle cx="907" cy="931" r="4.8"/>
<circle cx="916" cy="978" r="4.8"/>
<circle cx="936" cy="939" r="4.8"/>
<circle cx="976" cy="951" r="4.8"/>
<circle cx="907" cy="862" r="4.8"/>
<circle cx="1001" cy="851" r="4.8"/>
<circle cx="972" cy="981" r="4.8"/>
<circle cx="999" cy="847" r="4.8"/>
<circle cx="971" cy="939" r="4.8"/>
<circle cx="961" cy="958" r="4.8"/>
<circle cx="1039" cy="991" r="4.8"/>
<circle cx="1022" cy="834" r="4.8"/>
<circle cx="1003" cy="951" r="4.8"/>
<circle cx="1044" cy="801" r="4.8"/>
<circle cx="910" cy="1034" r="4.8"/>
<circle cx="945" cy="969" r="4.8"/>
<circle cx="984" cy="896" r="4.8"/>
<circle cx="957" cy="935" r="4.8"/>
<circle cx="1018" cy="873" r="4.8"/>
<circle cx="1005" cy="945" r="4.8"/>
<circle cx="1010" cy="1011" r="4.8"/>
<circle cx="894" cy="1032" r="4.8"/>
<circle cx="987" cy="862" r="4.8"/>
<circle cx="961" cy="823" r="4.8"/>
<circle cx="920" cy="1001" r="4.8"/>
<circle cx="1004" cy="1008" r="4.8"/>
<circle cx="982" cy="1487" r="4.8"/>
<circle cx="1011" cy="1547" r="4.8"/>
<circle cx="1056" cy="1516" r="4.8"/>
<circle cx="1060" cy="1561" r="4.8"/>
<circle cx="999" cy="1592" r="4.8"/>
<circle cx="1025" cy="1551" r="4.8"/>
<circle cx="1043" cy="1528" r="4.8"/>
<circle cx="1085" cy="1592" r="4.8"/>
<circle cx="974" cy="1498" r="4.8"/>
<circle cx="1055" cy="1497" r="4.8"/>
<circle cx="1010" cy="1575" r="4.8"/>
<circle cx="1008" cy="1571" r="4.8"/>
<circle cx="1088" cy="1593" r="4.8"/>
<circle cx="1045" cy="1567" r="4.8"/>
<circle cx="1002" cy="1569" r="4.8"/>
<circle cx="1048" cy="1561" r="4.8"/>
<circle cx="1026" cy="1586" r="4.8"/>
<circle cx="988" cy="1581" r="4.8"/>
<circle cx="1038" cy="1481" r="4.8"/>
<circle cx="978" cy="1532" r="4.8"/>
<circle cx="973" cy="1481" r="4.8"/>
<circle cx="993" cy="1520" r="4.8"/>
<circle cx="1020" cy="1556" r="4.8"/>
<circle cx="1006" cy="1544" r="4.8"/>
<circle cx="1071" cy="1528" r="4.8"/>
<circle cx="1005" cy="1486" r="4.8"/>
<circle cx="1078" cy="1539" r="4.8"/>
<circle cx="1006" cy="1497" r="4.8"/>
<circle cx="978" cy="1556" r="4.8"/>
<circle cx="1044" cy="1551" r="4.8"/>
<circle cx="1028" cy="1532" r="4.8"/>
<circle cx="1081" cy="1557" r="4.8"/>
<circle cx="987" cy="1496" r="4.8"/>
<circle cx="1044" cy="1599" r="4.8"/>
<circle cx="1037" cy="1487" r="4.8"/>
<circle cx="1067" cy="1587" r="4.8"/>
<circle cx="1001" cy="1591" r="4.8"/>
<circle cx="1076" cy="1603" r="4.8"/>
<circle cx="1055" cy="1500" r="4.8"/>
<circle cx="1053" cy="1560" r="4.8"/>
<circle cx="1025" cy="1558" r="4.8"/>
<circle cx="1001" cy="1501" r="4.8"/>
<circle cx="1029" cy="1575" r="4.8"/>
<circle cx="1006" cy="1493" r="4.8"/>
<circle cx="1005" cy="1599" r="4.8"/>
<circle cx="984" cy="1539" r="4.8"/>
<circle cx="977" cy="1493" r="4.8"/>
<circle cx="1031" cy="1527" r="4.8"/>
<circle cx="1033" cy="1504" r="4.8"/>
<circle cx="1002" cy="1520" r="4.8"/>
<circle cx="1016" cy="1602" r="4.8"/>
<circle cx="1037" cy="1510" r="4.8"/>
<circle cx="1019" cy="1603" r="4.8"/>
<circle cx="998" cy="1514" r="4.8"/>
<circle cx="980" cy="1563" r="4.8"/>
<circle cx="1075" cy="1540" r="4.8"/>
<circle cx="997" cy="1567" r="4.8"/>
<circle cx="992" cy="1528" r="4.8"/>
<circle cx="1028" cy="1512" r="4.8"/>
<circle cx="1049" cy="1510" r="4.8"/>
<circle cx="990" cy="1482" r="4.8"/>
<circle cx="977" cy="1503" r="4.8"/>
<circle cx="1079" cy="1535" r="4.8"/>
<circle cx="1090" cy="1589" r="4.8"/>
<circle cx="992" cy="1521" r="4.8"/>
<circle cx="1028" cy="1510" r="4.8"/>
<circle cx="1007" cy="1503" r="4.8"/>
<circle cx="993" cy="1586" r="4.8"/>
<circle cx="1041" cy="1539" r="4.8"/>
<circle cx="1024" cy="1565" r="4.8"/>
<circle cx="1074" cy="1542" r="4.8"/>
<circle cx="1062" cy="1524" r="4.8"/>
<circle cx="1019" cy="1528" r="4.8"/>
<circle cx="994" cy="1588" r="4.8"/>
<circle cx="1031" cy="1515" r="4.8"/>
<circle cx="1072" cy="1539" r="4.8"/>
<circle cx="971" cy="1513" r="4.8"/>
<circle cx="1048" cy="1494" r="4.8"/>
<circle cx="992" cy="1502" r="4.8"/>
<circle cx="1010" cy="1569" r="4.8"/>
<circle cx="1017" cy="1572" r="4.8"/>
<circle cx="1072" cy="1532" r="4.8"/>
<circle cx="1041" cy="1512" r="4.8"/>
<circle cx="1021" cy="1568" r="4.8"/>
<circle cx="1028" cy="1498" r="4.8"/>
<circle cx="1007" cy="1500" r="4.8"/>
<circle cx="998" cy="1551" r="4.8"/>
<circle cx="1014" cy="1524" r="4.8"/>
<circle cx="1004" cy="1504" r="4.8"/>
<circle cx="1028" cy="1563" r="4.8"/>
<circle cx="1054" cy="1524" r="4.8"/>
<circle cx="1083" cy="1592" r="4.8"/>
<circle cx="1046" cy="1622" r="4.8"/>
<circle cx="1035" cy="1575" r="4.8"/>
<circle cx="1048" cy="1603" r="4.8"/>
<circle cx="988" cy="1555" r="4.8"/>
<circle cx="1040" cy="1525" r="4.8"/>
<circle cx="1076" cy="1602" r="4.8"/>
<circle cx="1053" cy="1553" r="4.8"/>
<circle cx="1054" cy="1500" r="4.8"/>
<circle cx="1082" cy="1567" r="4.8"/>
<circle cx="997" cy="1500" r="4.8"/>
<circle cx="1041" cy="1542" r="4.8"/>
<circle cx="1078" cy="1536" r="4.8"/>
<circle cx="1019" cy="1584" r="4.8"/>
<circle cx="1042" cy="1539" r="4.8"/>
<circle cx="1000" cy="1542" r="4.8"/>
<circle cx="1010" cy="1552" r="4.8"/>
<circle cx="1039" cy="1581" r="4.8"/>
<circle cx="1003" cy="1589" r="4.8"/>
<circle cx="1002" cy="1567" r="4.8"/>
<circle cx="1001" cy="1586" r="4.8"/>
<circle cx="1011" cy="1563" r="4.8"/>
<circle cx="1003" cy="1599" r="4.8"/>
<circle cx="992" cy="1500" r="4.8"/>
<circle cx="1065" cy="1516" r="4.8"/>
<circle cx="1066" cy="1549" r="4.8"/>
<circle cx="1024" cy="1489" r="4.8"/>
<circle cx="1048" cy="1579" r="4.8"/>
<circle cx="999" cy="1477" r="4.8"/>
<circle cx="972" cy="1510" r="4.8"/>
<circle cx="1081" cy="1586" r="4.8"/>
<circle cx="978" cy="1530" r="4.8"/>
<circle cx="1088" cy="1602" r="4.8"/>
<circle cx="1094" cy="1597" r="4.8"/>
<circle cx="1056" cy="1588" r="4.8"/>
<circle cx="1084" cy="1537" r="4.8"/>
<circle cx="1040" cy="1513" r="4.8"/>
<circle cx="993" cy="1485" r="4.8"/>
<circle cx="1008" cy="1550" r="4.8"/>
<circle cx="1040" cy="1616" r="4.8"/>
<circle cx="970" cy="1510" r="4.8"/>
</g>
<g fill="#ffff00"><circle cx="1118" cy="676" r="4.8"/><circle cx="1201" cy="767" r="4.8"/><circle cx="1255" cy="836" r="4.8"/><circle cx="1314" cy="884" r="4.8"/><circle cx="1368" cy="889" r="4.8"/><circle cx="1126" cy="1406" r="4.8"/><circle cx="1104" cy="1494" r="4.8"/><circle cx="1145" cy="1498" r="4.8"/><circle cx="1549" cy="1213" r="4.8"/></g>
</g>
<line x1="412.2" y1="77.0" x2="1847.7" y2="1334.6" stroke="#000" stroke-width="4.6" stroke-dasharray="29.8 20.45" stroke-dashoffset="0"/>
<line x1="666.1" y1="77.0" x2="1563.3" y2="1649.0" stroke="#000" stroke-width="4.6" stroke-dasharray="5.5 10.7" stroke-dashoffset="1.5"/>
<line x1="277.6" y1="339.1" x2="1025.2" y2="1649.0" stroke="#000" stroke-width="4.6" stroke-dasharray="5.5 10.7" stroke-dashoffset="1.5"/>
<text font-family="'Liberation Serif', 'DejaVu Serif', serif" stroke="#fff" stroke-width="1.2" fill="#000"><tspan x="771.9" y="237.2" font-size="78.2" textLength="51.7" lengthAdjust="spacingAndGlyphs">M</tspan><tspan x="824.6" y="255.0" font-size="42.6" textLength="24.8" lengthAdjust="spacingAndGlyphs" font-family="'Liberation Sans', 'DejaVu Sans', sans-serif" font-weight="bold" stroke="#000" stroke-width="2.2" stroke-linejoin="round">V</tspan><tspan x="851.8" y="241.6" font-size="78.2" textLength="52.9" lengthAdjust="spacingAndGlyphs">=</tspan><tspan x="908.8" y="239.7" font-size="78.2" textLength="49.2" lengthAdjust="spacingAndGlyphs">−</tspan><tspan x="963.2" y="237.2" font-size="78.2" textLength="44.6" lengthAdjust="spacingAndGlyphs">2</tspan><tspan x="1012.5" y="237.6" font-size="78.2" textLength="31.6" lengthAdjust="spacingAndGlyphs">1</tspan><tspan x="1050.7" y="237.0" font-size="78.2" textLength="19.1" lengthAdjust="spacingAndGlyphs">.</tspan><tspan x="1068.5" y="236.4" font-size="77.0" textLength="44.6" lengthAdjust="spacingAndGlyphs">5</tspan></text>
<text font-family="'Liberation Serif', 'DejaVu Serif', serif" stroke="#fff" stroke-width="1.2" fill="#000"><tspan x="637.2" y="1572.8" font-size="78.8" textLength="52.3" lengthAdjust="spacingAndGlyphs">M</tspan><tspan x="689.4" y="1590.8" font-size="41.9" textLength="25.0" lengthAdjust="spacingAndGlyphs" font-family="'Liberation Sans', 'DejaVu Sans', sans-serif" font-weight="bold" stroke="#000" stroke-width="2.2" stroke-linejoin="round">V</tspan><tspan x="717.0" y="1576.9" font-size="77.6" textLength="52.7" lengthAdjust="spacingAndGlyphs">=</tspan><tspan x="774.2" y="1576.0" font-size="77.6" textLength="49.1" lengthAdjust="spacingAndGlyphs">−</tspan><tspan x="832.2" y="1572.8" font-size="77.6" textLength="34.3" lengthAdjust="spacingAndGlyphs">1</tspan><tspan x="869.9" y="1572.0" font-size="77.6" textLength="44.9" lengthAdjust="spacingAndGlyphs">5</tspan><tspan x="915.5" y="1572.8" font-size="77.6" textLength="20.5" lengthAdjust="spacingAndGlyphs">.</tspan><tspan x="934.7" y="1572.0" font-size="77.6" textLength="46.1" lengthAdjust="spacingAndGlyphs">5</tspan></text>
<g shape-rendering="crispEdges">
<g fill="#ff0000">
<circle cx="501" cy="414" r="21.7"/>
<circle cx="501" cy="643" r="21.7"/>
<circle cx="553" cy="326" r="21.7"/>
<circle cx="553" cy="549" r="21.7"/>
<circle cx="604" cy="326" r="21.7"/>
<rect x="582.3" y="436" width="43.4" height="49"/><circle cx="604" cy="436" r="21.7"/><circle cx="604" cy="485" r="21.7"/>
<circle cx="604" cy="562" r="21.7"/>
<circle cx="604" cy="853" r="21.7"/>
<circle cx="655" cy="457" r="21.7"/>
<circle cx="655" cy="504" r="21.7"/>
<circle cx="655" cy="554" r="21.7"/>
<circle cx="655" cy="673" r="21.7"/>
<circle cx="708" cy="694" r="21.7"/>
<circle cx="708" cy="880" r="21.7"/>
<circle cx="708" cy="1021" r="21.7"/>
<circle cx="708" cy="1078" r="21.7"/>
<rect x="738.3" y="468" width="43.4" height="28"/><circle cx="760" cy="468" r="21.7"/><circle cx="760" cy="496" r="21.7"/>
<circle cx="760" cy="676" r="21.7"/>
<rect x="738.3" y="753" width="43.4" height="9"/><circle cx="760" cy="753" r="21.7"/><circle cx="760" cy="762" r="21.7"/>
<rect x="738.3" y="945" width="43.4" height="13"/><circle cx="760" cy="945" r="21.7"/><circle cx="760" cy="958" r="21.7"/>
<rect x="738.3" y="1064" width="43.4" height="32"/><circle cx="760" cy="1064" r="21.7"/><circle cx="760" cy="1096" r="21.7"/>
<rect x="789.3" y="602" width="43.4" height="42"/><circle cx="811" cy="602" r="21.7"/><circle cx="811" cy="644" r="21.7"/>
<circle cx="811" cy="770" r="21.7"/>
<rect x="789.3" y="931" width="43.4" height="16"/><circle cx="811" cy="931" r="21.7"/><circle cx="811" cy="947" r="21.7"/>
<circle cx="811" cy="1036" r="21.7"/>
<circle cx="862" cy="560" r="21.7"/>
<circle cx="862" cy="684" r="21.7"/>
<rect x="840.3" y="757" width="43.4" height="26"/><circle cx="862" cy="757" r="21.7"/><circle cx="862" cy="783" r="21.7"/>
<rect x="840.3" y="918" width="43.4" height="13"/><circle cx="862" cy="918" r="21.7"/><circle cx="862" cy="931" r="21.7"/>
<rect x="840.3" y="1018" width="43.4" height="23"/><circle cx="862" cy="1018" r="21.7"/><circle cx="862" cy="1041" r="21.7"/>
<rect x="840.3" y="1250" width="43.4" height="18"/><circle cx="862" cy="1250" r="21.7"/><circle cx="862" cy="1268" r="21.7"/>
<circle cx="913" cy="555" r="21.7"/>
<circle cx="913" cy="711" r="21.7"/>
<circle cx="913" cy="847" r="21.7"/>
<circle cx="913" cy="923" r="21.7"/>
<circle cx="913" cy="1133" r="21.7"/>
<circle cx="913" cy="1424" r="21.7"/>
<circle cx="965" cy="634" r="21.7"/>
<circle cx="965" cy="692" r="21.7"/>
<circle cx="965" cy="791" r="21.7"/>
<circle cx="965" cy="1031" r="21.7"/>
<circle cx="965" cy="1182" r="21.7"/>
<circle cx="965" cy="1435" r="21.7"/>
<circle cx="965" cy="1479" r="21.7"/>
<circle cx="965" cy="1524" r="21.7"/>
<rect x="996.3" y="692" width="43.4" height="72"/><circle cx="1018" cy="692" r="21.7"/><circle cx="1018" cy="764" r="21.7"/>
<circle cx="1018" cy="808" r="21.7"/>
<circle cx="1018" cy="861" r="21.7"/>
<rect x="996.3" y="938" width="43.4" height="60"/><circle cx="1018" cy="938" r="21.7"/><circle cx="1018" cy="998" r="21.7"/>
<circle cx="1018" cy="1065" r="21.7"/>
<circle cx="1018" cy="1213" r="21.7"/>
<circle cx="1018" cy="1259" r="21.7"/>
<rect x="996.3" y="1403" width="43.4" height="77"/><circle cx="1018" cy="1403" r="21.7"/><circle cx="1018" cy="1480" r="21.7"/>
<rect x="1047.3" y="751" width="43.4" height="14"/><circle cx="1069" cy="751" r="21.7"/><circle cx="1069" cy="765" r="21.7"/>
<circle cx="1069" cy="899" r="21.7"/>
<circle cx="1069" cy="975" r="21.7"/>
<rect x="1047.3" y="1088" width="43.4" height="81"/><circle cx="1069" cy="1088" r="21.7"/><circle cx="1069" cy="1169" r="21.7"/>
<rect x="1047.3" y="1222" width="43.4" height="37"/><circle cx="1069" cy="1222" r="21.7"/><circle cx="1069" cy="1259" r="21.7"/>
<circle cx="1069" cy="1312" r="21.7"/>
<circle cx="1069" cy="1376" r="21.7"/>
<rect x="1047.3" y="1451" width="43.4" height="45"/><circle cx="1069" cy="1451" r="21.7"/><circle cx="1069" cy="1496" r="21.7"/>
<circle cx="1069" cy="1591" r="21.7"/>
<circle cx="1120" cy="711" r="21.7"/>
<circle cx="1120" cy="778" r="21.7"/>
<circle cx="1120" cy="841" r="21.7"/>
<rect x="1098.3" y="908" width="43.4" height="24"/><circle cx="1120" cy="908" r="21.7"/><circle cx="1120" cy="932" r="21.7"/>
<rect x="1098.3" y="982" width="43.4" height="69"/><circle cx="1120" cy="982" r="21.7"/><circle cx="1120" cy="1051" r="21.7"/>
<rect x="1098.3" y="1109" width="43.4" height="17"/><circle cx="1120" cy="1109" r="21.7"/><circle cx="1120" cy="1126" r="21.7"/>
<circle cx="1120" cy="1265" r="21.7"/>
<rect x="1098.3" y="1324" width="43.4" height="33"/><circle cx="1120" cy="1324" r="21.7"/><circle cx="1120" cy="1357" r="21.7"/>
<rect x="1098.3" y="1554" width="43.4" height="13"/><circle cx="1120" cy="1554" r="21.7"/><circle cx="1120" cy="1567" r="21.7"/>
<rect x="1150.3" y="751" width="43.4" height="49"/><circle cx="1172" cy="751" r="21.7"/><circle cx="1172" cy="800" r="21.7"/>
<rect x="1150.3" y="888" width="43.4" height="76"/><circle cx="1172" cy="888" r="21.7"/><circle cx="1172" cy="964" r="21.7"/>
<rect x="1150.3" y="1075" width="43.4" height="60"/><circle cx="1172" cy="1075" r="21.7"/><circle cx="1172" cy="1135" r="21.7"/>
</g>
<g fill="#1ccc1c">
<circle cx="1217" cy="814" r="21.7"/>
<rect x="1260.3" y="843" width="43.4" height="37"/><circle cx="1282" cy="843" r="21.7"/><circle cx="1282" cy="880" r="21.7"/>
<circle cx="1347" cy="910" r="21.7"/>
<rect x="1325.3" y="980" width="43.4" height="65"/><circle cx="1347" cy="980" r="21.7"/><circle cx="1347" cy="1045" r="21.7"/>
<rect x="1390.3" y="997" width="43.4" height="107"/><circle cx="1412" cy="997" r="21.7"/><circle cx="1412" cy="1104" r="21.7"/>
<circle cx="1412" cy="1172" r="21.7"/>
<rect x="1454.3" y="1031" width="43.4" height="33"/><circle cx="1476" cy="1031" r="21.7"/><circle cx="1476" cy="1064" r="21.7"/>
<rect x="1454.3" y="1108" width="43.4" height="166"/><circle cx="1476" cy="1108" r="21.7"/><circle cx="1476" cy="1274" r="21.7"/>
<rect x="1521.3" y="1071" width="43.4" height="114"/><circle cx="1543" cy="1071" r="21.7"/><circle cx="1543" cy="1185" r="21.7"/>
<rect x="1521.3" y="1238" width="43.4" height="162"/><circle cx="1543" cy="1238" r="21.7"/><circle cx="1543" cy="1400" r="21.7"/>
<rect x="1586.3" y="1125" width="43.4" height="393"/><circle cx="1608" cy="1125" r="21.7"/><circle cx="1608" cy="1518" r="21.7"/>
<rect x="1651.3" y="1502" width="43.4" height="126"/><circle cx="1673" cy="1502" r="21.7"/><circle cx="1673" cy="1628" r="21.7"/>
</g>
</g>
<rect x="277" y="77" width="1572" height="1572" fill="none" stroke="#000" stroke-width="2.5"/>
<path d="M367.3 1649V1624M367.3 77V102M457.0 1649V1624M457.0 77V102M546.8 1649V1624M546.8 77V102M636.5 1649V1624M636.5 77V102M726.2 1649V1602.5M726.2 77V123.5M815.9 1649V1624M815.9 77V102M905.6 1649V1624M905.6 77V102M995.4 1649V1624M995.4 77V102M1085.1 1649V1624M1085.1 77V102M1174.8 1649V1602.5M1174.8 77V123.5M1264.5 1649V1624M1264.5 77V102M1354.2 1649V1624M1354.2 77V102M1444.0 1649V1624M1444.0 77V102M1533.7 1649V1624M1533.7 77V102M1623.4 1649V1602.5M1623.4 77V123.5M1713.1 1649V1624M1713.1 77V102M1802.8 1649V1624M1802.8 77V102M277 1570.4H302M1849 1570.4H1824M277 1491.8H302M1849 1491.8H1824M277 1413.2H302M1849 1413.2H1824M277 1334.6H302M1849 1334.6H1824M277 1256.0H323.5M1849 1256.0H1802.5M277 1177.4H302M1849 1177.4H1824M277 1098.8H302M1849 1098.8H1824M277 1020.2H302M1849 1020.2H1824M277 941.6H302M1849 941.6H1824M277 863.0H323.5M1849 863.0H1802.5M277 784.4H302M1849 784.4H1824M277 705.8H302M1849 705.8H1824M277 627.2H302M1849 627.2H1824M277 548.6H302M1849 548.6H1824M277 470.0H323.5M1849 470.0H1802.5M277 391.4H302M1849 391.4H1824M277 312.8H302M1849 312.8H1824M277 234.2H302M1849 234.2H1824M277 155.6H302M1849 155.6H1824" stroke="#000" stroke-width="2.4" fill="none"/>
<text font-family="'Liberation Serif', 'DejaVu Serif', serif" stroke="#fff" stroke-width="1.2" fill="#000"><tspan x="195.3" y="102.7" font-size="75.1" textLength="41.3" lengthAdjust="spacingAndGlyphs">4</tspan></text>
<text font-family="'Liberation Serif', 'DejaVu Serif', serif" stroke="#fff" stroke-width="1.2" fill="#000"><tspan x="192.7" y="494.8" font-size="77.7" textLength="46.1" lengthAdjust="spacingAndGlyphs">3</tspan></text>
<text font-family="'Liberation Serif', 'DejaVu Serif', serif" stroke="#fff" stroke-width="1.2" fill="#000"><tspan x="193.4" y="888.9" font-size="79.5" textLength="47.3" lengthAdjust="spacingAndGlyphs">2</tspan></text>
<text font-family="'Liberation Serif', 'DejaVu Serif', serif" stroke="#fff" stroke-width="1.2" fill="#000"><tspan x="199.8" y="1278.9" font-size="73.8" textLength="30.9" lengthAdjust="spacingAndGlyphs">1</tspan></text>
<text font-family="'Liberation Serif', 'DejaVu Serif', serif" stroke="#fff" stroke-width="1.2" fill="#000"><tspan x="193.6" y="1673.3" font-size="76.6" textLength="45.0" lengthAdjust="spacingAndGlyphs">0</tspan></text>
<text font-family="'Liberation Serif', 'DejaVu Serif', serif" stroke="#fff" stroke-width="1.2" fill="#000"><tspan x="255.6" y="1736.4" font-size="77.7" textLength="44.4" lengthAdjust="spacingAndGlyphs">2</tspan></text>
<text font-family="'Liberation Serif', 'DejaVu Serif', serif" stroke="#fff" stroke-width="1.2" fill="#000"><tspan x="703.9" y="1735.6" font-size="76.5" textLength="43.3" lengthAdjust="spacingAndGlyphs">3</tspan></text>
<text font-family="'Liberation Serif', 'DejaVu Serif', serif" stroke="#fff" stroke-width="1.2" fill="#000"><tspan x="1154.2" y="1734.2" font-size="75.7" textLength="40.7" lengthAdjust="spacingAndGlyphs">4</tspan></text>
<text font-family="'Liberation Serif', 'DejaVu Serif', serif" stroke="#fff" stroke-width="1.2" fill="#000"><tspan x="1598.3" y="1733.5" font-size="74.5" textLength="47.1" lengthAdjust="spacingAndGlyphs">5</tspan></text>
<text font-family="'Liberation Sans', 'DejaVu Sans', sans-serif" stroke="#fff" stroke-width="1.8" fill="#ff0000"><tspan x="1400.4" y="276.4" font-size="71.7" textLength="40.4" lengthAdjust="spacingAndGlyphs">0</tspan><tspan x="1443.2" y="269.3" font-size="67.4" textLength="50.1" lengthAdjust="spacingAndGlyphs">≦</tspan><tspan x="1496.5" y="276.4" font-size="68.7" textLength="40.6" lengthAdjust="spacingAndGlyphs" font-family="'Liberation Sans', 'DejaVu Sans', sans-serif" font-style="italic">β</tspan><tspan x="1539.6" y="269.3" font-size="67.4" textLength="51.2" lengthAdjust="spacingAndGlyphs">≦</tspan><tspan x="1590.5" y="277.1" font-size="72.7" textLength="43.3" lengthAdjust="spacingAndGlyphs">2</tspan><tspan x="1634.6" y="276.4" font-size="71.7" textLength="40.4" lengthAdjust="spacingAndGlyphs">0</tspan></text>
<text font-family="'Liberation Sans', 'DejaVu Sans', sans-serif" stroke="#fff" stroke-width="1.8" fill="#1ccc1c"><tspan x="1358.8" y="375.4" font-size="71.4" textLength="48.2" lengthAdjust="spacingAndGlyphs">−</tspan><tspan x="1417.6" y="373.4" font-size="71.4" textLength="28.5" lengthAdjust="spacingAndGlyphs">1</tspan><tspan x="1454.6" y="373.4" font-size="71.4" textLength="40.4" lengthAdjust="spacingAndGlyphs">0</tspan><tspan x="1497.4" y="366.6" font-size="67.5" textLength="50.1" lengthAdjust="spacingAndGlyphs">≦</tspan><tspan x="1550.7" y="373.0" font-size="68.0" textLength="39.6" lengthAdjust="spacingAndGlyphs" font-family="'Liberation Sans', 'DejaVu Sans', sans-serif" font-style="italic">β</tspan><tspan x="1593.9" y="366.6" font-size="67.5" textLength="50.0" lengthAdjust="spacingAndGlyphs">≦</tspan><tspan x="1645.5" y="373.4" font-size="71.4" textLength="42.5" lengthAdjust="spacingAndGlyphs">0</tspan></text>
<text font-family="'Liberation Serif', 'DejaVu Serif', serif" stroke="#fff" stroke-width="1.2" fill="#000"><tspan x="806.6" y="1860.0" font-size="94.4" textLength="24.7" lengthAdjust="spacingAndGlyphs">l</tspan><tspan x="836.7" y="1858.4" font-size="91.5" textLength="54.0" lengthAdjust="spacingAndGlyphs">o</tspan><tspan x="893.6" y="1861.1" font-size="94.4" textLength="51.5" lengthAdjust="spacingAndGlyphs">g</tspan><tspan x="953.6" y="1856.6" font-size="106.9" textLength="29.9" lengthAdjust="spacingAndGlyphs">(</tspan><tspan x="991.5" y="1857.9" font-size="98.3" textLength="56.3" lengthAdjust="spacingAndGlyphs">R</tspan><tspan x="1050.5" y="1885.6" font-size="56.0" textLength="34.1" lengthAdjust="spacingAndGlyphs">e</tspan><tspan x="1085.5" y="1864.2" font-size="113.9" textLength="36.9" lengthAdjust="spacingAndGlyphs">[</tspan><tspan x="1126.4" y="1858.8" font-size="94.4" textLength="58.0" lengthAdjust="spacingAndGlyphs">p</tspan><tspan x="1186.4" y="1858.4" font-size="94.4" textLength="51.1" lengthAdjust="spacingAndGlyphs">c</tspan><tspan x="1243.4" y="1864.2" font-size="113.9" textLength="36.5" lengthAdjust="spacingAndGlyphs">]</tspan><tspan x="1284.7" y="1856.6" font-size="106.9" textLength="30.8" lengthAdjust="spacingAndGlyphs">)</tspan></text>
<text transform="rotate(-90)" font-family="'Liberation Serif', 'DejaVu Serif', serif" stroke="#fff" stroke-width="1.2" fill="#000"><tspan x="-1224.2" y="118.1" font-size="96.5" textLength="27.4" lengthAdjust="spacingAndGlyphs">l</tspan><tspan x="-1191.9" y="116.0" font-size="94.8" textLength="52.0" lengthAdjust="spacingAndGlyphs">o</tspan><tspan x="-1137.5" y="120.0" font-size="96.5" textLength="51.6" lengthAdjust="spacingAndGlyphs">g</tspan><tspan x="-1078.0" y="113.5" font-size="105.2" textLength="31.6" lengthAdjust="spacingAndGlyphs">(</tspan><tspan x="-1040.0" y="116.9" font-size="98.8" textLength="27.8" lengthAdjust="spacingAndGlyphs">I</tspan><tspan x="-1010.0" y="142.9" font-size="61.7" textLength="33.1" lengthAdjust="spacingAndGlyphs">e</tspan><tspan x="-926.8" y="120.6" font-size="115.5" textLength="31.4" lengthAdjust="spacingAndGlyphs">[</tspan><tspan x="-882.1" y="116.3" font-size="98.3" textLength="47.6" lengthAdjust="spacingAndGlyphs">L</tspan><tspan x="-842.7" y="142.9" font-size="62.5" textLength="55.2" lengthAdjust="spacingAndGlyphs">⊙</tspan><tspan x="-784.8" y="118.9" font-size="96.5" textLength="48.3" lengthAdjust="spacingAndGlyphs">/</tspan><tspan x="-726.5" y="115.5" font-size="96.5" textLength="55.7" lengthAdjust="spacingAndGlyphs">p</tspan><tspan x="-666.9" y="115.4" font-size="93.3" textLength="48.6" lengthAdjust="spacingAndGlyphs">c</tspan><tspan x="-614.4" y="89.6" font-size="65.5" textLength="37.2" lengthAdjust="spacingAndGlyphs">2</tspan><tspan x="-574.8" y="119.7" font-size="113.0" textLength="32.3" lengthAdjust="spacingAndGlyphs">]</tspan><tspan x="-535.3" y="112.8" font-size="103.0" textLength="30.0" lengthAdjust="spacingAndGlyphs">)</tspan></text>
</svg>
</body></html>
